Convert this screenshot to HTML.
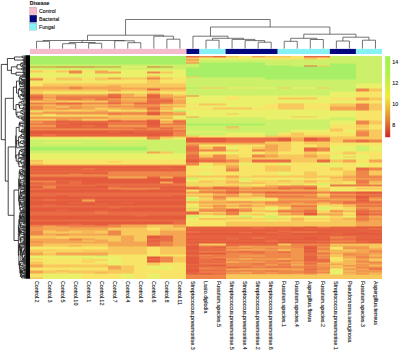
<!DOCTYPE html>
<html><head><meta charset="utf-8"><style>
html,body{margin:0;padding:0;background:#fff;width:400px;height:351px;overflow:hidden}
svg{display:block;font-family:"Liberation Sans",sans-serif}
</style></head><body>
<svg width="400" height="351" viewBox="0 0 400 351">
<defs><linearGradient id="c0" x1="0" y1="0" x2="0" y2="1"><stop offset="0.0000" stop-color="#a8ef68"/><stop offset="0.0392" stop-color="#a8ef68"/><stop offset="0.0415" stop-color="#cdf06a"/><stop offset="0.0482" stop-color="#cdf06a"/><stop offset="0.0504" stop-color="#c89a40"/><stop offset="0.0527" stop-color="#c89a40"/><stop offset="0.0549" stop-color="#cdf06a"/><stop offset="0.0617" stop-color="#cdf06a"/><stop offset="0.0639" stop-color="#eaf06a"/><stop offset="0.0661" stop-color="#eaf06a"/><stop offset="0.0684" stop-color="#f8c85c"/><stop offset="0.0751" stop-color="#f8c85c"/><stop offset="0.0774" stop-color="#eaf06a"/><stop offset="0.0975" stop-color="#eaf06a"/><stop offset="0.0998" stop-color="#f8c85c"/><stop offset="0.1020" stop-color="#f8c85c"/><stop offset="0.1043" stop-color="#ef874a"/><stop offset="0.1110" stop-color="#ef874a"/><stop offset="0.1132" stop-color="#eaf06a"/><stop offset="0.1155" stop-color="#eaf06a"/><stop offset="0.1177" stop-color="#f8e466"/><stop offset="0.1379" stop-color="#f8e466"/><stop offset="0.1401" stop-color="#f4a652"/><stop offset="0.1513" stop-color="#f4a652"/><stop offset="0.1536" stop-color="#f8c85c"/><stop offset="0.1648" stop-color="#f8c85c"/><stop offset="0.1670" stop-color="#f8e466"/><stop offset="0.1693" stop-color="#f8e466"/><stop offset="0.1715" stop-color="#f4a652"/><stop offset="0.1738" stop-color="#f4a652"/><stop offset="0.1760" stop-color="#ef874a"/><stop offset="0.1783" stop-color="#ef874a"/><stop offset="0.1805" stop-color="#e96c44"/><stop offset="0.1872" stop-color="#e96c44"/><stop offset="0.1895" stop-color="#e45a3c"/><stop offset="0.1917" stop-color="#e45a3c"/><stop offset="0.1939" stop-color="#ef874a"/><stop offset="0.1962" stop-color="#ef874a"/><stop offset="0.1984" stop-color="#e96c44"/><stop offset="0.2007" stop-color="#e96c44"/><stop offset="0.2029" stop-color="#f8c85c"/><stop offset="0.2096" stop-color="#f8c85c"/><stop offset="0.2119" stop-color="#ef874a"/><stop offset="0.2141" stop-color="#ef874a"/><stop offset="0.2164" stop-color="#e96c44"/><stop offset="0.2186" stop-color="#e96c44"/><stop offset="0.2209" stop-color="#f8c85c"/><stop offset="0.2231" stop-color="#f8c85c"/><stop offset="0.2253" stop-color="#ef874a"/><stop offset="0.2410" stop-color="#ef874a"/><stop offset="0.2433" stop-color="#f4a652"/><stop offset="0.2455" stop-color="#f4a652"/><stop offset="0.2478" stop-color="#eaf06a"/><stop offset="0.2500" stop-color="#eaf06a"/><stop offset="0.2522" stop-color="#f8c85c"/><stop offset="0.2545" stop-color="#f8c85c"/><stop offset="0.2567" stop-color="#f4a652"/><stop offset="0.2635" stop-color="#f4a652"/><stop offset="0.2657" stop-color="#f8c85c"/><stop offset="0.2679" stop-color="#f8c85c"/><stop offset="0.2702" stop-color="#f8e466"/><stop offset="0.2724" stop-color="#f8e466"/><stop offset="0.2747" stop-color="#f4a652"/><stop offset="0.2769" stop-color="#f4a652"/><stop offset="0.2791" stop-color="#ef874a"/><stop offset="0.2814" stop-color="#ef874a"/><stop offset="0.2836" stop-color="#f8c85c"/><stop offset="0.2904" stop-color="#f8c85c"/><stop offset="0.2926" stop-color="#ef874a"/><stop offset="0.2993" stop-color="#ef874a"/><stop offset="0.3016" stop-color="#f4a652"/><stop offset="0.3038" stop-color="#f4a652"/><stop offset="0.3061" stop-color="#e96c44"/><stop offset="0.3083" stop-color="#e96c44"/><stop offset="0.3105" stop-color="#ef874a"/><stop offset="0.3128" stop-color="#ef874a"/><stop offset="0.3150" stop-color="#f4a652"/><stop offset="0.3173" stop-color="#f4a652"/><stop offset="0.3195" stop-color="#ef874a"/><stop offset="0.3217" stop-color="#ef874a"/><stop offset="0.3240" stop-color="#e96c44"/><stop offset="0.3262" stop-color="#e96c44"/><stop offset="0.3285" stop-color="#ef874a"/><stop offset="0.3352" stop-color="#ef874a"/><stop offset="0.3374" stop-color="#e45a3c"/><stop offset="0.3531" stop-color="#e45a3c"/><stop offset="0.3554" stop-color="#e96c44"/><stop offset="0.3576" stop-color="#e96c44"/><stop offset="0.3599" stop-color="#e45a3c"/><stop offset="0.3621" stop-color="#e45a3c"/><stop offset="0.3643" stop-color="#f8c85c"/><stop offset="0.3666" stop-color="#f8c85c"/><stop offset="0.3688" stop-color="#eaf06a"/><stop offset="0.3756" stop-color="#eaf06a"/><stop offset="0.3778" stop-color="#cdf06a"/><stop offset="0.4070" stop-color="#cdf06a"/><stop offset="0.4092" stop-color="#a8ef68"/><stop offset="0.4249" stop-color="#a8ef68"/><stop offset="0.4271" stop-color="#cdf06a"/><stop offset="0.4383" stop-color="#cdf06a"/><stop offset="0.4406" stop-color="#eaf06a"/><stop offset="0.4652" stop-color="#eaf06a"/><stop offset="0.4675" stop-color="#f8e466"/><stop offset="0.4697" stop-color="#f8e466"/><stop offset="0.4720" stop-color="#f4a652"/><stop offset="0.4742" stop-color="#f4a652"/><stop offset="0.4765" stop-color="#f8e466"/><stop offset="0.4787" stop-color="#f8e466"/><stop offset="0.4809" stop-color="#f8c85c"/><stop offset="0.4877" stop-color="#f8c85c"/><stop offset="0.4899" stop-color="#f4a652"/><stop offset="0.4922" stop-color="#f4a652"/><stop offset="0.4944" stop-color="#e96c44"/><stop offset="0.4966" stop-color="#e96c44"/><stop offset="0.4989" stop-color="#e45a3c"/><stop offset="0.5056" stop-color="#e45a3c"/><stop offset="0.5078" stop-color="#e96c44"/><stop offset="0.5101" stop-color="#e96c44"/><stop offset="0.5123" stop-color="#e45a3c"/><stop offset="0.5146" stop-color="#e45a3c"/><stop offset="0.5168" stop-color="#e96c44"/><stop offset="0.5235" stop-color="#e96c44"/><stop offset="0.5258" stop-color="#e45a3c"/><stop offset="0.5280" stop-color="#e45a3c"/><stop offset="0.5303" stop-color="#e96c44"/><stop offset="0.5325" stop-color="#e96c44"/><stop offset="0.5348" stop-color="#ef874a"/><stop offset="0.5415" stop-color="#ef874a"/><stop offset="0.5437" stop-color="#e96c44"/><stop offset="0.5460" stop-color="#e96c44"/><stop offset="0.5482" stop-color="#e45a3c"/><stop offset="0.5594" stop-color="#e45a3c"/><stop offset="0.5617" stop-color="#ef874a"/><stop offset="0.5684" stop-color="#ef874a"/><stop offset="0.5706" stop-color="#e45a3c"/><stop offset="0.5729" stop-color="#e45a3c"/><stop offset="0.5751" stop-color="#e96c44"/><stop offset="0.5863" stop-color="#e96c44"/><stop offset="0.5886" stop-color="#e45a3c"/><stop offset="0.5953" stop-color="#e45a3c"/><stop offset="0.5975" stop-color="#ef874a"/><stop offset="0.5998" stop-color="#ef874a"/><stop offset="0.6020" stop-color="#e45a3c"/><stop offset="0.6132" stop-color="#e45a3c"/><stop offset="0.6155" stop-color="#e96c44"/><stop offset="0.6312" stop-color="#e96c44"/><stop offset="0.6334" stop-color="#e45a3c"/><stop offset="0.6446" stop-color="#e45a3c"/><stop offset="0.6469" stop-color="#e96c44"/><stop offset="0.6491" stop-color="#e96c44"/><stop offset="0.6513" stop-color="#e45a3c"/><stop offset="0.6715" stop-color="#e45a3c"/><stop offset="0.6738" stop-color="#e96c44"/><stop offset="0.6805" stop-color="#e96c44"/><stop offset="0.6827" stop-color="#e45a3c"/><stop offset="0.6984" stop-color="#e45a3c"/><stop offset="0.7007" stop-color="#e96c44"/><stop offset="0.7164" stop-color="#e96c44"/><stop offset="0.7186" stop-color="#e45a3c"/><stop offset="0.7343" stop-color="#e45a3c"/><stop offset="0.7365" stop-color="#e96c44"/><stop offset="0.7433" stop-color="#e96c44"/><stop offset="0.7455" stop-color="#e45a3c"/><stop offset="0.7567" stop-color="#e45a3c"/><stop offset="0.7590" stop-color="#e96c44"/><stop offset="0.7612" stop-color="#e96c44"/><stop offset="0.7635" stop-color="#ef874a"/><stop offset="0.7702" stop-color="#ef874a"/><stop offset="0.7724" stop-color="#f4a652"/><stop offset="0.7747" stop-color="#f4a652"/><stop offset="0.7769" stop-color="#ef874a"/><stop offset="0.7791" stop-color="#ef874a"/><stop offset="0.7814" stop-color="#f4a652"/><stop offset="0.7836" stop-color="#f4a652"/><stop offset="0.7859" stop-color="#ef874a"/><stop offset="0.8061" stop-color="#ef874a"/><stop offset="0.8083" stop-color="#f8c85c"/><stop offset="0.8195" stop-color="#f8c85c"/><stop offset="0.8217" stop-color="#f4a652"/><stop offset="0.8330" stop-color="#f4a652"/><stop offset="0.8352" stop-color="#ef874a"/><stop offset="0.8374" stop-color="#ef874a"/><stop offset="0.8397" stop-color="#f4a652"/><stop offset="0.8554" stop-color="#f4a652"/><stop offset="0.8576" stop-color="#f8e466"/><stop offset="0.8599" stop-color="#f8e466"/><stop offset="0.8621" stop-color="#eaf06a"/><stop offset="0.8643" stop-color="#eaf06a"/><stop offset="0.8666" stop-color="#f8e466"/><stop offset="0.8688" stop-color="#f8e466"/><stop offset="0.8711" stop-color="#f8c85c"/><stop offset="0.8823" stop-color="#f8c85c"/><stop offset="0.8845" stop-color="#f4a652"/><stop offset="0.8957" stop-color="#f4a652"/><stop offset="0.8980" stop-color="#eaf06a"/><stop offset="0.9092" stop-color="#eaf06a"/><stop offset="0.9114" stop-color="#f8c85c"/><stop offset="0.9137" stop-color="#f8c85c"/><stop offset="0.9159" stop-color="#f8e466"/><stop offset="0.9226" stop-color="#f8e466"/><stop offset="0.9249" stop-color="#f8c85c"/><stop offset="0.9361" stop-color="#f8c85c"/><stop offset="0.9383" stop-color="#f4a652"/><stop offset="0.9496" stop-color="#f4a652"/><stop offset="0.9518" stop-color="#f8e466"/><stop offset="0.9630" stop-color="#f8e466"/><stop offset="0.9652" stop-color="#f4a652"/><stop offset="0.9765" stop-color="#f4a652"/><stop offset="0.9787" stop-color="#f8e466"/><stop offset="0.9944" stop-color="#f8e466"/><stop offset="0.9966" stop-color="#f8c85c"/><stop offset="1.0000" stop-color="#f8c85c"/></linearGradient>
<linearGradient id="c1" x1="0" y1="0" x2="0" y2="1"><stop offset="0.0000" stop-color="#a8ef68"/><stop offset="0.0392" stop-color="#a8ef68"/><stop offset="0.0415" stop-color="#cdf06a"/><stop offset="0.0482" stop-color="#cdf06a"/><stop offset="0.0504" stop-color="#c89a40"/><stop offset="0.0527" stop-color="#c89a40"/><stop offset="0.0549" stop-color="#cdf06a"/><stop offset="0.0617" stop-color="#cdf06a"/><stop offset="0.0639" stop-color="#eaf06a"/><stop offset="0.0661" stop-color="#eaf06a"/><stop offset="0.0684" stop-color="#f8e466"/><stop offset="0.0751" stop-color="#f8e466"/><stop offset="0.0774" stop-color="#eaf06a"/><stop offset="0.0975" stop-color="#eaf06a"/><stop offset="0.0998" stop-color="#f8e466"/><stop offset="0.1110" stop-color="#f8e466"/><stop offset="0.1132" stop-color="#eaf06a"/><stop offset="0.1155" stop-color="#eaf06a"/><stop offset="0.1177" stop-color="#f8e466"/><stop offset="0.1244" stop-color="#f8e466"/><stop offset="0.1267" stop-color="#f8c85c"/><stop offset="0.1379" stop-color="#f8c85c"/><stop offset="0.1401" stop-color="#f4a652"/><stop offset="0.1513" stop-color="#f4a652"/><stop offset="0.1536" stop-color="#f8c85c"/><stop offset="0.1603" stop-color="#f8c85c"/><stop offset="0.1626" stop-color="#f8e466"/><stop offset="0.1648" stop-color="#f8e466"/><stop offset="0.1670" stop-color="#eaf06a"/><stop offset="0.1693" stop-color="#eaf06a"/><stop offset="0.1715" stop-color="#f8c85c"/><stop offset="0.1738" stop-color="#f8c85c"/><stop offset="0.1760" stop-color="#f4a652"/><stop offset="0.1872" stop-color="#f4a652"/><stop offset="0.1895" stop-color="#ef874a"/><stop offset="0.1917" stop-color="#ef874a"/><stop offset="0.1939" stop-color="#f8c85c"/><stop offset="0.1962" stop-color="#f8c85c"/><stop offset="0.1984" stop-color="#f4a652"/><stop offset="0.2052" stop-color="#f4a652"/><stop offset="0.2074" stop-color="#f8c85c"/><stop offset="0.2096" stop-color="#f8c85c"/><stop offset="0.2119" stop-color="#ef874a"/><stop offset="0.2186" stop-color="#ef874a"/><stop offset="0.2209" stop-color="#f8c85c"/><stop offset="0.2231" stop-color="#f8c85c"/><stop offset="0.2253" stop-color="#f4a652"/><stop offset="0.2410" stop-color="#f4a652"/><stop offset="0.2433" stop-color="#f8c85c"/><stop offset="0.2500" stop-color="#f8c85c"/><stop offset="0.2522" stop-color="#f4a652"/><stop offset="0.2545" stop-color="#f4a652"/><stop offset="0.2567" stop-color="#ef874a"/><stop offset="0.2590" stop-color="#ef874a"/><stop offset="0.2612" stop-color="#f8c85c"/><stop offset="0.2635" stop-color="#f8c85c"/><stop offset="0.2657" stop-color="#f8e466"/><stop offset="0.2679" stop-color="#f8e466"/><stop offset="0.2702" stop-color="#eaf06a"/><stop offset="0.2724" stop-color="#eaf06a"/><stop offset="0.2747" stop-color="#f4a652"/><stop offset="0.2769" stop-color="#f4a652"/><stop offset="0.2791" stop-color="#ef874a"/><stop offset="0.2814" stop-color="#ef874a"/><stop offset="0.2836" stop-color="#f8c85c"/><stop offset="0.2904" stop-color="#f8c85c"/><stop offset="0.2926" stop-color="#ef874a"/><stop offset="0.2948" stop-color="#ef874a"/><stop offset="0.2971" stop-color="#e96c44"/><stop offset="0.2993" stop-color="#e96c44"/><stop offset="0.3016" stop-color="#ef874a"/><stop offset="0.3038" stop-color="#ef874a"/><stop offset="0.3061" stop-color="#e96c44"/><stop offset="0.3083" stop-color="#e96c44"/><stop offset="0.3105" stop-color="#ef874a"/><stop offset="0.3128" stop-color="#ef874a"/><stop offset="0.3150" stop-color="#f4a652"/><stop offset="0.3173" stop-color="#f4a652"/><stop offset="0.3195" stop-color="#ef874a"/><stop offset="0.3217" stop-color="#ef874a"/><stop offset="0.3240" stop-color="#e96c44"/><stop offset="0.3262" stop-color="#e96c44"/><stop offset="0.3285" stop-color="#ef874a"/><stop offset="0.3352" stop-color="#ef874a"/><stop offset="0.3374" stop-color="#e45a3c"/><stop offset="0.3531" stop-color="#e45a3c"/><stop offset="0.3554" stop-color="#ef874a"/><stop offset="0.3576" stop-color="#ef874a"/><stop offset="0.3599" stop-color="#e45a3c"/><stop offset="0.3621" stop-color="#e45a3c"/><stop offset="0.3643" stop-color="#f8c85c"/><stop offset="0.3666" stop-color="#f8c85c"/><stop offset="0.3688" stop-color="#eaf06a"/><stop offset="0.3756" stop-color="#eaf06a"/><stop offset="0.3778" stop-color="#cdf06a"/><stop offset="0.3890" stop-color="#cdf06a"/><stop offset="0.3913" stop-color="#eaf06a"/><stop offset="0.3935" stop-color="#eaf06a"/><stop offset="0.3957" stop-color="#cdf06a"/><stop offset="0.4070" stop-color="#cdf06a"/><stop offset="0.4092" stop-color="#a8ef68"/><stop offset="0.4249" stop-color="#a8ef68"/><stop offset="0.4271" stop-color="#cdf06a"/><stop offset="0.4383" stop-color="#cdf06a"/><stop offset="0.4406" stop-color="#eaf06a"/><stop offset="0.4652" stop-color="#eaf06a"/><stop offset="0.4675" stop-color="#f8e466"/><stop offset="0.4877" stop-color="#f8e466"/><stop offset="0.4899" stop-color="#f4a652"/><stop offset="0.4922" stop-color="#f4a652"/><stop offset="0.4944" stop-color="#e96c44"/><stop offset="0.4966" stop-color="#e96c44"/><stop offset="0.4989" stop-color="#e45a3c"/><stop offset="0.5056" stop-color="#e45a3c"/><stop offset="0.5078" stop-color="#e96c44"/><stop offset="0.5101" stop-color="#e96c44"/><stop offset="0.5123" stop-color="#e45a3c"/><stop offset="0.5146" stop-color="#e45a3c"/><stop offset="0.5168" stop-color="#e96c44"/><stop offset="0.5235" stop-color="#e96c44"/><stop offset="0.5258" stop-color="#e45a3c"/><stop offset="0.5280" stop-color="#e45a3c"/><stop offset="0.5303" stop-color="#e96c44"/><stop offset="0.5325" stop-color="#e96c44"/><stop offset="0.5348" stop-color="#ef874a"/><stop offset="0.5415" stop-color="#ef874a"/><stop offset="0.5437" stop-color="#e96c44"/><stop offset="0.5460" stop-color="#e96c44"/><stop offset="0.5482" stop-color="#e45a3c"/><stop offset="0.5594" stop-color="#e45a3c"/><stop offset="0.5617" stop-color="#ef874a"/><stop offset="0.5684" stop-color="#ef874a"/><stop offset="0.5706" stop-color="#e96c44"/><stop offset="0.5818" stop-color="#e96c44"/><stop offset="0.5841" stop-color="#ef874a"/><stop offset="0.5953" stop-color="#ef874a"/><stop offset="0.5975" stop-color="#e96c44"/><stop offset="0.5998" stop-color="#e96c44"/><stop offset="0.6020" stop-color="#e45a3c"/><stop offset="0.6132" stop-color="#e45a3c"/><stop offset="0.6155" stop-color="#e96c44"/><stop offset="0.6312" stop-color="#e96c44"/><stop offset="0.6334" stop-color="#e45a3c"/><stop offset="0.6446" stop-color="#e45a3c"/><stop offset="0.6469" stop-color="#ef874a"/><stop offset="0.6491" stop-color="#ef874a"/><stop offset="0.6513" stop-color="#e45a3c"/><stop offset="0.6670" stop-color="#e45a3c"/><stop offset="0.6693" stop-color="#e96c44"/><stop offset="0.6805" stop-color="#e96c44"/><stop offset="0.6827" stop-color="#e45a3c"/><stop offset="0.6984" stop-color="#e45a3c"/><stop offset="0.7007" stop-color="#e96c44"/><stop offset="0.7164" stop-color="#e96c44"/><stop offset="0.7186" stop-color="#e45a3c"/><stop offset="0.7343" stop-color="#e45a3c"/><stop offset="0.7365" stop-color="#e96c44"/><stop offset="0.7433" stop-color="#e96c44"/><stop offset="0.7455" stop-color="#e45a3c"/><stop offset="0.7567" stop-color="#e45a3c"/><stop offset="0.7590" stop-color="#e96c44"/><stop offset="0.7612" stop-color="#e96c44"/><stop offset="0.7635" stop-color="#f4a652"/><stop offset="0.7836" stop-color="#f4a652"/><stop offset="0.7859" stop-color="#f8c85c"/><stop offset="0.7971" stop-color="#f8c85c"/><stop offset="0.7993" stop-color="#f4a652"/><stop offset="0.8061" stop-color="#f4a652"/><stop offset="0.8083" stop-color="#f8c85c"/><stop offset="0.8195" stop-color="#f8c85c"/><stop offset="0.8217" stop-color="#f4a652"/><stop offset="0.8419" stop-color="#f4a652"/><stop offset="0.8442" stop-color="#f8c85c"/><stop offset="0.8554" stop-color="#f8c85c"/><stop offset="0.8576" stop-color="#f8e466"/><stop offset="0.8688" stop-color="#f8e466"/><stop offset="0.8711" stop-color="#f8c85c"/><stop offset="0.8778" stop-color="#f8c85c"/><stop offset="0.8800" stop-color="#f8e466"/><stop offset="0.8823" stop-color="#f8e466"/><stop offset="0.8845" stop-color="#f8c85c"/><stop offset="0.8957" stop-color="#f8c85c"/><stop offset="0.8980" stop-color="#f8e466"/><stop offset="0.9002" stop-color="#f8e466"/><stop offset="0.9025" stop-color="#eaf06a"/><stop offset="0.9092" stop-color="#eaf06a"/><stop offset="0.9114" stop-color="#f8e466"/><stop offset="0.9226" stop-color="#f8e466"/><stop offset="0.9249" stop-color="#eaf06a"/><stop offset="0.9271" stop-color="#eaf06a"/><stop offset="0.9294" stop-color="#f8e466"/><stop offset="0.9361" stop-color="#f8e466"/><stop offset="0.9383" stop-color="#f8c85c"/><stop offset="0.9496" stop-color="#f8c85c"/><stop offset="0.9518" stop-color="#f8e466"/><stop offset="0.9630" stop-color="#f8e466"/><stop offset="0.9652" stop-color="#f8c85c"/><stop offset="0.9765" stop-color="#f8c85c"/><stop offset="0.9787" stop-color="#eaf06a"/><stop offset="1.0000" stop-color="#eaf06a"/></linearGradient>
<linearGradient id="c2" x1="0" y1="0" x2="0" y2="1"><stop offset="0.0000" stop-color="#a8ef68"/><stop offset="0.0392" stop-color="#a8ef68"/><stop offset="0.0415" stop-color="#cdf06a"/><stop offset="0.0482" stop-color="#cdf06a"/><stop offset="0.0504" stop-color="#d07838"/><stop offset="0.0527" stop-color="#d07838"/><stop offset="0.0549" stop-color="#cdf06a"/><stop offset="0.0617" stop-color="#cdf06a"/><stop offset="0.0639" stop-color="#eaf06a"/><stop offset="0.0661" stop-color="#eaf06a"/><stop offset="0.0684" stop-color="#f8c85c"/><stop offset="0.0751" stop-color="#f8c85c"/><stop offset="0.0774" stop-color="#eaf06a"/><stop offset="0.0975" stop-color="#eaf06a"/><stop offset="0.0998" stop-color="#f8c85c"/><stop offset="0.1110" stop-color="#f8c85c"/><stop offset="0.1132" stop-color="#eaf06a"/><stop offset="0.1155" stop-color="#eaf06a"/><stop offset="0.1177" stop-color="#f8e466"/><stop offset="0.1244" stop-color="#f8e466"/><stop offset="0.1267" stop-color="#f8c85c"/><stop offset="0.1379" stop-color="#f8c85c"/><stop offset="0.1401" stop-color="#f4a652"/><stop offset="0.1513" stop-color="#f4a652"/><stop offset="0.1536" stop-color="#f8c85c"/><stop offset="0.1603" stop-color="#f8c85c"/><stop offset="0.1626" stop-color="#f8e466"/><stop offset="0.1648" stop-color="#f8e466"/><stop offset="0.1670" stop-color="#eaf06a"/><stop offset="0.1693" stop-color="#eaf06a"/><stop offset="0.1715" stop-color="#f8c85c"/><stop offset="0.1738" stop-color="#f8c85c"/><stop offset="0.1760" stop-color="#f4a652"/><stop offset="0.1783" stop-color="#f4a652"/><stop offset="0.1805" stop-color="#ef874a"/><stop offset="0.1872" stop-color="#ef874a"/><stop offset="0.1895" stop-color="#e96c44"/><stop offset="0.1917" stop-color="#e96c44"/><stop offset="0.1939" stop-color="#ef874a"/><stop offset="0.2007" stop-color="#ef874a"/><stop offset="0.2029" stop-color="#f8c85c"/><stop offset="0.2096" stop-color="#f8c85c"/><stop offset="0.2119" stop-color="#e96c44"/><stop offset="0.2186" stop-color="#e96c44"/><stop offset="0.2209" stop-color="#f4a652"/><stop offset="0.2276" stop-color="#f4a652"/><stop offset="0.2298" stop-color="#f8c85c"/><stop offset="0.2321" stop-color="#f8c85c"/><stop offset="0.2343" stop-color="#f4a652"/><stop offset="0.2365" stop-color="#f4a652"/><stop offset="0.2388" stop-color="#ef874a"/><stop offset="0.2410" stop-color="#ef874a"/><stop offset="0.2433" stop-color="#f8c85c"/><stop offset="0.2500" stop-color="#f8c85c"/><stop offset="0.2522" stop-color="#f4a652"/><stop offset="0.2545" stop-color="#f4a652"/><stop offset="0.2567" stop-color="#ef874a"/><stop offset="0.2590" stop-color="#ef874a"/><stop offset="0.2612" stop-color="#f4a652"/><stop offset="0.2635" stop-color="#f4a652"/><stop offset="0.2657" stop-color="#f8c85c"/><stop offset="0.2679" stop-color="#f8c85c"/><stop offset="0.2702" stop-color="#f8e466"/><stop offset="0.2724" stop-color="#f8e466"/><stop offset="0.2747" stop-color="#f4a652"/><stop offset="0.2769" stop-color="#f4a652"/><stop offset="0.2791" stop-color="#ef874a"/><stop offset="0.2814" stop-color="#ef874a"/><stop offset="0.2836" stop-color="#f4a652"/><stop offset="0.2859" stop-color="#f4a652"/><stop offset="0.2881" stop-color="#ef874a"/><stop offset="0.2904" stop-color="#ef874a"/><stop offset="0.2926" stop-color="#e96c44"/><stop offset="0.2948" stop-color="#e96c44"/><stop offset="0.2971" stop-color="#e45a3c"/><stop offset="0.2993" stop-color="#e45a3c"/><stop offset="0.3016" stop-color="#e96c44"/><stop offset="0.3083" stop-color="#e96c44"/><stop offset="0.3105" stop-color="#e45a3c"/><stop offset="0.3128" stop-color="#e45a3c"/><stop offset="0.3150" stop-color="#e96c44"/><stop offset="0.3173" stop-color="#e96c44"/><stop offset="0.3195" stop-color="#e45a3c"/><stop offset="0.3217" stop-color="#e45a3c"/><stop offset="0.3240" stop-color="#e96c44"/><stop offset="0.3262" stop-color="#e96c44"/><stop offset="0.3285" stop-color="#ef874a"/><stop offset="0.3352" stop-color="#ef874a"/><stop offset="0.3374" stop-color="#e45a3c"/><stop offset="0.3531" stop-color="#e45a3c"/><stop offset="0.3554" stop-color="#e96c44"/><stop offset="0.3576" stop-color="#e96c44"/><stop offset="0.3599" stop-color="#e45a3c"/><stop offset="0.3621" stop-color="#e45a3c"/><stop offset="0.3643" stop-color="#f8c85c"/><stop offset="0.3666" stop-color="#f8c85c"/><stop offset="0.3688" stop-color="#eaf06a"/><stop offset="0.3756" stop-color="#eaf06a"/><stop offset="0.3778" stop-color="#cdf06a"/><stop offset="0.3890" stop-color="#cdf06a"/><stop offset="0.3913" stop-color="#eaf06a"/><stop offset="0.3935" stop-color="#eaf06a"/><stop offset="0.3957" stop-color="#cdf06a"/><stop offset="0.4070" stop-color="#cdf06a"/><stop offset="0.4092" stop-color="#a8ef68"/><stop offset="0.4249" stop-color="#a8ef68"/><stop offset="0.4271" stop-color="#cdf06a"/><stop offset="0.4383" stop-color="#cdf06a"/><stop offset="0.4406" stop-color="#eaf06a"/><stop offset="0.4652" stop-color="#eaf06a"/><stop offset="0.4675" stop-color="#f8e466"/><stop offset="0.4877" stop-color="#f8e466"/><stop offset="0.4899" stop-color="#f4a652"/><stop offset="0.4922" stop-color="#f4a652"/><stop offset="0.4944" stop-color="#e96c44"/><stop offset="0.4966" stop-color="#e96c44"/><stop offset="0.4989" stop-color="#e45a3c"/><stop offset="0.5056" stop-color="#e45a3c"/><stop offset="0.5078" stop-color="#e96c44"/><stop offset="0.5101" stop-color="#e96c44"/><stop offset="0.5123" stop-color="#e45a3c"/><stop offset="0.5146" stop-color="#e45a3c"/><stop offset="0.5168" stop-color="#e96c44"/><stop offset="0.5235" stop-color="#e96c44"/><stop offset="0.5258" stop-color="#e45a3c"/><stop offset="0.5280" stop-color="#e45a3c"/><stop offset="0.5303" stop-color="#e96c44"/><stop offset="0.5325" stop-color="#e96c44"/><stop offset="0.5348" stop-color="#ef874a"/><stop offset="0.5415" stop-color="#ef874a"/><stop offset="0.5437" stop-color="#e96c44"/><stop offset="0.5460" stop-color="#e96c44"/><stop offset="0.5482" stop-color="#e45a3c"/><stop offset="0.5594" stop-color="#e45a3c"/><stop offset="0.5617" stop-color="#e96c44"/><stop offset="0.5639" stop-color="#e96c44"/><stop offset="0.5661" stop-color="#e45a3c"/><stop offset="0.5729" stop-color="#e45a3c"/><stop offset="0.5751" stop-color="#e96c44"/><stop offset="0.5863" stop-color="#e96c44"/><stop offset="0.5886" stop-color="#e45a3c"/><stop offset="0.5953" stop-color="#e45a3c"/><stop offset="0.5975" stop-color="#e96c44"/><stop offset="0.5998" stop-color="#e96c44"/><stop offset="0.6020" stop-color="#e45a3c"/><stop offset="0.6132" stop-color="#e45a3c"/><stop offset="0.6155" stop-color="#e96c44"/><stop offset="0.6267" stop-color="#e96c44"/><stop offset="0.6289" stop-color="#e45a3c"/><stop offset="0.6446" stop-color="#e45a3c"/><stop offset="0.6469" stop-color="#e96c44"/><stop offset="0.6491" stop-color="#e96c44"/><stop offset="0.6513" stop-color="#e45a3c"/><stop offset="0.6715" stop-color="#e45a3c"/><stop offset="0.6738" stop-color="#e96c44"/><stop offset="0.6805" stop-color="#e96c44"/><stop offset="0.6827" stop-color="#e45a3c"/><stop offset="0.6895" stop-color="#e45a3c"/><stop offset="0.6917" stop-color="#e96c44"/><stop offset="0.6939" stop-color="#e96c44"/><stop offset="0.6962" stop-color="#e45a3c"/><stop offset="0.6984" stop-color="#e45a3c"/><stop offset="0.7007" stop-color="#e96c44"/><stop offset="0.7164" stop-color="#e96c44"/><stop offset="0.7186" stop-color="#e45a3c"/><stop offset="0.7343" stop-color="#e45a3c"/><stop offset="0.7365" stop-color="#e96c44"/><stop offset="0.7433" stop-color="#e96c44"/><stop offset="0.7455" stop-color="#e45a3c"/><stop offset="0.7567" stop-color="#e45a3c"/><stop offset="0.7590" stop-color="#e96c44"/><stop offset="0.7612" stop-color="#e96c44"/><stop offset="0.7635" stop-color="#ef874a"/><stop offset="0.7657" stop-color="#ef874a"/><stop offset="0.7679" stop-color="#f4a652"/><stop offset="0.7881" stop-color="#f4a652"/><stop offset="0.7904" stop-color="#f8c85c"/><stop offset="0.7971" stop-color="#f8c85c"/><stop offset="0.7993" stop-color="#f4a652"/><stop offset="0.8016" stop-color="#f4a652"/><stop offset="0.8038" stop-color="#ef874a"/><stop offset="0.8061" stop-color="#ef874a"/><stop offset="0.8083" stop-color="#f8c85c"/><stop offset="0.8150" stop-color="#f8c85c"/><stop offset="0.8173" stop-color="#f8e466"/><stop offset="0.8195" stop-color="#f8e466"/><stop offset="0.8217" stop-color="#f4a652"/><stop offset="0.8419" stop-color="#f4a652"/><stop offset="0.8442" stop-color="#f8c85c"/><stop offset="0.8554" stop-color="#f8c85c"/><stop offset="0.8576" stop-color="#f8e466"/><stop offset="0.8688" stop-color="#f8e466"/><stop offset="0.8711" stop-color="#f8c85c"/><stop offset="0.8733" stop-color="#f8c85c"/><stop offset="0.8756" stop-color="#f8e466"/><stop offset="0.8778" stop-color="#f8e466"/><stop offset="0.8800" stop-color="#f8c85c"/><stop offset="0.8823" stop-color="#f8c85c"/><stop offset="0.8845" stop-color="#f4a652"/><stop offset="0.8957" stop-color="#f4a652"/><stop offset="0.8980" stop-color="#eaf06a"/><stop offset="0.9092" stop-color="#eaf06a"/><stop offset="0.9114" stop-color="#f8e466"/><stop offset="0.9361" stop-color="#f8e466"/><stop offset="0.9383" stop-color="#f8c85c"/><stop offset="0.9496" stop-color="#f8c85c"/><stop offset="0.9518" stop-color="#f8e466"/><stop offset="0.9630" stop-color="#f8e466"/><stop offset="0.9652" stop-color="#f4a652"/><stop offset="0.9675" stop-color="#f4a652"/><stop offset="0.9697" stop-color="#f8e466"/><stop offset="0.9720" stop-color="#f8e466"/><stop offset="0.9742" stop-color="#f8c85c"/><stop offset="0.9765" stop-color="#f8c85c"/><stop offset="0.9787" stop-color="#eaf06a"/><stop offset="1.0000" stop-color="#eaf06a"/></linearGradient>
<linearGradient id="c3" x1="0" y1="0" x2="0" y2="1"><stop offset="0.0000" stop-color="#a8ef68"/><stop offset="0.0392" stop-color="#a8ef68"/><stop offset="0.0415" stop-color="#cdf06a"/><stop offset="0.0482" stop-color="#cdf06a"/><stop offset="0.0504" stop-color="#d07838"/><stop offset="0.0527" stop-color="#d07838"/><stop offset="0.0549" stop-color="#cdf06a"/><stop offset="0.0617" stop-color="#cdf06a"/><stop offset="0.0639" stop-color="#eaf06a"/><stop offset="0.0661" stop-color="#eaf06a"/><stop offset="0.0684" stop-color="#ef874a"/><stop offset="0.0796" stop-color="#ef874a"/><stop offset="0.0818" stop-color="#eaf06a"/><stop offset="0.0975" stop-color="#eaf06a"/><stop offset="0.0998" stop-color="#f8c85c"/><stop offset="0.1110" stop-color="#f8c85c"/><stop offset="0.1132" stop-color="#eaf06a"/><stop offset="0.1155" stop-color="#eaf06a"/><stop offset="0.1177" stop-color="#f8e466"/><stop offset="0.1244" stop-color="#f8e466"/><stop offset="0.1267" stop-color="#f8c85c"/><stop offset="0.1379" stop-color="#f8c85c"/><stop offset="0.1401" stop-color="#ef874a"/><stop offset="0.1513" stop-color="#ef874a"/><stop offset="0.1536" stop-color="#f8c85c"/><stop offset="0.1603" stop-color="#f8c85c"/><stop offset="0.1626" stop-color="#f8e466"/><stop offset="0.1648" stop-color="#f8e466"/><stop offset="0.1670" stop-color="#eaf06a"/><stop offset="0.1693" stop-color="#eaf06a"/><stop offset="0.1715" stop-color="#f8c85c"/><stop offset="0.1738" stop-color="#f8c85c"/><stop offset="0.1760" stop-color="#f4a652"/><stop offset="0.1783" stop-color="#f4a652"/><stop offset="0.1805" stop-color="#ef874a"/><stop offset="0.1872" stop-color="#ef874a"/><stop offset="0.1895" stop-color="#e96c44"/><stop offset="0.1917" stop-color="#e96c44"/><stop offset="0.1939" stop-color="#ef874a"/><stop offset="0.1962" stop-color="#ef874a"/><stop offset="0.1984" stop-color="#e96c44"/><stop offset="0.2007" stop-color="#e96c44"/><stop offset="0.2029" stop-color="#f8e466"/><stop offset="0.2052" stop-color="#f8e466"/><stop offset="0.2074" stop-color="#f8c85c"/><stop offset="0.2096" stop-color="#f8c85c"/><stop offset="0.2119" stop-color="#e96c44"/><stop offset="0.2186" stop-color="#e96c44"/><stop offset="0.2209" stop-color="#f4a652"/><stop offset="0.2276" stop-color="#f4a652"/><stop offset="0.2298" stop-color="#ef874a"/><stop offset="0.2321" stop-color="#ef874a"/><stop offset="0.2343" stop-color="#f4a652"/><stop offset="0.2365" stop-color="#f4a652"/><stop offset="0.2388" stop-color="#ef874a"/><stop offset="0.2410" stop-color="#ef874a"/><stop offset="0.2433" stop-color="#f8e466"/><stop offset="0.2455" stop-color="#f8e466"/><stop offset="0.2478" stop-color="#f8c85c"/><stop offset="0.2500" stop-color="#f8c85c"/><stop offset="0.2522" stop-color="#f4a652"/><stop offset="0.2545" stop-color="#f4a652"/><stop offset="0.2567" stop-color="#ef874a"/><stop offset="0.2590" stop-color="#ef874a"/><stop offset="0.2612" stop-color="#f4a652"/><stop offset="0.2635" stop-color="#f4a652"/><stop offset="0.2657" stop-color="#f8c85c"/><stop offset="0.2679" stop-color="#f8c85c"/><stop offset="0.2702" stop-color="#f8e466"/><stop offset="0.2724" stop-color="#f8e466"/><stop offset="0.2747" stop-color="#f4a652"/><stop offset="0.2769" stop-color="#f4a652"/><stop offset="0.2791" stop-color="#ef874a"/><stop offset="0.2814" stop-color="#ef874a"/><stop offset="0.2836" stop-color="#f4a652"/><stop offset="0.2904" stop-color="#f4a652"/><stop offset="0.2926" stop-color="#e96c44"/><stop offset="0.2948" stop-color="#e96c44"/><stop offset="0.2971" stop-color="#e45a3c"/><stop offset="0.2993" stop-color="#e45a3c"/><stop offset="0.3016" stop-color="#e96c44"/><stop offset="0.3038" stop-color="#e96c44"/><stop offset="0.3061" stop-color="#e45a3c"/><stop offset="0.3128" stop-color="#e45a3c"/><stop offset="0.3150" stop-color="#e96c44"/><stop offset="0.3173" stop-color="#e96c44"/><stop offset="0.3195" stop-color="#e45a3c"/><stop offset="0.3217" stop-color="#e45a3c"/><stop offset="0.3240" stop-color="#e96c44"/><stop offset="0.3262" stop-color="#e96c44"/><stop offset="0.3285" stop-color="#ef874a"/><stop offset="0.3352" stop-color="#ef874a"/><stop offset="0.3374" stop-color="#e45a3c"/><stop offset="0.3531" stop-color="#e45a3c"/><stop offset="0.3554" stop-color="#e96c44"/><stop offset="0.3576" stop-color="#e96c44"/><stop offset="0.3599" stop-color="#e45a3c"/><stop offset="0.3621" stop-color="#e45a3c"/><stop offset="0.3643" stop-color="#f8c85c"/><stop offset="0.3666" stop-color="#f8c85c"/><stop offset="0.3688" stop-color="#eaf06a"/><stop offset="0.3756" stop-color="#eaf06a"/><stop offset="0.3778" stop-color="#cdf06a"/><stop offset="0.3890" stop-color="#cdf06a"/><stop offset="0.3913" stop-color="#eaf06a"/><stop offset="0.3935" stop-color="#eaf06a"/><stop offset="0.3957" stop-color="#cdf06a"/><stop offset="0.4070" stop-color="#cdf06a"/><stop offset="0.4092" stop-color="#a8ef68"/><stop offset="0.4249" stop-color="#a8ef68"/><stop offset="0.4271" stop-color="#cdf06a"/><stop offset="0.4383" stop-color="#cdf06a"/><stop offset="0.4406" stop-color="#eaf06a"/><stop offset="0.4652" stop-color="#eaf06a"/><stop offset="0.4675" stop-color="#f8e466"/><stop offset="0.4877" stop-color="#f8e466"/><stop offset="0.4899" stop-color="#f4a652"/><stop offset="0.4922" stop-color="#f4a652"/><stop offset="0.4944" stop-color="#e96c44"/><stop offset="0.4966" stop-color="#e96c44"/><stop offset="0.4989" stop-color="#e45a3c"/><stop offset="0.5056" stop-color="#e45a3c"/><stop offset="0.5078" stop-color="#e96c44"/><stop offset="0.5101" stop-color="#e96c44"/><stop offset="0.5123" stop-color="#e45a3c"/><stop offset="0.5146" stop-color="#e45a3c"/><stop offset="0.5168" stop-color="#e96c44"/><stop offset="0.5235" stop-color="#e96c44"/><stop offset="0.5258" stop-color="#e45a3c"/><stop offset="0.5280" stop-color="#e45a3c"/><stop offset="0.5303" stop-color="#ef874a"/><stop offset="0.5415" stop-color="#ef874a"/><stop offset="0.5437" stop-color="#e96c44"/><stop offset="0.5460" stop-color="#e96c44"/><stop offset="0.5482" stop-color="#e45a3c"/><stop offset="0.5594" stop-color="#e45a3c"/><stop offset="0.5617" stop-color="#e96c44"/><stop offset="0.5863" stop-color="#e96c44"/><stop offset="0.5886" stop-color="#e45a3c"/><stop offset="0.5953" stop-color="#e45a3c"/><stop offset="0.5975" stop-color="#e96c44"/><stop offset="0.5998" stop-color="#e96c44"/><stop offset="0.6020" stop-color="#e45a3c"/><stop offset="0.6132" stop-color="#e45a3c"/><stop offset="0.6155" stop-color="#e96c44"/><stop offset="0.6312" stop-color="#e96c44"/><stop offset="0.6334" stop-color="#e45a3c"/><stop offset="0.6446" stop-color="#e45a3c"/><stop offset="0.6469" stop-color="#e96c44"/><stop offset="0.6491" stop-color="#e96c44"/><stop offset="0.6513" stop-color="#e45a3c"/><stop offset="0.6581" stop-color="#e45a3c"/><stop offset="0.6603" stop-color="#e96c44"/><stop offset="0.6626" stop-color="#e96c44"/><stop offset="0.6648" stop-color="#e45a3c"/><stop offset="0.6715" stop-color="#e45a3c"/><stop offset="0.6738" stop-color="#e96c44"/><stop offset="0.6805" stop-color="#e96c44"/><stop offset="0.6827" stop-color="#e45a3c"/><stop offset="0.6984" stop-color="#e45a3c"/><stop offset="0.7007" stop-color="#e96c44"/><stop offset="0.7164" stop-color="#e96c44"/><stop offset="0.7186" stop-color="#e45a3c"/><stop offset="0.7343" stop-color="#e45a3c"/><stop offset="0.7365" stop-color="#e96c44"/><stop offset="0.7433" stop-color="#e96c44"/><stop offset="0.7455" stop-color="#e45a3c"/><stop offset="0.7522" stop-color="#e45a3c"/><stop offset="0.7545" stop-color="#e96c44"/><stop offset="0.7612" stop-color="#e96c44"/><stop offset="0.7635" stop-color="#ef874a"/><stop offset="0.7702" stop-color="#ef874a"/><stop offset="0.7724" stop-color="#f4a652"/><stop offset="0.7836" stop-color="#f4a652"/><stop offset="0.7859" stop-color="#f8c85c"/><stop offset="0.7971" stop-color="#f8c85c"/><stop offset="0.7993" stop-color="#f4a652"/><stop offset="0.8061" stop-color="#f4a652"/><stop offset="0.8083" stop-color="#f8c85c"/><stop offset="0.8195" stop-color="#f8c85c"/><stop offset="0.8217" stop-color="#ef874a"/><stop offset="0.8285" stop-color="#ef874a"/><stop offset="0.8307" stop-color="#f4a652"/><stop offset="0.8419" stop-color="#f4a652"/><stop offset="0.8442" stop-color="#f8c85c"/><stop offset="0.8509" stop-color="#f8c85c"/><stop offset="0.8531" stop-color="#f4a652"/><stop offset="0.8554" stop-color="#f4a652"/><stop offset="0.8576" stop-color="#f8e466"/><stop offset="0.8688" stop-color="#f8e466"/><stop offset="0.8711" stop-color="#f8c85c"/><stop offset="0.8733" stop-color="#f8c85c"/><stop offset="0.8756" stop-color="#f8e466"/><stop offset="0.8778" stop-color="#f8e466"/><stop offset="0.8800" stop-color="#f8c85c"/><stop offset="0.8823" stop-color="#f8c85c"/><stop offset="0.8845" stop-color="#f4a652"/><stop offset="0.8957" stop-color="#f4a652"/><stop offset="0.8980" stop-color="#eaf06a"/><stop offset="0.9092" stop-color="#eaf06a"/><stop offset="0.9114" stop-color="#f8e466"/><stop offset="0.9361" stop-color="#f8e466"/><stop offset="0.9383" stop-color="#f8c85c"/><stop offset="0.9496" stop-color="#f8c85c"/><stop offset="0.9518" stop-color="#eaf06a"/><stop offset="0.9540" stop-color="#eaf06a"/><stop offset="0.9563" stop-color="#f8e466"/><stop offset="0.9630" stop-color="#f8e466"/><stop offset="0.9652" stop-color="#f8c85c"/><stop offset="0.9765" stop-color="#f8c85c"/><stop offset="0.9787" stop-color="#eaf06a"/><stop offset="1.0000" stop-color="#eaf06a"/></linearGradient>
<linearGradient id="c4" x1="0" y1="0" x2="0" y2="1"><stop offset="0.0000" stop-color="#a8ef68"/><stop offset="0.0392" stop-color="#a8ef68"/><stop offset="0.0415" stop-color="#cdf06a"/><stop offset="0.0482" stop-color="#cdf06a"/><stop offset="0.0504" stop-color="#d07838"/><stop offset="0.0527" stop-color="#d07838"/><stop offset="0.0549" stop-color="#cdf06a"/><stop offset="0.0617" stop-color="#cdf06a"/><stop offset="0.0639" stop-color="#eaf06a"/><stop offset="0.0661" stop-color="#eaf06a"/><stop offset="0.0684" stop-color="#f8e466"/><stop offset="0.0751" stop-color="#f8e466"/><stop offset="0.0774" stop-color="#eaf06a"/><stop offset="0.0975" stop-color="#eaf06a"/><stop offset="0.0998" stop-color="#f8e466"/><stop offset="0.1110" stop-color="#f8e466"/><stop offset="0.1132" stop-color="#eaf06a"/><stop offset="0.1155" stop-color="#eaf06a"/><stop offset="0.1177" stop-color="#f8e466"/><stop offset="0.1244" stop-color="#f8e466"/><stop offset="0.1267" stop-color="#f8c85c"/><stop offset="0.1379" stop-color="#f8c85c"/><stop offset="0.1401" stop-color="#f4a652"/><stop offset="0.1513" stop-color="#f4a652"/><stop offset="0.1536" stop-color="#f8c85c"/><stop offset="0.1603" stop-color="#f8c85c"/><stop offset="0.1626" stop-color="#f8e466"/><stop offset="0.1648" stop-color="#f8e466"/><stop offset="0.1670" stop-color="#eaf06a"/><stop offset="0.1693" stop-color="#eaf06a"/><stop offset="0.1715" stop-color="#f8c85c"/><stop offset="0.1738" stop-color="#f8c85c"/><stop offset="0.1760" stop-color="#f4a652"/><stop offset="0.1783" stop-color="#f4a652"/><stop offset="0.1805" stop-color="#ef874a"/><stop offset="0.1872" stop-color="#ef874a"/><stop offset="0.1895" stop-color="#e96c44"/><stop offset="0.1917" stop-color="#e96c44"/><stop offset="0.1939" stop-color="#f4a652"/><stop offset="0.1962" stop-color="#f4a652"/><stop offset="0.1984" stop-color="#ef874a"/><stop offset="0.2007" stop-color="#ef874a"/><stop offset="0.2029" stop-color="#f8c85c"/><stop offset="0.2096" stop-color="#f8c85c"/><stop offset="0.2119" stop-color="#ef874a"/><stop offset="0.2186" stop-color="#ef874a"/><stop offset="0.2209" stop-color="#f8c85c"/><stop offset="0.2231" stop-color="#f8c85c"/><stop offset="0.2253" stop-color="#f4a652"/><stop offset="0.2410" stop-color="#f4a652"/><stop offset="0.2433" stop-color="#f8c85c"/><stop offset="0.2500" stop-color="#f8c85c"/><stop offset="0.2522" stop-color="#f4a652"/><stop offset="0.2545" stop-color="#f4a652"/><stop offset="0.2567" stop-color="#ef874a"/><stop offset="0.2590" stop-color="#ef874a"/><stop offset="0.2612" stop-color="#f4a652"/><stop offset="0.2635" stop-color="#f4a652"/><stop offset="0.2657" stop-color="#f8c85c"/><stop offset="0.2679" stop-color="#f8c85c"/><stop offset="0.2702" stop-color="#f8e466"/><stop offset="0.2724" stop-color="#f8e466"/><stop offset="0.2747" stop-color="#f4a652"/><stop offset="0.2769" stop-color="#f4a652"/><stop offset="0.2791" stop-color="#ef874a"/><stop offset="0.2814" stop-color="#ef874a"/><stop offset="0.2836" stop-color="#f8c85c"/><stop offset="0.2904" stop-color="#f8c85c"/><stop offset="0.2926" stop-color="#ef874a"/><stop offset="0.2948" stop-color="#ef874a"/><stop offset="0.2971" stop-color="#e45a3c"/><stop offset="0.2993" stop-color="#e45a3c"/><stop offset="0.3016" stop-color="#e96c44"/><stop offset="0.3038" stop-color="#e96c44"/><stop offset="0.3061" stop-color="#e45a3c"/><stop offset="0.3128" stop-color="#e45a3c"/><stop offset="0.3150" stop-color="#ef874a"/><stop offset="0.3173" stop-color="#ef874a"/><stop offset="0.3195" stop-color="#e45a3c"/><stop offset="0.3217" stop-color="#e45a3c"/><stop offset="0.3240" stop-color="#e96c44"/><stop offset="0.3262" stop-color="#e96c44"/><stop offset="0.3285" stop-color="#ef874a"/><stop offset="0.3352" stop-color="#ef874a"/><stop offset="0.3374" stop-color="#e45a3c"/><stop offset="0.3531" stop-color="#e45a3c"/><stop offset="0.3554" stop-color="#e96c44"/><stop offset="0.3576" stop-color="#e96c44"/><stop offset="0.3599" stop-color="#e45a3c"/><stop offset="0.3621" stop-color="#e45a3c"/><stop offset="0.3643" stop-color="#f8c85c"/><stop offset="0.3666" stop-color="#f8c85c"/><stop offset="0.3688" stop-color="#eaf06a"/><stop offset="0.3756" stop-color="#eaf06a"/><stop offset="0.3778" stop-color="#cdf06a"/><stop offset="0.4070" stop-color="#cdf06a"/><stop offset="0.4092" stop-color="#a8ef68"/><stop offset="0.4249" stop-color="#a8ef68"/><stop offset="0.4271" stop-color="#cdf06a"/><stop offset="0.4383" stop-color="#cdf06a"/><stop offset="0.4406" stop-color="#eaf06a"/><stop offset="0.4652" stop-color="#eaf06a"/><stop offset="0.4675" stop-color="#f8e466"/><stop offset="0.4877" stop-color="#f8e466"/><stop offset="0.4899" stop-color="#f4a652"/><stop offset="0.4922" stop-color="#f4a652"/><stop offset="0.4944" stop-color="#e96c44"/><stop offset="0.4966" stop-color="#e96c44"/><stop offset="0.4989" stop-color="#e45a3c"/><stop offset="0.5056" stop-color="#e45a3c"/><stop offset="0.5078" stop-color="#ef874a"/><stop offset="0.5101" stop-color="#ef874a"/><stop offset="0.5123" stop-color="#e45a3c"/><stop offset="0.5146" stop-color="#e45a3c"/><stop offset="0.5168" stop-color="#e96c44"/><stop offset="0.5235" stop-color="#e96c44"/><stop offset="0.5258" stop-color="#e45a3c"/><stop offset="0.5280" stop-color="#e45a3c"/><stop offset="0.5303" stop-color="#e96c44"/><stop offset="0.5325" stop-color="#e96c44"/><stop offset="0.5348" stop-color="#ef874a"/><stop offset="0.5415" stop-color="#ef874a"/><stop offset="0.5437" stop-color="#e96c44"/><stop offset="0.5460" stop-color="#e96c44"/><stop offset="0.5482" stop-color="#e45a3c"/><stop offset="0.5774" stop-color="#e45a3c"/><stop offset="0.5796" stop-color="#e96c44"/><stop offset="0.5863" stop-color="#e96c44"/><stop offset="0.5886" stop-color="#e45a3c"/><stop offset="0.5953" stop-color="#e45a3c"/><stop offset="0.5975" stop-color="#e96c44"/><stop offset="0.5998" stop-color="#e96c44"/><stop offset="0.6020" stop-color="#e45a3c"/><stop offset="0.6132" stop-color="#e45a3c"/><stop offset="0.6155" stop-color="#e96c44"/><stop offset="0.6312" stop-color="#e96c44"/><stop offset="0.6334" stop-color="#e45a3c"/><stop offset="0.6401" stop-color="#e45a3c"/><stop offset="0.6424" stop-color="#e96c44"/><stop offset="0.6446" stop-color="#e96c44"/><stop offset="0.6469" stop-color="#f4a652"/><stop offset="0.6536" stop-color="#f4a652"/><stop offset="0.6558" stop-color="#e96c44"/><stop offset="0.6581" stop-color="#e96c44"/><stop offset="0.6603" stop-color="#e45a3c"/><stop offset="0.6715" stop-color="#e45a3c"/><stop offset="0.6738" stop-color="#e96c44"/><stop offset="0.6805" stop-color="#e96c44"/><stop offset="0.6827" stop-color="#e45a3c"/><stop offset="0.6984" stop-color="#e45a3c"/><stop offset="0.7007" stop-color="#e96c44"/><stop offset="0.7164" stop-color="#e96c44"/><stop offset="0.7186" stop-color="#e45a3c"/><stop offset="0.7343" stop-color="#e45a3c"/><stop offset="0.7365" stop-color="#e96c44"/><stop offset="0.7433" stop-color="#e96c44"/><stop offset="0.7455" stop-color="#e45a3c"/><stop offset="0.7567" stop-color="#e45a3c"/><stop offset="0.7590" stop-color="#e96c44"/><stop offset="0.7612" stop-color="#e96c44"/><stop offset="0.7635" stop-color="#ef874a"/><stop offset="0.7702" stop-color="#ef874a"/><stop offset="0.7724" stop-color="#f4a652"/><stop offset="0.7836" stop-color="#f4a652"/><stop offset="0.7859" stop-color="#f8c85c"/><stop offset="0.7881" stop-color="#f8c85c"/><stop offset="0.7904" stop-color="#f4a652"/><stop offset="0.7926" stop-color="#f4a652"/><stop offset="0.7948" stop-color="#f8c85c"/><stop offset="0.7971" stop-color="#f8c85c"/><stop offset="0.7993" stop-color="#f4a652"/><stop offset="0.8061" stop-color="#f4a652"/><stop offset="0.8083" stop-color="#f8c85c"/><stop offset="0.8195" stop-color="#f8c85c"/><stop offset="0.8217" stop-color="#f4a652"/><stop offset="0.8285" stop-color="#f4a652"/><stop offset="0.8307" stop-color="#f8c85c"/><stop offset="0.8330" stop-color="#f8c85c"/><stop offset="0.8352" stop-color="#f4a652"/><stop offset="0.8419" stop-color="#f4a652"/><stop offset="0.8442" stop-color="#f8c85c"/><stop offset="0.8554" stop-color="#f8c85c"/><stop offset="0.8576" stop-color="#f8e466"/><stop offset="0.8688" stop-color="#f8e466"/><stop offset="0.8711" stop-color="#f8c85c"/><stop offset="0.8823" stop-color="#f8c85c"/><stop offset="0.8845" stop-color="#f4a652"/><stop offset="0.8957" stop-color="#f4a652"/><stop offset="0.8980" stop-color="#eaf06a"/><stop offset="0.9047" stop-color="#eaf06a"/><stop offset="0.9070" stop-color="#cdf06a"/><stop offset="0.9092" stop-color="#cdf06a"/><stop offset="0.9114" stop-color="#f8e466"/><stop offset="0.9137" stop-color="#f8e466"/><stop offset="0.9159" stop-color="#f8c85c"/><stop offset="0.9182" stop-color="#f8c85c"/><stop offset="0.9204" stop-color="#f8e466"/><stop offset="0.9226" stop-color="#f8e466"/><stop offset="0.9249" stop-color="#f8c85c"/><stop offset="0.9271" stop-color="#f8c85c"/><stop offset="0.9294" stop-color="#f8e466"/><stop offset="0.9361" stop-color="#f8e466"/><stop offset="0.9383" stop-color="#f8c85c"/><stop offset="0.9496" stop-color="#f8c85c"/><stop offset="0.9518" stop-color="#f8e466"/><stop offset="0.9630" stop-color="#f8e466"/><stop offset="0.9652" stop-color="#f8c85c"/><stop offset="0.9765" stop-color="#f8c85c"/><stop offset="0.9787" stop-color="#f8e466"/><stop offset="1.0000" stop-color="#f8e466"/></linearGradient>
<linearGradient id="c5" x1="0" y1="0" x2="0" y2="1"><stop offset="0.0000" stop-color="#a8ef68"/><stop offset="0.0392" stop-color="#a8ef68"/><stop offset="0.0415" stop-color="#cdf06a"/><stop offset="0.0482" stop-color="#cdf06a"/><stop offset="0.0504" stop-color="#c89a40"/><stop offset="0.0527" stop-color="#c89a40"/><stop offset="0.0549" stop-color="#cdf06a"/><stop offset="0.0617" stop-color="#cdf06a"/><stop offset="0.0639" stop-color="#eaf06a"/><stop offset="0.0661" stop-color="#eaf06a"/><stop offset="0.0684" stop-color="#f4a652"/><stop offset="0.0796" stop-color="#f4a652"/><stop offset="0.0818" stop-color="#eaf06a"/><stop offset="0.0975" stop-color="#eaf06a"/><stop offset="0.0998" stop-color="#f8c85c"/><stop offset="0.1110" stop-color="#f8c85c"/><stop offset="0.1132" stop-color="#eaf06a"/><stop offset="0.1155" stop-color="#eaf06a"/><stop offset="0.1177" stop-color="#f8e466"/><stop offset="0.1244" stop-color="#f8e466"/><stop offset="0.1267" stop-color="#f8c85c"/><stop offset="0.1379" stop-color="#f8c85c"/><stop offset="0.1401" stop-color="#f4a652"/><stop offset="0.1513" stop-color="#f4a652"/><stop offset="0.1536" stop-color="#f8c85c"/><stop offset="0.1603" stop-color="#f8c85c"/><stop offset="0.1626" stop-color="#f8e466"/><stop offset="0.1648" stop-color="#f8e466"/><stop offset="0.1670" stop-color="#eaf06a"/><stop offset="0.1693" stop-color="#eaf06a"/><stop offset="0.1715" stop-color="#f8c85c"/><stop offset="0.1738" stop-color="#f8c85c"/><stop offset="0.1760" stop-color="#f4a652"/><stop offset="0.1783" stop-color="#f4a652"/><stop offset="0.1805" stop-color="#ef874a"/><stop offset="0.1872" stop-color="#ef874a"/><stop offset="0.1895" stop-color="#e96c44"/><stop offset="0.1917" stop-color="#e96c44"/><stop offset="0.1939" stop-color="#ef874a"/><stop offset="0.1962" stop-color="#ef874a"/><stop offset="0.1984" stop-color="#e96c44"/><stop offset="0.2007" stop-color="#e96c44"/><stop offset="0.2029" stop-color="#f8c85c"/><stop offset="0.2096" stop-color="#f8c85c"/><stop offset="0.2119" stop-color="#ef874a"/><stop offset="0.2186" stop-color="#ef874a"/><stop offset="0.2209" stop-color="#f8c85c"/><stop offset="0.2231" stop-color="#f8c85c"/><stop offset="0.2253" stop-color="#f4a652"/><stop offset="0.2321" stop-color="#f4a652"/><stop offset="0.2343" stop-color="#f8c85c"/><stop offset="0.2455" stop-color="#f8c85c"/><stop offset="0.2478" stop-color="#f4a652"/><stop offset="0.2545" stop-color="#f4a652"/><stop offset="0.2567" stop-color="#ef874a"/><stop offset="0.2590" stop-color="#ef874a"/><stop offset="0.2612" stop-color="#f4a652"/><stop offset="0.2635" stop-color="#f4a652"/><stop offset="0.2657" stop-color="#f8c85c"/><stop offset="0.2679" stop-color="#f8c85c"/><stop offset="0.2702" stop-color="#f8e466"/><stop offset="0.2724" stop-color="#f8e466"/><stop offset="0.2747" stop-color="#f4a652"/><stop offset="0.2769" stop-color="#f4a652"/><stop offset="0.2791" stop-color="#ef874a"/><stop offset="0.2814" stop-color="#ef874a"/><stop offset="0.2836" stop-color="#f8c85c"/><stop offset="0.2904" stop-color="#f8c85c"/><stop offset="0.2926" stop-color="#ef874a"/><stop offset="0.2948" stop-color="#ef874a"/><stop offset="0.2971" stop-color="#e45a3c"/><stop offset="0.2993" stop-color="#e45a3c"/><stop offset="0.3016" stop-color="#e96c44"/><stop offset="0.3038" stop-color="#e96c44"/><stop offset="0.3061" stop-color="#e45a3c"/><stop offset="0.3128" stop-color="#e45a3c"/><stop offset="0.3150" stop-color="#e96c44"/><stop offset="0.3173" stop-color="#e96c44"/><stop offset="0.3195" stop-color="#e45a3c"/><stop offset="0.3217" stop-color="#e45a3c"/><stop offset="0.3240" stop-color="#e96c44"/><stop offset="0.3262" stop-color="#e96c44"/><stop offset="0.3285" stop-color="#ef874a"/><stop offset="0.3352" stop-color="#ef874a"/><stop offset="0.3374" stop-color="#e45a3c"/><stop offset="0.3531" stop-color="#e45a3c"/><stop offset="0.3554" stop-color="#e96c44"/><stop offset="0.3576" stop-color="#e96c44"/><stop offset="0.3599" stop-color="#e45a3c"/><stop offset="0.3621" stop-color="#e45a3c"/><stop offset="0.3643" stop-color="#f8c85c"/><stop offset="0.3666" stop-color="#f8c85c"/><stop offset="0.3688" stop-color="#eaf06a"/><stop offset="0.3756" stop-color="#eaf06a"/><stop offset="0.3778" stop-color="#cdf06a"/><stop offset="0.4070" stop-color="#cdf06a"/><stop offset="0.4092" stop-color="#a8ef68"/><stop offset="0.4249" stop-color="#a8ef68"/><stop offset="0.4271" stop-color="#cdf06a"/><stop offset="0.4383" stop-color="#cdf06a"/><stop offset="0.4406" stop-color="#eaf06a"/><stop offset="0.4652" stop-color="#eaf06a"/><stop offset="0.4675" stop-color="#f8e466"/><stop offset="0.4877" stop-color="#f8e466"/><stop offset="0.4899" stop-color="#f4a652"/><stop offset="0.4922" stop-color="#f4a652"/><stop offset="0.4944" stop-color="#e96c44"/><stop offset="0.4966" stop-color="#e96c44"/><stop offset="0.4989" stop-color="#e45a3c"/><stop offset="0.5056" stop-color="#e45a3c"/><stop offset="0.5078" stop-color="#e96c44"/><stop offset="0.5101" stop-color="#e96c44"/><stop offset="0.5123" stop-color="#e45a3c"/><stop offset="0.5146" stop-color="#e45a3c"/><stop offset="0.5168" stop-color="#e96c44"/><stop offset="0.5235" stop-color="#e96c44"/><stop offset="0.5258" stop-color="#e45a3c"/><stop offset="0.5280" stop-color="#e45a3c"/><stop offset="0.5303" stop-color="#e96c44"/><stop offset="0.5325" stop-color="#e96c44"/><stop offset="0.5348" stop-color="#ef874a"/><stop offset="0.5415" stop-color="#ef874a"/><stop offset="0.5437" stop-color="#e96c44"/><stop offset="0.5460" stop-color="#e96c44"/><stop offset="0.5482" stop-color="#e45a3c"/><stop offset="0.5729" stop-color="#e45a3c"/><stop offset="0.5751" stop-color="#e96c44"/><stop offset="0.5818" stop-color="#e96c44"/><stop offset="0.5841" stop-color="#e45a3c"/><stop offset="0.5953" stop-color="#e45a3c"/><stop offset="0.5975" stop-color="#e96c44"/><stop offset="0.5998" stop-color="#e96c44"/><stop offset="0.6020" stop-color="#e45a3c"/><stop offset="0.6132" stop-color="#e45a3c"/><stop offset="0.6155" stop-color="#e96c44"/><stop offset="0.6312" stop-color="#e96c44"/><stop offset="0.6334" stop-color="#e45a3c"/><stop offset="0.6446" stop-color="#e45a3c"/><stop offset="0.6469" stop-color="#e96c44"/><stop offset="0.6491" stop-color="#e96c44"/><stop offset="0.6513" stop-color="#e45a3c"/><stop offset="0.6626" stop-color="#e45a3c"/><stop offset="0.6648" stop-color="#e96c44"/><stop offset="0.6670" stop-color="#e96c44"/><stop offset="0.6693" stop-color="#e45a3c"/><stop offset="0.6715" stop-color="#e45a3c"/><stop offset="0.6738" stop-color="#e96c44"/><stop offset="0.6805" stop-color="#e96c44"/><stop offset="0.6827" stop-color="#e45a3c"/><stop offset="0.6939" stop-color="#e45a3c"/><stop offset="0.6962" stop-color="#e96c44"/><stop offset="0.7029" stop-color="#e96c44"/><stop offset="0.7052" stop-color="#ef874a"/><stop offset="0.7074" stop-color="#ef874a"/><stop offset="0.7096" stop-color="#e96c44"/><stop offset="0.7164" stop-color="#e96c44"/><stop offset="0.7186" stop-color="#e45a3c"/><stop offset="0.7343" stop-color="#e45a3c"/><stop offset="0.7365" stop-color="#e96c44"/><stop offset="0.7433" stop-color="#e96c44"/><stop offset="0.7455" stop-color="#e45a3c"/><stop offset="0.7612" stop-color="#e45a3c"/><stop offset="0.7635" stop-color="#ef874a"/><stop offset="0.7702" stop-color="#ef874a"/><stop offset="0.7724" stop-color="#f4a652"/><stop offset="0.7836" stop-color="#f4a652"/><stop offset="0.7859" stop-color="#f8c85c"/><stop offset="0.7971" stop-color="#f8c85c"/><stop offset="0.7993" stop-color="#f4a652"/><stop offset="0.8061" stop-color="#f4a652"/><stop offset="0.8083" stop-color="#f8c85c"/><stop offset="0.8240" stop-color="#f8c85c"/><stop offset="0.8262" stop-color="#f4a652"/><stop offset="0.8419" stop-color="#f4a652"/><stop offset="0.8442" stop-color="#f8c85c"/><stop offset="0.8554" stop-color="#f8c85c"/><stop offset="0.8576" stop-color="#f8e466"/><stop offset="0.8688" stop-color="#f8e466"/><stop offset="0.8711" stop-color="#f8c85c"/><stop offset="0.8823" stop-color="#f8c85c"/><stop offset="0.8845" stop-color="#f4a652"/><stop offset="0.8957" stop-color="#f4a652"/><stop offset="0.8980" stop-color="#cdf06a"/><stop offset="0.9002" stop-color="#cdf06a"/><stop offset="0.9025" stop-color="#eaf06a"/><stop offset="0.9092" stop-color="#eaf06a"/><stop offset="0.9114" stop-color="#f8e466"/><stop offset="0.9137" stop-color="#f8e466"/><stop offset="0.9159" stop-color="#f8c85c"/><stop offset="0.9182" stop-color="#f8c85c"/><stop offset="0.9204" stop-color="#f8e466"/><stop offset="0.9226" stop-color="#f8e466"/><stop offset="0.9249" stop-color="#eaf06a"/><stop offset="0.9271" stop-color="#eaf06a"/><stop offset="0.9294" stop-color="#f8e466"/><stop offset="0.9361" stop-color="#f8e466"/><stop offset="0.9383" stop-color="#f8c85c"/><stop offset="0.9496" stop-color="#f8c85c"/><stop offset="0.9518" stop-color="#f8e466"/><stop offset="0.9630" stop-color="#f8e466"/><stop offset="0.9652" stop-color="#f8c85c"/><stop offset="0.9720" stop-color="#f8c85c"/><stop offset="0.9742" stop-color="#f4a652"/><stop offset="0.9765" stop-color="#f4a652"/><stop offset="0.9787" stop-color="#f8e466"/><stop offset="1.0000" stop-color="#f8e466"/></linearGradient>
<linearGradient id="c6" x1="0" y1="0" x2="0" y2="1"><stop offset="0.0000" stop-color="#a8ef68"/><stop offset="0.0392" stop-color="#a8ef68"/><stop offset="0.0415" stop-color="#cdf06a"/><stop offset="0.0482" stop-color="#cdf06a"/><stop offset="0.0504" stop-color="#c89a40"/><stop offset="0.0527" stop-color="#c89a40"/><stop offset="0.0549" stop-color="#cdf06a"/><stop offset="0.0617" stop-color="#cdf06a"/><stop offset="0.0639" stop-color="#eaf06a"/><stop offset="0.0706" stop-color="#eaf06a"/><stop offset="0.0729" stop-color="#f4a652"/><stop offset="0.0796" stop-color="#f4a652"/><stop offset="0.0818" stop-color="#eaf06a"/><stop offset="0.0975" stop-color="#eaf06a"/><stop offset="0.0998" stop-color="#f4a652"/><stop offset="0.1065" stop-color="#f4a652"/><stop offset="0.1087" stop-color="#f8e466"/><stop offset="0.1244" stop-color="#f8e466"/><stop offset="0.1267" stop-color="#f8c85c"/><stop offset="0.1334" stop-color="#f8c85c"/><stop offset="0.1357" stop-color="#f4a652"/><stop offset="0.1603" stop-color="#f4a652"/><stop offset="0.1626" stop-color="#f8e466"/><stop offset="0.1693" stop-color="#f8e466"/><stop offset="0.1715" stop-color="#ef874a"/><stop offset="0.1738" stop-color="#ef874a"/><stop offset="0.1760" stop-color="#e96c44"/><stop offset="0.1872" stop-color="#e96c44"/><stop offset="0.1895" stop-color="#e45a3c"/><stop offset="0.1917" stop-color="#e45a3c"/><stop offset="0.1939" stop-color="#f4a652"/><stop offset="0.1962" stop-color="#f4a652"/><stop offset="0.1984" stop-color="#ef874a"/><stop offset="0.2096" stop-color="#ef874a"/><stop offset="0.2119" stop-color="#e96c44"/><stop offset="0.2186" stop-color="#e96c44"/><stop offset="0.2209" stop-color="#f8c85c"/><stop offset="0.2231" stop-color="#f8c85c"/><stop offset="0.2253" stop-color="#ef874a"/><stop offset="0.2321" stop-color="#ef874a"/><stop offset="0.2343" stop-color="#f8c85c"/><stop offset="0.2365" stop-color="#f8c85c"/><stop offset="0.2388" stop-color="#f4a652"/><stop offset="0.2410" stop-color="#f4a652"/><stop offset="0.2433" stop-color="#f8e466"/><stop offset="0.2500" stop-color="#f8e466"/><stop offset="0.2522" stop-color="#f4a652"/><stop offset="0.2545" stop-color="#f4a652"/><stop offset="0.2567" stop-color="#ef874a"/><stop offset="0.2590" stop-color="#ef874a"/><stop offset="0.2612" stop-color="#e96c44"/><stop offset="0.2635" stop-color="#e96c44"/><stop offset="0.2657" stop-color="#f4a652"/><stop offset="0.2679" stop-color="#f4a652"/><stop offset="0.2702" stop-color="#f8c85c"/><stop offset="0.2769" stop-color="#f8c85c"/><stop offset="0.2791" stop-color="#f4a652"/><stop offset="0.2814" stop-color="#f4a652"/><stop offset="0.2836" stop-color="#f8c85c"/><stop offset="0.2859" stop-color="#f8c85c"/><stop offset="0.2881" stop-color="#ef874a"/><stop offset="0.2904" stop-color="#ef874a"/><stop offset="0.2926" stop-color="#e45a3c"/><stop offset="0.2948" stop-color="#e45a3c"/><stop offset="0.2971" stop-color="#e96c44"/><stop offset="0.2993" stop-color="#e96c44"/><stop offset="0.3016" stop-color="#ef874a"/><stop offset="0.3038" stop-color="#ef874a"/><stop offset="0.3061" stop-color="#e96c44"/><stop offset="0.3083" stop-color="#e96c44"/><stop offset="0.3105" stop-color="#ef874a"/><stop offset="0.3128" stop-color="#ef874a"/><stop offset="0.3150" stop-color="#f4a652"/><stop offset="0.3173" stop-color="#f4a652"/><stop offset="0.3195" stop-color="#ef874a"/><stop offset="0.3217" stop-color="#ef874a"/><stop offset="0.3240" stop-color="#e96c44"/><stop offset="0.3262" stop-color="#e96c44"/><stop offset="0.3285" stop-color="#ef874a"/><stop offset="0.3352" stop-color="#ef874a"/><stop offset="0.3374" stop-color="#e45a3c"/><stop offset="0.3397" stop-color="#e45a3c"/><stop offset="0.3419" stop-color="#e96c44"/><stop offset="0.3442" stop-color="#e96c44"/><stop offset="0.3464" stop-color="#e45a3c"/><stop offset="0.3531" stop-color="#e45a3c"/><stop offset="0.3554" stop-color="#e96c44"/><stop offset="0.3576" stop-color="#e96c44"/><stop offset="0.3599" stop-color="#e45a3c"/><stop offset="0.3621" stop-color="#e45a3c"/><stop offset="0.3643" stop-color="#f8c85c"/><stop offset="0.3666" stop-color="#f8c85c"/><stop offset="0.3688" stop-color="#eaf06a"/><stop offset="0.3756" stop-color="#eaf06a"/><stop offset="0.3778" stop-color="#cdf06a"/><stop offset="0.3845" stop-color="#cdf06a"/><stop offset="0.3868" stop-color="#f8e466"/><stop offset="0.3890" stop-color="#f8e466"/><stop offset="0.3913" stop-color="#cdf06a"/><stop offset="0.4070" stop-color="#cdf06a"/><stop offset="0.4092" stop-color="#a8ef68"/><stop offset="0.4249" stop-color="#a8ef68"/><stop offset="0.4271" stop-color="#cdf06a"/><stop offset="0.4383" stop-color="#cdf06a"/><stop offset="0.4406" stop-color="#eaf06a"/><stop offset="0.4652" stop-color="#eaf06a"/><stop offset="0.4675" stop-color="#f8e466"/><stop offset="0.4742" stop-color="#f8e466"/><stop offset="0.4765" stop-color="#f8c85c"/><stop offset="0.4787" stop-color="#f8c85c"/><stop offset="0.4809" stop-color="#f8e466"/><stop offset="0.4877" stop-color="#f8e466"/><stop offset="0.4899" stop-color="#f4a652"/><stop offset="0.4922" stop-color="#f4a652"/><stop offset="0.4944" stop-color="#e96c44"/><stop offset="0.4966" stop-color="#e96c44"/><stop offset="0.4989" stop-color="#e45a3c"/><stop offset="0.5056" stop-color="#e45a3c"/><stop offset="0.5078" stop-color="#e96c44"/><stop offset="0.5101" stop-color="#e96c44"/><stop offset="0.5123" stop-color="#e45a3c"/><stop offset="0.5146" stop-color="#e45a3c"/><stop offset="0.5168" stop-color="#e96c44"/><stop offset="0.5191" stop-color="#e96c44"/><stop offset="0.5213" stop-color="#ef874a"/><stop offset="0.5415" stop-color="#ef874a"/><stop offset="0.5437" stop-color="#f4a652"/><stop offset="0.5504" stop-color="#f4a652"/><stop offset="0.5527" stop-color="#e45a3c"/><stop offset="0.5729" stop-color="#e45a3c"/><stop offset="0.5751" stop-color="#e96c44"/><stop offset="0.5908" stop-color="#e96c44"/><stop offset="0.5930" stop-color="#ef874a"/><stop offset="0.5998" stop-color="#ef874a"/><stop offset="0.6020" stop-color="#e45a3c"/><stop offset="0.6132" stop-color="#e45a3c"/><stop offset="0.6155" stop-color="#e96c44"/><stop offset="0.6312" stop-color="#e96c44"/><stop offset="0.6334" stop-color="#e45a3c"/><stop offset="0.6446" stop-color="#e45a3c"/><stop offset="0.6469" stop-color="#e96c44"/><stop offset="0.6491" stop-color="#e96c44"/><stop offset="0.6513" stop-color="#e45a3c"/><stop offset="0.6715" stop-color="#e45a3c"/><stop offset="0.6738" stop-color="#e96c44"/><stop offset="0.6850" stop-color="#e96c44"/><stop offset="0.6872" stop-color="#e45a3c"/><stop offset="0.6984" stop-color="#e45a3c"/><stop offset="0.7007" stop-color="#e96c44"/><stop offset="0.7164" stop-color="#e96c44"/><stop offset="0.7186" stop-color="#e45a3c"/><stop offset="0.7343" stop-color="#e45a3c"/><stop offset="0.7365" stop-color="#e96c44"/><stop offset="0.7433" stop-color="#e96c44"/><stop offset="0.7455" stop-color="#e45a3c"/><stop offset="0.7567" stop-color="#e45a3c"/><stop offset="0.7590" stop-color="#ef874a"/><stop offset="0.7702" stop-color="#ef874a"/><stop offset="0.7724" stop-color="#f8c85c"/><stop offset="0.7836" stop-color="#f8c85c"/><stop offset="0.7859" stop-color="#ef874a"/><stop offset="0.8061" stop-color="#ef874a"/><stop offset="0.8083" stop-color="#f8c85c"/><stop offset="0.8330" stop-color="#f8c85c"/><stop offset="0.8352" stop-color="#f4a652"/><stop offset="0.8554" stop-color="#f4a652"/><stop offset="0.8576" stop-color="#f8c85c"/><stop offset="0.8913" stop-color="#f8c85c"/><stop offset="0.8935" stop-color="#f8e466"/><stop offset="0.9002" stop-color="#f8e466"/><stop offset="0.9025" stop-color="#eaf06a"/><stop offset="0.9406" stop-color="#eaf06a"/><stop offset="0.9428" stop-color="#f4a652"/><stop offset="0.9585" stop-color="#f4a652"/><stop offset="0.9608" stop-color="#f8c85c"/><stop offset="0.9765" stop-color="#f8c85c"/><stop offset="0.9787" stop-color="#f8e466"/><stop offset="1.0000" stop-color="#f8e466"/></linearGradient>
<linearGradient id="c7" x1="0" y1="0" x2="0" y2="1"><stop offset="0.0000" stop-color="#a8ef68"/><stop offset="0.0392" stop-color="#a8ef68"/><stop offset="0.0415" stop-color="#cdf06a"/><stop offset="0.0482" stop-color="#cdf06a"/><stop offset="0.0504" stop-color="#eaf06a"/><stop offset="0.0527" stop-color="#eaf06a"/><stop offset="0.0549" stop-color="#cdf06a"/><stop offset="0.0617" stop-color="#cdf06a"/><stop offset="0.0639" stop-color="#eaf06a"/><stop offset="0.0975" stop-color="#eaf06a"/><stop offset="0.0998" stop-color="#f8c85c"/><stop offset="0.1065" stop-color="#f8c85c"/><stop offset="0.1087" stop-color="#f8e466"/><stop offset="0.1244" stop-color="#f8e466"/><stop offset="0.1267" stop-color="#f8c85c"/><stop offset="0.1424" stop-color="#f8c85c"/><stop offset="0.1446" stop-color="#f4a652"/><stop offset="0.1513" stop-color="#f4a652"/><stop offset="0.1536" stop-color="#f8c85c"/><stop offset="0.1603" stop-color="#f8c85c"/><stop offset="0.1626" stop-color="#f8e466"/><stop offset="0.1648" stop-color="#f8e466"/><stop offset="0.1670" stop-color="#eaf06a"/><stop offset="0.1693" stop-color="#eaf06a"/><stop offset="0.1715" stop-color="#f4a652"/><stop offset="0.1872" stop-color="#f4a652"/><stop offset="0.1895" stop-color="#ef874a"/><stop offset="0.1917" stop-color="#ef874a"/><stop offset="0.1939" stop-color="#f8c85c"/><stop offset="0.1962" stop-color="#f8c85c"/><stop offset="0.1984" stop-color="#f4a652"/><stop offset="0.2096" stop-color="#f4a652"/><stop offset="0.2119" stop-color="#ef874a"/><stop offset="0.2141" stop-color="#ef874a"/><stop offset="0.2164" stop-color="#f4a652"/><stop offset="0.2186" stop-color="#f4a652"/><stop offset="0.2209" stop-color="#f8c85c"/><stop offset="0.2231" stop-color="#f8c85c"/><stop offset="0.2253" stop-color="#ef874a"/><stop offset="0.2276" stop-color="#ef874a"/><stop offset="0.2298" stop-color="#f4a652"/><stop offset="0.2410" stop-color="#f4a652"/><stop offset="0.2433" stop-color="#f8c85c"/><stop offset="0.2455" stop-color="#f8c85c"/><stop offset="0.2478" stop-color="#f8e466"/><stop offset="0.2500" stop-color="#f8e466"/><stop offset="0.2522" stop-color="#f4a652"/><stop offset="0.2545" stop-color="#f4a652"/><stop offset="0.2567" stop-color="#ef874a"/><stop offset="0.2635" stop-color="#ef874a"/><stop offset="0.2657" stop-color="#f4a652"/><stop offset="0.2679" stop-color="#f4a652"/><stop offset="0.2702" stop-color="#f8c85c"/><stop offset="0.2769" stop-color="#f8c85c"/><stop offset="0.2791" stop-color="#f4a652"/><stop offset="0.2814" stop-color="#f4a652"/><stop offset="0.2836" stop-color="#f8c85c"/><stop offset="0.2859" stop-color="#f8c85c"/><stop offset="0.2881" stop-color="#f4a652"/><stop offset="0.2904" stop-color="#f4a652"/><stop offset="0.2926" stop-color="#e96c44"/><stop offset="0.2993" stop-color="#e96c44"/><stop offset="0.3016" stop-color="#ef874a"/><stop offset="0.3038" stop-color="#ef874a"/><stop offset="0.3061" stop-color="#e96c44"/><stop offset="0.3083" stop-color="#e96c44"/><stop offset="0.3105" stop-color="#ef874a"/><stop offset="0.3128" stop-color="#ef874a"/><stop offset="0.3150" stop-color="#f4a652"/><stop offset="0.3173" stop-color="#f4a652"/><stop offset="0.3195" stop-color="#ef874a"/><stop offset="0.3217" stop-color="#ef874a"/><stop offset="0.3240" stop-color="#e96c44"/><stop offset="0.3262" stop-color="#e96c44"/><stop offset="0.3285" stop-color="#ef874a"/><stop offset="0.3352" stop-color="#ef874a"/><stop offset="0.3374" stop-color="#e45a3c"/><stop offset="0.3531" stop-color="#e45a3c"/><stop offset="0.3554" stop-color="#e96c44"/><stop offset="0.3576" stop-color="#e96c44"/><stop offset="0.3599" stop-color="#e45a3c"/><stop offset="0.3621" stop-color="#e45a3c"/><stop offset="0.3643" stop-color="#f8c85c"/><stop offset="0.3666" stop-color="#f8c85c"/><stop offset="0.3688" stop-color="#eaf06a"/><stop offset="0.3756" stop-color="#eaf06a"/><stop offset="0.3778" stop-color="#cdf06a"/><stop offset="0.3845" stop-color="#cdf06a"/><stop offset="0.3868" stop-color="#f8e466"/><stop offset="0.3890" stop-color="#f8e466"/><stop offset="0.3913" stop-color="#cdf06a"/><stop offset="0.4070" stop-color="#cdf06a"/><stop offset="0.4092" stop-color="#a8ef68"/><stop offset="0.4249" stop-color="#a8ef68"/><stop offset="0.4271" stop-color="#cdf06a"/><stop offset="0.4383" stop-color="#cdf06a"/><stop offset="0.4406" stop-color="#eaf06a"/><stop offset="0.4652" stop-color="#eaf06a"/><stop offset="0.4675" stop-color="#f8e466"/><stop offset="0.4877" stop-color="#f8e466"/><stop offset="0.4899" stop-color="#f4a652"/><stop offset="0.4922" stop-color="#f4a652"/><stop offset="0.4944" stop-color="#e96c44"/><stop offset="0.4966" stop-color="#e96c44"/><stop offset="0.4989" stop-color="#e45a3c"/><stop offset="0.5056" stop-color="#e45a3c"/><stop offset="0.5078" stop-color="#e96c44"/><stop offset="0.5101" stop-color="#e96c44"/><stop offset="0.5123" stop-color="#e45a3c"/><stop offset="0.5146" stop-color="#e45a3c"/><stop offset="0.5168" stop-color="#e96c44"/><stop offset="0.5191" stop-color="#e96c44"/><stop offset="0.5213" stop-color="#ef874a"/><stop offset="0.5415" stop-color="#ef874a"/><stop offset="0.5437" stop-color="#f4a652"/><stop offset="0.5504" stop-color="#f4a652"/><stop offset="0.5527" stop-color="#e45a3c"/><stop offset="0.5729" stop-color="#e45a3c"/><stop offset="0.5751" stop-color="#e96c44"/><stop offset="0.5863" stop-color="#e96c44"/><stop offset="0.5886" stop-color="#e45a3c"/><stop offset="0.5908" stop-color="#e45a3c"/><stop offset="0.5930" stop-color="#ef874a"/><stop offset="0.5998" stop-color="#ef874a"/><stop offset="0.6020" stop-color="#e96c44"/><stop offset="0.6043" stop-color="#e96c44"/><stop offset="0.6065" stop-color="#e45a3c"/><stop offset="0.6132" stop-color="#e45a3c"/><stop offset="0.6155" stop-color="#e96c44"/><stop offset="0.6312" stop-color="#e96c44"/><stop offset="0.6334" stop-color="#e45a3c"/><stop offset="0.6446" stop-color="#e45a3c"/><stop offset="0.6469" stop-color="#e96c44"/><stop offset="0.6491" stop-color="#e96c44"/><stop offset="0.6513" stop-color="#e45a3c"/><stop offset="0.6581" stop-color="#e45a3c"/><stop offset="0.6603" stop-color="#e96c44"/><stop offset="0.6626" stop-color="#e96c44"/><stop offset="0.6648" stop-color="#e45a3c"/><stop offset="0.6715" stop-color="#e45a3c"/><stop offset="0.6738" stop-color="#e96c44"/><stop offset="0.6805" stop-color="#e96c44"/><stop offset="0.6827" stop-color="#e45a3c"/><stop offset="0.6984" stop-color="#e45a3c"/><stop offset="0.7007" stop-color="#e96c44"/><stop offset="0.7164" stop-color="#e96c44"/><stop offset="0.7186" stop-color="#e45a3c"/><stop offset="0.7343" stop-color="#e45a3c"/><stop offset="0.7365" stop-color="#e96c44"/><stop offset="0.7433" stop-color="#e96c44"/><stop offset="0.7455" stop-color="#e45a3c"/><stop offset="0.7567" stop-color="#e45a3c"/><stop offset="0.7590" stop-color="#f4a652"/><stop offset="0.7702" stop-color="#f4a652"/><stop offset="0.7724" stop-color="#f8c85c"/><stop offset="0.8061" stop-color="#f8c85c"/><stop offset="0.8083" stop-color="#f4a652"/><stop offset="0.8554" stop-color="#f4a652"/><stop offset="0.8576" stop-color="#f8c85c"/><stop offset="0.8913" stop-color="#f8c85c"/><stop offset="0.8935" stop-color="#f8e466"/><stop offset="0.9406" stop-color="#f8e466"/><stop offset="0.9428" stop-color="#f8c85c"/><stop offset="0.9765" stop-color="#f8c85c"/><stop offset="0.9787" stop-color="#eaf06a"/><stop offset="1.0000" stop-color="#eaf06a"/></linearGradient>
<linearGradient id="c8" x1="0" y1="0" x2="0" y2="1"><stop offset="0.0000" stop-color="#a8ef68"/><stop offset="0.0392" stop-color="#a8ef68"/><stop offset="0.0415" stop-color="#cdf06a"/><stop offset="0.0482" stop-color="#cdf06a"/><stop offset="0.0504" stop-color="#eaf06a"/><stop offset="0.0527" stop-color="#eaf06a"/><stop offset="0.0549" stop-color="#cdf06a"/><stop offset="0.0617" stop-color="#cdf06a"/><stop offset="0.0639" stop-color="#eaf06a"/><stop offset="0.0975" stop-color="#eaf06a"/><stop offset="0.0998" stop-color="#f8c85c"/><stop offset="0.1065" stop-color="#f8c85c"/><stop offset="0.1087" stop-color="#f8e466"/><stop offset="0.1244" stop-color="#f8e466"/><stop offset="0.1267" stop-color="#f8c85c"/><stop offset="0.1424" stop-color="#f8c85c"/><stop offset="0.1446" stop-color="#f4a652"/><stop offset="0.1513" stop-color="#f4a652"/><stop offset="0.1536" stop-color="#f8c85c"/><stop offset="0.1603" stop-color="#f8c85c"/><stop offset="0.1626" stop-color="#f8e466"/><stop offset="0.1648" stop-color="#f8e466"/><stop offset="0.1670" stop-color="#eaf06a"/><stop offset="0.1693" stop-color="#eaf06a"/><stop offset="0.1715" stop-color="#f8c85c"/><stop offset="0.1827" stop-color="#f8c85c"/><stop offset="0.1850" stop-color="#f4a652"/><stop offset="0.1872" stop-color="#f4a652"/><stop offset="0.1895" stop-color="#ef874a"/><stop offset="0.1917" stop-color="#ef874a"/><stop offset="0.1939" stop-color="#f8c85c"/><stop offset="0.1962" stop-color="#f8c85c"/><stop offset="0.1984" stop-color="#f4a652"/><stop offset="0.2096" stop-color="#f4a652"/><stop offset="0.2119" stop-color="#e96c44"/><stop offset="0.2186" stop-color="#e96c44"/><stop offset="0.2209" stop-color="#f4a652"/><stop offset="0.2231" stop-color="#f4a652"/><stop offset="0.2253" stop-color="#ef874a"/><stop offset="0.2321" stop-color="#ef874a"/><stop offset="0.2343" stop-color="#f4a652"/><stop offset="0.2410" stop-color="#f4a652"/><stop offset="0.2433" stop-color="#f8c85c"/><stop offset="0.2455" stop-color="#f8c85c"/><stop offset="0.2478" stop-color="#eaf06a"/><stop offset="0.2500" stop-color="#eaf06a"/><stop offset="0.2522" stop-color="#f4a652"/><stop offset="0.2545" stop-color="#f4a652"/><stop offset="0.2567" stop-color="#ef874a"/><stop offset="0.2635" stop-color="#ef874a"/><stop offset="0.2657" stop-color="#f4a652"/><stop offset="0.2679" stop-color="#f4a652"/><stop offset="0.2702" stop-color="#f8c85c"/><stop offset="0.2769" stop-color="#f8c85c"/><stop offset="0.2791" stop-color="#f4a652"/><stop offset="0.2814" stop-color="#f4a652"/><stop offset="0.2836" stop-color="#f8c85c"/><stop offset="0.2859" stop-color="#f8c85c"/><stop offset="0.2881" stop-color="#f4a652"/><stop offset="0.2904" stop-color="#f4a652"/><stop offset="0.2926" stop-color="#e96c44"/><stop offset="0.2993" stop-color="#e96c44"/><stop offset="0.3016" stop-color="#ef874a"/><stop offset="0.3038" stop-color="#ef874a"/><stop offset="0.3061" stop-color="#e96c44"/><stop offset="0.3083" stop-color="#e96c44"/><stop offset="0.3105" stop-color="#ef874a"/><stop offset="0.3128" stop-color="#ef874a"/><stop offset="0.3150" stop-color="#f4a652"/><stop offset="0.3173" stop-color="#f4a652"/><stop offset="0.3195" stop-color="#ef874a"/><stop offset="0.3217" stop-color="#ef874a"/><stop offset="0.3240" stop-color="#e96c44"/><stop offset="0.3307" stop-color="#e96c44"/><stop offset="0.3330" stop-color="#ef874a"/><stop offset="0.3352" stop-color="#ef874a"/><stop offset="0.3374" stop-color="#e45a3c"/><stop offset="0.3397" stop-color="#e45a3c"/><stop offset="0.3419" stop-color="#e96c44"/><stop offset="0.3442" stop-color="#e96c44"/><stop offset="0.3464" stop-color="#e45a3c"/><stop offset="0.3531" stop-color="#e45a3c"/><stop offset="0.3554" stop-color="#e96c44"/><stop offset="0.3576" stop-color="#e96c44"/><stop offset="0.3599" stop-color="#e45a3c"/><stop offset="0.3621" stop-color="#e45a3c"/><stop offset="0.3643" stop-color="#f8c85c"/><stop offset="0.3666" stop-color="#f8c85c"/><stop offset="0.3688" stop-color="#eaf06a"/><stop offset="0.3756" stop-color="#eaf06a"/><stop offset="0.3778" stop-color="#cdf06a"/><stop offset="0.4070" stop-color="#cdf06a"/><stop offset="0.4092" stop-color="#a8ef68"/><stop offset="0.4249" stop-color="#a8ef68"/><stop offset="0.4271" stop-color="#cdf06a"/><stop offset="0.4383" stop-color="#cdf06a"/><stop offset="0.4406" stop-color="#eaf06a"/><stop offset="0.4652" stop-color="#eaf06a"/><stop offset="0.4675" stop-color="#f8e466"/><stop offset="0.4877" stop-color="#f8e466"/><stop offset="0.4899" stop-color="#f4a652"/><stop offset="0.4922" stop-color="#f4a652"/><stop offset="0.4944" stop-color="#e96c44"/><stop offset="0.4966" stop-color="#e96c44"/><stop offset="0.4989" stop-color="#e45a3c"/><stop offset="0.5056" stop-color="#e45a3c"/><stop offset="0.5078" stop-color="#e96c44"/><stop offset="0.5101" stop-color="#e96c44"/><stop offset="0.5123" stop-color="#e45a3c"/><stop offset="0.5146" stop-color="#e45a3c"/><stop offset="0.5168" stop-color="#e96c44"/><stop offset="0.5191" stop-color="#e96c44"/><stop offset="0.5213" stop-color="#ef874a"/><stop offset="0.5415" stop-color="#ef874a"/><stop offset="0.5437" stop-color="#f4a652"/><stop offset="0.5504" stop-color="#f4a652"/><stop offset="0.5527" stop-color="#e45a3c"/><stop offset="0.5729" stop-color="#e45a3c"/><stop offset="0.5751" stop-color="#e96c44"/><stop offset="0.5863" stop-color="#e96c44"/><stop offset="0.5886" stop-color="#e45a3c"/><stop offset="0.5908" stop-color="#e45a3c"/><stop offset="0.5930" stop-color="#ef874a"/><stop offset="0.5998" stop-color="#ef874a"/><stop offset="0.6020" stop-color="#e96c44"/><stop offset="0.6043" stop-color="#e96c44"/><stop offset="0.6065" stop-color="#e45a3c"/><stop offset="0.6132" stop-color="#e45a3c"/><stop offset="0.6155" stop-color="#e96c44"/><stop offset="0.6312" stop-color="#e96c44"/><stop offset="0.6334" stop-color="#e45a3c"/><stop offset="0.6446" stop-color="#e45a3c"/><stop offset="0.6469" stop-color="#e96c44"/><stop offset="0.6491" stop-color="#e96c44"/><stop offset="0.6513" stop-color="#e45a3c"/><stop offset="0.6715" stop-color="#e45a3c"/><stop offset="0.6738" stop-color="#e96c44"/><stop offset="0.6805" stop-color="#e96c44"/><stop offset="0.6827" stop-color="#e45a3c"/><stop offset="0.6984" stop-color="#e45a3c"/><stop offset="0.7007" stop-color="#e96c44"/><stop offset="0.7209" stop-color="#e96c44"/><stop offset="0.7231" stop-color="#e45a3c"/><stop offset="0.7343" stop-color="#e45a3c"/><stop offset="0.7365" stop-color="#e96c44"/><stop offset="0.7433" stop-color="#e96c44"/><stop offset="0.7455" stop-color="#e45a3c"/><stop offset="0.7567" stop-color="#e45a3c"/><stop offset="0.7590" stop-color="#f4a652"/><stop offset="0.7702" stop-color="#f4a652"/><stop offset="0.7724" stop-color="#f8c85c"/><stop offset="0.8330" stop-color="#f8c85c"/><stop offset="0.8352" stop-color="#f4a652"/><stop offset="0.8554" stop-color="#f4a652"/><stop offset="0.8576" stop-color="#f8c85c"/><stop offset="0.8913" stop-color="#f8c85c"/><stop offset="0.8935" stop-color="#f8e466"/><stop offset="1.0000" stop-color="#f8e466"/></linearGradient>
<linearGradient id="c9" x1="0" y1="0" x2="0" y2="1"><stop offset="0.0000" stop-color="#a8ef68"/><stop offset="0.0392" stop-color="#a8ef68"/><stop offset="0.0415" stop-color="#cdf06a"/><stop offset="0.0482" stop-color="#cdf06a"/><stop offset="0.0504" stop-color="#d07838"/><stop offset="0.0527" stop-color="#d07838"/><stop offset="0.0549" stop-color="#cdf06a"/><stop offset="0.0617" stop-color="#cdf06a"/><stop offset="0.0639" stop-color="#eaf06a"/><stop offset="0.0706" stop-color="#eaf06a"/><stop offset="0.0729" stop-color="#ef874a"/><stop offset="0.0796" stop-color="#ef874a"/><stop offset="0.0818" stop-color="#eaf06a"/><stop offset="0.0886" stop-color="#eaf06a"/><stop offset="0.0908" stop-color="#f8c85c"/><stop offset="0.0975" stop-color="#f8c85c"/><stop offset="0.0998" stop-color="#ef874a"/><stop offset="0.1065" stop-color="#ef874a"/><stop offset="0.1087" stop-color="#f8c85c"/><stop offset="0.1424" stop-color="#f8c85c"/><stop offset="0.1446" stop-color="#f4a652"/><stop offset="0.1469" stop-color="#f4a652"/><stop offset="0.1491" stop-color="#e96c44"/><stop offset="0.1558" stop-color="#e96c44"/><stop offset="0.1581" stop-color="#f8c85c"/><stop offset="0.1693" stop-color="#f8c85c"/><stop offset="0.1715" stop-color="#ef874a"/><stop offset="0.1738" stop-color="#ef874a"/><stop offset="0.1760" stop-color="#e96c44"/><stop offset="0.1783" stop-color="#e96c44"/><stop offset="0.1805" stop-color="#e45a3c"/><stop offset="0.1827" stop-color="#e45a3c"/><stop offset="0.1850" stop-color="#e96c44"/><stop offset="0.1872" stop-color="#e96c44"/><stop offset="0.1895" stop-color="#e45a3c"/><stop offset="0.1917" stop-color="#e45a3c"/><stop offset="0.1939" stop-color="#ef874a"/><stop offset="0.1962" stop-color="#ef874a"/><stop offset="0.1984" stop-color="#e96c44"/><stop offset="0.2186" stop-color="#e96c44"/><stop offset="0.2209" stop-color="#f4a652"/><stop offset="0.2231" stop-color="#f4a652"/><stop offset="0.2253" stop-color="#ef874a"/><stop offset="0.2321" stop-color="#ef874a"/><stop offset="0.2343" stop-color="#e96c44"/><stop offset="0.2410" stop-color="#e96c44"/><stop offset="0.2433" stop-color="#ef874a"/><stop offset="0.2455" stop-color="#ef874a"/><stop offset="0.2478" stop-color="#f4a652"/><stop offset="0.2500" stop-color="#f4a652"/><stop offset="0.2522" stop-color="#e96c44"/><stop offset="0.2545" stop-color="#e96c44"/><stop offset="0.2567" stop-color="#e45a3c"/><stop offset="0.2635" stop-color="#e45a3c"/><stop offset="0.2657" stop-color="#e96c44"/><stop offset="0.2679" stop-color="#e96c44"/><stop offset="0.2702" stop-color="#f8c85c"/><stop offset="0.2769" stop-color="#f8c85c"/><stop offset="0.2791" stop-color="#f4a652"/><stop offset="0.2814" stop-color="#f4a652"/><stop offset="0.2836" stop-color="#f8c85c"/><stop offset="0.2859" stop-color="#f8c85c"/><stop offset="0.2881" stop-color="#e96c44"/><stop offset="0.2904" stop-color="#e96c44"/><stop offset="0.2926" stop-color="#e45a3c"/><stop offset="0.3128" stop-color="#e45a3c"/><stop offset="0.3150" stop-color="#e96c44"/><stop offset="0.3173" stop-color="#e96c44"/><stop offset="0.3195" stop-color="#e45a3c"/><stop offset="0.3217" stop-color="#e45a3c"/><stop offset="0.3240" stop-color="#ef874a"/><stop offset="0.3352" stop-color="#ef874a"/><stop offset="0.3374" stop-color="#e45a3c"/><stop offset="0.3397" stop-color="#e45a3c"/><stop offset="0.3419" stop-color="#e96c44"/><stop offset="0.3442" stop-color="#e96c44"/><stop offset="0.3464" stop-color="#e45a3c"/><stop offset="0.3621" stop-color="#e45a3c"/><stop offset="0.3643" stop-color="#ef874a"/><stop offset="0.3756" stop-color="#ef874a"/><stop offset="0.3778" stop-color="#cdf06a"/><stop offset="0.4294" stop-color="#cdf06a"/><stop offset="0.4316" stop-color="#f4a652"/><stop offset="0.4383" stop-color="#f4a652"/><stop offset="0.4406" stop-color="#eaf06a"/><stop offset="0.4652" stop-color="#eaf06a"/><stop offset="0.4675" stop-color="#f8e466"/><stop offset="0.4877" stop-color="#f8e466"/><stop offset="0.4899" stop-color="#f4a652"/><stop offset="0.4922" stop-color="#f4a652"/><stop offset="0.4944" stop-color="#e96c44"/><stop offset="0.4966" stop-color="#e96c44"/><stop offset="0.4989" stop-color="#e45a3c"/><stop offset="0.5056" stop-color="#e45a3c"/><stop offset="0.5078" stop-color="#e96c44"/><stop offset="0.5101" stop-color="#e96c44"/><stop offset="0.5123" stop-color="#e45a3c"/><stop offset="0.5146" stop-color="#e45a3c"/><stop offset="0.5168" stop-color="#e96c44"/><stop offset="0.5191" stop-color="#e96c44"/><stop offset="0.5213" stop-color="#ef874a"/><stop offset="0.5415" stop-color="#ef874a"/><stop offset="0.5437" stop-color="#e96c44"/><stop offset="0.5460" stop-color="#e96c44"/><stop offset="0.5482" stop-color="#e45a3c"/><stop offset="0.5729" stop-color="#e45a3c"/><stop offset="0.5751" stop-color="#e96c44"/><stop offset="0.5863" stop-color="#e96c44"/><stop offset="0.5886" stop-color="#e45a3c"/><stop offset="0.5908" stop-color="#e45a3c"/><stop offset="0.5930" stop-color="#ef874a"/><stop offset="0.5998" stop-color="#ef874a"/><stop offset="0.6020" stop-color="#e45a3c"/><stop offset="0.6132" stop-color="#e45a3c"/><stop offset="0.6155" stop-color="#e96c44"/><stop offset="0.6312" stop-color="#e96c44"/><stop offset="0.6334" stop-color="#e45a3c"/><stop offset="0.6446" stop-color="#e45a3c"/><stop offset="0.6469" stop-color="#e96c44"/><stop offset="0.6491" stop-color="#e96c44"/><stop offset="0.6513" stop-color="#e45a3c"/><stop offset="0.6715" stop-color="#e45a3c"/><stop offset="0.6738" stop-color="#e96c44"/><stop offset="0.6805" stop-color="#e96c44"/><stop offset="0.6827" stop-color="#e45a3c"/><stop offset="0.6984" stop-color="#e45a3c"/><stop offset="0.7007" stop-color="#e96c44"/><stop offset="0.7164" stop-color="#e96c44"/><stop offset="0.7186" stop-color="#e45a3c"/><stop offset="0.7343" stop-color="#e45a3c"/><stop offset="0.7365" stop-color="#e96c44"/><stop offset="0.7433" stop-color="#e96c44"/><stop offset="0.7455" stop-color="#e45a3c"/><stop offset="0.7567" stop-color="#e45a3c"/><stop offset="0.7590" stop-color="#f8c85c"/><stop offset="0.7702" stop-color="#f8c85c"/><stop offset="0.7724" stop-color="#f8e466"/><stop offset="0.7836" stop-color="#f8e466"/><stop offset="0.7859" stop-color="#f8c85c"/><stop offset="0.8061" stop-color="#f8c85c"/><stop offset="0.8083" stop-color="#e45a3c"/><stop offset="0.8195" stop-color="#e45a3c"/><stop offset="0.8217" stop-color="#e96c44"/><stop offset="0.8285" stop-color="#e96c44"/><stop offset="0.8307" stop-color="#e45a3c"/><stop offset="0.8330" stop-color="#e45a3c"/><stop offset="0.8352" stop-color="#e96c44"/><stop offset="0.8554" stop-color="#e96c44"/><stop offset="0.8576" stop-color="#f8e466"/><stop offset="0.9002" stop-color="#f8e466"/><stop offset="0.9025" stop-color="#e45a3c"/><stop offset="0.9092" stop-color="#e45a3c"/><stop offset="0.9114" stop-color="#e96c44"/><stop offset="0.9182" stop-color="#e96c44"/><stop offset="0.9204" stop-color="#e45a3c"/><stop offset="0.9271" stop-color="#e45a3c"/><stop offset="0.9294" stop-color="#f8c85c"/><stop offset="0.9406" stop-color="#f8c85c"/><stop offset="0.9428" stop-color="#eaf06a"/><stop offset="0.9585" stop-color="#eaf06a"/><stop offset="0.9608" stop-color="#f8e466"/><stop offset="0.9765" stop-color="#f8e466"/><stop offset="0.9787" stop-color="#eaf06a"/><stop offset="1.0000" stop-color="#eaf06a"/></linearGradient>
<linearGradient id="c10" x1="0" y1="0" x2="0" y2="1"><stop offset="0.0000" stop-color="#a8ef68"/><stop offset="0.0392" stop-color="#a8ef68"/><stop offset="0.0415" stop-color="#cdf06a"/><stop offset="0.0482" stop-color="#cdf06a"/><stop offset="0.0504" stop-color="#c89a40"/><stop offset="0.0527" stop-color="#c89a40"/><stop offset="0.0549" stop-color="#cdf06a"/><stop offset="0.0617" stop-color="#cdf06a"/><stop offset="0.0639" stop-color="#eaf06a"/><stop offset="0.0706" stop-color="#eaf06a"/><stop offset="0.0729" stop-color="#f8c85c"/><stop offset="0.0796" stop-color="#f8c85c"/><stop offset="0.0818" stop-color="#eaf06a"/><stop offset="0.0975" stop-color="#eaf06a"/><stop offset="0.0998" stop-color="#f8c85c"/><stop offset="0.1065" stop-color="#f8c85c"/><stop offset="0.1087" stop-color="#f8e466"/><stop offset="0.1244" stop-color="#f8e466"/><stop offset="0.1267" stop-color="#f8c85c"/><stop offset="0.1424" stop-color="#f8c85c"/><stop offset="0.1446" stop-color="#f4a652"/><stop offset="0.1513" stop-color="#f4a652"/><stop offset="0.1536" stop-color="#f8c85c"/><stop offset="0.1603" stop-color="#f8c85c"/><stop offset="0.1626" stop-color="#f8e466"/><stop offset="0.1648" stop-color="#f8e466"/><stop offset="0.1670" stop-color="#eaf06a"/><stop offset="0.1693" stop-color="#eaf06a"/><stop offset="0.1715" stop-color="#f8c85c"/><stop offset="0.1738" stop-color="#f8c85c"/><stop offset="0.1760" stop-color="#f4a652"/><stop offset="0.1872" stop-color="#f4a652"/><stop offset="0.1895" stop-color="#ef874a"/><stop offset="0.1962" stop-color="#ef874a"/><stop offset="0.1984" stop-color="#e96c44"/><stop offset="0.2096" stop-color="#e96c44"/><stop offset="0.2119" stop-color="#ef874a"/><stop offset="0.2186" stop-color="#ef874a"/><stop offset="0.2209" stop-color="#f8e466"/><stop offset="0.2231" stop-color="#f8e466"/><stop offset="0.2253" stop-color="#f4a652"/><stop offset="0.2321" stop-color="#f4a652"/><stop offset="0.2343" stop-color="#f8c85c"/><stop offset="0.2365" stop-color="#f8c85c"/><stop offset="0.2388" stop-color="#f4a652"/><stop offset="0.2410" stop-color="#f4a652"/><stop offset="0.2433" stop-color="#f8c85c"/><stop offset="0.2455" stop-color="#f8c85c"/><stop offset="0.2478" stop-color="#f8e466"/><stop offset="0.2500" stop-color="#f8e466"/><stop offset="0.2522" stop-color="#f4a652"/><stop offset="0.2545" stop-color="#f4a652"/><stop offset="0.2567" stop-color="#ef874a"/><stop offset="0.2590" stop-color="#ef874a"/><stop offset="0.2612" stop-color="#f4a652"/><stop offset="0.2679" stop-color="#f4a652"/><stop offset="0.2702" stop-color="#f8c85c"/><stop offset="0.2769" stop-color="#f8c85c"/><stop offset="0.2791" stop-color="#f4a652"/><stop offset="0.2814" stop-color="#f4a652"/><stop offset="0.2836" stop-color="#f8c85c"/><stop offset="0.2859" stop-color="#f8c85c"/><stop offset="0.2881" stop-color="#f8e466"/><stop offset="0.2904" stop-color="#f8e466"/><stop offset="0.2926" stop-color="#f4a652"/><stop offset="0.2993" stop-color="#f4a652"/><stop offset="0.3016" stop-color="#f8c85c"/><stop offset="0.3038" stop-color="#f8c85c"/><stop offset="0.3061" stop-color="#e96c44"/><stop offset="0.3083" stop-color="#e96c44"/><stop offset="0.3105" stop-color="#ef874a"/><stop offset="0.3128" stop-color="#ef874a"/><stop offset="0.3150" stop-color="#f4a652"/><stop offset="0.3173" stop-color="#f4a652"/><stop offset="0.3195" stop-color="#ef874a"/><stop offset="0.3217" stop-color="#ef874a"/><stop offset="0.3240" stop-color="#e96c44"/><stop offset="0.3307" stop-color="#e96c44"/><stop offset="0.3330" stop-color="#ef874a"/><stop offset="0.3352" stop-color="#ef874a"/><stop offset="0.3374" stop-color="#e45a3c"/><stop offset="0.3397" stop-color="#e45a3c"/><stop offset="0.3419" stop-color="#e96c44"/><stop offset="0.3442" stop-color="#e96c44"/><stop offset="0.3464" stop-color="#e45a3c"/><stop offset="0.3531" stop-color="#e45a3c"/><stop offset="0.3554" stop-color="#e96c44"/><stop offset="0.3576" stop-color="#e96c44"/><stop offset="0.3599" stop-color="#e45a3c"/><stop offset="0.3621" stop-color="#e45a3c"/><stop offset="0.3643" stop-color="#f8c85c"/><stop offset="0.3711" stop-color="#f8c85c"/><stop offset="0.3733" stop-color="#f8e466"/><stop offset="0.3756" stop-color="#f8e466"/><stop offset="0.3778" stop-color="#cdf06a"/><stop offset="0.4294" stop-color="#cdf06a"/><stop offset="0.4316" stop-color="#f8c85c"/><stop offset="0.4383" stop-color="#f8c85c"/><stop offset="0.4406" stop-color="#eaf06a"/><stop offset="0.4652" stop-color="#eaf06a"/><stop offset="0.4675" stop-color="#f8e466"/><stop offset="0.4877" stop-color="#f8e466"/><stop offset="0.4899" stop-color="#f4a652"/><stop offset="0.4922" stop-color="#f4a652"/><stop offset="0.4944" stop-color="#e96c44"/><stop offset="0.4966" stop-color="#e96c44"/><stop offset="0.4989" stop-color="#e45a3c"/><stop offset="0.5011" stop-color="#e45a3c"/><stop offset="0.5034" stop-color="#e96c44"/><stop offset="0.5101" stop-color="#e96c44"/><stop offset="0.5123" stop-color="#e45a3c"/><stop offset="0.5146" stop-color="#e45a3c"/><stop offset="0.5168" stop-color="#e96c44"/><stop offset="0.5191" stop-color="#e96c44"/><stop offset="0.5213" stop-color="#ef874a"/><stop offset="0.5415" stop-color="#ef874a"/><stop offset="0.5437" stop-color="#f4a652"/><stop offset="0.5504" stop-color="#f4a652"/><stop offset="0.5527" stop-color="#e45a3c"/><stop offset="0.5639" stop-color="#e45a3c"/><stop offset="0.5661" stop-color="#f4a652"/><stop offset="0.5729" stop-color="#f4a652"/><stop offset="0.5751" stop-color="#e96c44"/><stop offset="0.5863" stop-color="#e96c44"/><stop offset="0.5886" stop-color="#e45a3c"/><stop offset="0.5953" stop-color="#e45a3c"/><stop offset="0.5975" stop-color="#e96c44"/><stop offset="0.5998" stop-color="#e96c44"/><stop offset="0.6020" stop-color="#e45a3c"/><stop offset="0.6132" stop-color="#e45a3c"/><stop offset="0.6155" stop-color="#e96c44"/><stop offset="0.6312" stop-color="#e96c44"/><stop offset="0.6334" stop-color="#e45a3c"/><stop offset="0.6446" stop-color="#e45a3c"/><stop offset="0.6469" stop-color="#e96c44"/><stop offset="0.6491" stop-color="#e96c44"/><stop offset="0.6513" stop-color="#e45a3c"/><stop offset="0.6715" stop-color="#e45a3c"/><stop offset="0.6738" stop-color="#e96c44"/><stop offset="0.6805" stop-color="#e96c44"/><stop offset="0.6827" stop-color="#e45a3c"/><stop offset="0.6984" stop-color="#e45a3c"/><stop offset="0.7007" stop-color="#e96c44"/><stop offset="0.7164" stop-color="#e96c44"/><stop offset="0.7186" stop-color="#e45a3c"/><stop offset="0.7343" stop-color="#e45a3c"/><stop offset="0.7365" stop-color="#e96c44"/><stop offset="0.7433" stop-color="#e96c44"/><stop offset="0.7455" stop-color="#e45a3c"/><stop offset="0.7567" stop-color="#e45a3c"/><stop offset="0.7590" stop-color="#f8c85c"/><stop offset="0.7836" stop-color="#f8c85c"/><stop offset="0.7859" stop-color="#f4a652"/><stop offset="0.8061" stop-color="#f4a652"/><stop offset="0.8083" stop-color="#e96c44"/><stop offset="0.8330" stop-color="#e96c44"/><stop offset="0.8352" stop-color="#ef874a"/><stop offset="0.8554" stop-color="#ef874a"/><stop offset="0.8576" stop-color="#f8c85c"/><stop offset="0.8913" stop-color="#f8c85c"/><stop offset="0.8935" stop-color="#f8e466"/><stop offset="0.9002" stop-color="#f8e466"/><stop offset="0.9025" stop-color="#ef874a"/><stop offset="0.9271" stop-color="#ef874a"/><stop offset="0.9294" stop-color="#f8e466"/><stop offset="0.9406" stop-color="#f8e466"/><stop offset="0.9428" stop-color="#eaf06a"/><stop offset="0.9585" stop-color="#eaf06a"/><stop offset="0.9608" stop-color="#f8e466"/><stop offset="1.0000" stop-color="#f8e466"/></linearGradient>
<linearGradient id="c11" x1="0" y1="0" x2="0" y2="1"><stop offset="0.0000" stop-color="#a8ef68"/><stop offset="0.0392" stop-color="#a8ef68"/><stop offset="0.0415" stop-color="#cdf06a"/><stop offset="0.0617" stop-color="#cdf06a"/><stop offset="0.0639" stop-color="#eaf06a"/><stop offset="0.0975" stop-color="#eaf06a"/><stop offset="0.0998" stop-color="#f8e466"/><stop offset="0.1244" stop-color="#f8e466"/><stop offset="0.1267" stop-color="#f8c85c"/><stop offset="0.1424" stop-color="#f8c85c"/><stop offset="0.1446" stop-color="#f4a652"/><stop offset="0.1513" stop-color="#f4a652"/><stop offset="0.1536" stop-color="#f8c85c"/><stop offset="0.1603" stop-color="#f8c85c"/><stop offset="0.1626" stop-color="#f8e466"/><stop offset="0.1648" stop-color="#f8e466"/><stop offset="0.1670" stop-color="#eaf06a"/><stop offset="0.1693" stop-color="#eaf06a"/><stop offset="0.1715" stop-color="#f8e466"/><stop offset="0.1738" stop-color="#f8e466"/><stop offset="0.1760" stop-color="#f8c85c"/><stop offset="0.1827" stop-color="#f8c85c"/><stop offset="0.1850" stop-color="#f4a652"/><stop offset="0.1917" stop-color="#f4a652"/><stop offset="0.1939" stop-color="#f8c85c"/><stop offset="0.1962" stop-color="#f8c85c"/><stop offset="0.1984" stop-color="#f4a652"/><stop offset="0.2186" stop-color="#f4a652"/><stop offset="0.2209" stop-color="#f8e466"/><stop offset="0.2231" stop-color="#f8e466"/><stop offset="0.2253" stop-color="#f4a652"/><stop offset="0.2276" stop-color="#f4a652"/><stop offset="0.2298" stop-color="#f8c85c"/><stop offset="0.2321" stop-color="#f8c85c"/><stop offset="0.2343" stop-color="#f8e466"/><stop offset="0.2410" stop-color="#f8e466"/><stop offset="0.2433" stop-color="#eaf06a"/><stop offset="0.2455" stop-color="#eaf06a"/><stop offset="0.2478" stop-color="#a8ef68"/><stop offset="0.2500" stop-color="#a8ef68"/><stop offset="0.2522" stop-color="#f8c85c"/><stop offset="0.2545" stop-color="#f8c85c"/><stop offset="0.2567" stop-color="#f4a652"/><stop offset="0.2679" stop-color="#f4a652"/><stop offset="0.2702" stop-color="#eaf06a"/><stop offset="0.2769" stop-color="#eaf06a"/><stop offset="0.2791" stop-color="#f8e466"/><stop offset="0.2814" stop-color="#f8e466"/><stop offset="0.2836" stop-color="#eaf06a"/><stop offset="0.2859" stop-color="#eaf06a"/><stop offset="0.2881" stop-color="#f4a652"/><stop offset="0.2904" stop-color="#f4a652"/><stop offset="0.2926" stop-color="#e96c44"/><stop offset="0.2993" stop-color="#e96c44"/><stop offset="0.3016" stop-color="#ef874a"/><stop offset="0.3038" stop-color="#ef874a"/><stop offset="0.3061" stop-color="#e96c44"/><stop offset="0.3083" stop-color="#e96c44"/><stop offset="0.3105" stop-color="#ef874a"/><stop offset="0.3128" stop-color="#ef874a"/><stop offset="0.3150" stop-color="#f4a652"/><stop offset="0.3173" stop-color="#f4a652"/><stop offset="0.3195" stop-color="#ef874a"/><stop offset="0.3262" stop-color="#ef874a"/><stop offset="0.3285" stop-color="#f4a652"/><stop offset="0.3307" stop-color="#f4a652"/><stop offset="0.3330" stop-color="#ef874a"/><stop offset="0.3352" stop-color="#ef874a"/><stop offset="0.3374" stop-color="#e96c44"/><stop offset="0.3397" stop-color="#e96c44"/><stop offset="0.3419" stop-color="#ef874a"/><stop offset="0.3621" stop-color="#ef874a"/><stop offset="0.3643" stop-color="#f8c85c"/><stop offset="0.3666" stop-color="#f8c85c"/><stop offset="0.3688" stop-color="#eaf06a"/><stop offset="0.3756" stop-color="#eaf06a"/><stop offset="0.3778" stop-color="#cdf06a"/><stop offset="0.4383" stop-color="#cdf06a"/><stop offset="0.4406" stop-color="#eaf06a"/><stop offset="0.4652" stop-color="#eaf06a"/><stop offset="0.4675" stop-color="#f8e466"/><stop offset="0.4877" stop-color="#f8e466"/><stop offset="0.4899" stop-color="#f4a652"/><stop offset="0.4922" stop-color="#f4a652"/><stop offset="0.4944" stop-color="#e96c44"/><stop offset="0.4966" stop-color="#e96c44"/><stop offset="0.4989" stop-color="#e45a3c"/><stop offset="0.5056" stop-color="#e45a3c"/><stop offset="0.5078" stop-color="#e96c44"/><stop offset="0.5101" stop-color="#e96c44"/><stop offset="0.5123" stop-color="#e45a3c"/><stop offset="0.5146" stop-color="#e45a3c"/><stop offset="0.5168" stop-color="#e96c44"/><stop offset="0.5191" stop-color="#e96c44"/><stop offset="0.5213" stop-color="#ef874a"/><stop offset="0.5415" stop-color="#ef874a"/><stop offset="0.5437" stop-color="#e96c44"/><stop offset="0.5460" stop-color="#e96c44"/><stop offset="0.5482" stop-color="#e45a3c"/><stop offset="0.5729" stop-color="#e45a3c"/><stop offset="0.5751" stop-color="#ef874a"/><stop offset="0.5774" stop-color="#ef874a"/><stop offset="0.5796" stop-color="#e96c44"/><stop offset="0.5863" stop-color="#e96c44"/><stop offset="0.5886" stop-color="#e45a3c"/><stop offset="0.5953" stop-color="#e45a3c"/><stop offset="0.5975" stop-color="#e96c44"/><stop offset="0.5998" stop-color="#e96c44"/><stop offset="0.6020" stop-color="#e45a3c"/><stop offset="0.6132" stop-color="#e45a3c"/><stop offset="0.6155" stop-color="#e96c44"/><stop offset="0.6267" stop-color="#e96c44"/><stop offset="0.6289" stop-color="#e45a3c"/><stop offset="0.6446" stop-color="#e45a3c"/><stop offset="0.6469" stop-color="#e96c44"/><stop offset="0.6491" stop-color="#e96c44"/><stop offset="0.6513" stop-color="#e45a3c"/><stop offset="0.6715" stop-color="#e45a3c"/><stop offset="0.6738" stop-color="#e96c44"/><stop offset="0.6805" stop-color="#e96c44"/><stop offset="0.6827" stop-color="#e45a3c"/><stop offset="0.6984" stop-color="#e45a3c"/><stop offset="0.7007" stop-color="#e96c44"/><stop offset="0.7164" stop-color="#e96c44"/><stop offset="0.7186" stop-color="#e45a3c"/><stop offset="0.7343" stop-color="#e45a3c"/><stop offset="0.7365" stop-color="#e96c44"/><stop offset="0.7567" stop-color="#e96c44"/><stop offset="0.7590" stop-color="#f4a652"/><stop offset="0.7702" stop-color="#f4a652"/><stop offset="0.7724" stop-color="#f8c85c"/><stop offset="0.7836" stop-color="#f8c85c"/><stop offset="0.7859" stop-color="#f4a652"/><stop offset="0.8554" stop-color="#f4a652"/><stop offset="0.8576" stop-color="#f8c85c"/><stop offset="0.8913" stop-color="#f8c85c"/><stop offset="0.8935" stop-color="#f8e466"/><stop offset="0.9002" stop-color="#f8e466"/><stop offset="0.9025" stop-color="#f8c85c"/><stop offset="0.9271" stop-color="#f8c85c"/><stop offset="0.9294" stop-color="#f8e466"/><stop offset="1.0000" stop-color="#f8e466"/></linearGradient>
<linearGradient id="c12" x1="0" y1="0" x2="0" y2="1"><stop offset="0.0000" stop-color="#e96c44"/><stop offset="0.0078" stop-color="#e96c44"/><stop offset="0.0101" stop-color="#f8c85c"/><stop offset="0.0168" stop-color="#f8c85c"/><stop offset="0.0191" stop-color="#ef874a"/><stop offset="0.0213" stop-color="#ef874a"/><stop offset="0.0235" stop-color="#f8c85c"/><stop offset="0.0303" stop-color="#f8c85c"/><stop offset="0.0325" stop-color="#ef874a"/><stop offset="0.0348" stop-color="#ef874a"/><stop offset="0.0370" stop-color="#cdf06a"/><stop offset="0.0527" stop-color="#cdf06a"/><stop offset="0.0549" stop-color="#a8ef68"/><stop offset="0.0930" stop-color="#a8ef68"/><stop offset="0.0953" stop-color="#f8c85c"/><stop offset="0.0975" stop-color="#f8c85c"/><stop offset="0.0998" stop-color="#cdf06a"/><stop offset="0.1424" stop-color="#cdf06a"/><stop offset="0.1446" stop-color="#a8ef68"/><stop offset="0.1469" stop-color="#a8ef68"/><stop offset="0.1491" stop-color="#cdf06a"/><stop offset="0.1783" stop-color="#cdf06a"/><stop offset="0.1805" stop-color="#ef874a"/><stop offset="0.1827" stop-color="#ef874a"/><stop offset="0.1850" stop-color="#eaf06a"/><stop offset="0.2141" stop-color="#eaf06a"/><stop offset="0.2164" stop-color="#f8e466"/><stop offset="0.2231" stop-color="#f8e466"/><stop offset="0.2253" stop-color="#eaf06a"/><stop offset="0.2321" stop-color="#eaf06a"/><stop offset="0.2343" stop-color="#f8e466"/><stop offset="0.2410" stop-color="#f8e466"/><stop offset="0.2433" stop-color="#eaf06a"/><stop offset="0.2724" stop-color="#eaf06a"/><stop offset="0.2747" stop-color="#f4a652"/><stop offset="0.2769" stop-color="#f4a652"/><stop offset="0.2791" stop-color="#cdf06a"/><stop offset="0.3038" stop-color="#cdf06a"/><stop offset="0.3061" stop-color="#a8ef68"/><stop offset="0.3128" stop-color="#a8ef68"/><stop offset="0.3150" stop-color="#cdf06a"/><stop offset="0.3397" stop-color="#cdf06a"/><stop offset="0.3419" stop-color="#eaf06a"/><stop offset="0.3442" stop-color="#eaf06a"/><stop offset="0.3464" stop-color="#cdf06a"/><stop offset="0.3576" stop-color="#cdf06a"/><stop offset="0.3599" stop-color="#f8c85c"/><stop offset="0.3666" stop-color="#f8c85c"/><stop offset="0.3688" stop-color="#e45a3c"/><stop offset="0.3890" stop-color="#e45a3c"/><stop offset="0.3913" stop-color="#f4a652"/><stop offset="0.3980" stop-color="#f4a652"/><stop offset="0.4002" stop-color="#ef874a"/><stop offset="0.4070" stop-color="#ef874a"/><stop offset="0.4092" stop-color="#e96c44"/><stop offset="0.4294" stop-color="#e96c44"/><stop offset="0.4316" stop-color="#ef874a"/><stop offset="0.4428" stop-color="#ef874a"/><stop offset="0.4451" stop-color="#e96c44"/><stop offset="0.4652" stop-color="#e96c44"/><stop offset="0.4675" stop-color="#e45a3c"/><stop offset="0.4787" stop-color="#e45a3c"/><stop offset="0.4809" stop-color="#ef874a"/><stop offset="0.4922" stop-color="#ef874a"/><stop offset="0.4944" stop-color="#f8e466"/><stop offset="0.5370" stop-color="#f8e466"/><stop offset="0.5392" stop-color="#f8c85c"/><stop offset="0.5460" stop-color="#f8c85c"/><stop offset="0.5482" stop-color="#cdf06a"/><stop offset="0.5549" stop-color="#cdf06a"/><stop offset="0.5572" stop-color="#eaf06a"/><stop offset="0.5594" stop-color="#eaf06a"/><stop offset="0.5617" stop-color="#f8e466"/><stop offset="0.5639" stop-color="#f8e466"/><stop offset="0.5661" stop-color="#eaf06a"/><stop offset="0.5684" stop-color="#eaf06a"/><stop offset="0.5706" stop-color="#f8c85c"/><stop offset="0.5729" stop-color="#f8c85c"/><stop offset="0.5751" stop-color="#eaf06a"/><stop offset="0.5774" stop-color="#eaf06a"/><stop offset="0.5796" stop-color="#f8c85c"/><stop offset="0.5818" stop-color="#f8c85c"/><stop offset="0.5841" stop-color="#f8e466"/><stop offset="0.5863" stop-color="#f8e466"/><stop offset="0.5886" stop-color="#ef874a"/><stop offset="0.5908" stop-color="#ef874a"/><stop offset="0.5930" stop-color="#e96c44"/><stop offset="0.5998" stop-color="#e96c44"/><stop offset="0.6020" stop-color="#f8e466"/><stop offset="0.6087" stop-color="#f8e466"/><stop offset="0.6110" stop-color="#f4a652"/><stop offset="0.6177" stop-color="#f4a652"/><stop offset="0.6200" stop-color="#f8c85c"/><stop offset="0.6222" stop-color="#f8c85c"/><stop offset="0.6244" stop-color="#f8e466"/><stop offset="0.6267" stop-color="#f8e466"/><stop offset="0.6289" stop-color="#f4a652"/><stop offset="0.6312" stop-color="#f4a652"/><stop offset="0.6334" stop-color="#eaf06a"/><stop offset="0.6401" stop-color="#eaf06a"/><stop offset="0.6424" stop-color="#cdf06a"/><stop offset="0.6491" stop-color="#cdf06a"/><stop offset="0.6513" stop-color="#f8e466"/><stop offset="0.6536" stop-color="#f8e466"/><stop offset="0.6558" stop-color="#f4a652"/><stop offset="0.6581" stop-color="#f4a652"/><stop offset="0.6603" stop-color="#f8c85c"/><stop offset="0.6626" stop-color="#f8c85c"/><stop offset="0.6648" stop-color="#f8e466"/><stop offset="0.6670" stop-color="#f8e466"/><stop offset="0.6693" stop-color="#eaf06a"/><stop offset="0.6715" stop-color="#eaf06a"/><stop offset="0.6738" stop-color="#f8e466"/><stop offset="0.6805" stop-color="#f8e466"/><stop offset="0.6827" stop-color="#cdf06a"/><stop offset="0.6850" stop-color="#cdf06a"/><stop offset="0.6872" stop-color="#f8c85c"/><stop offset="0.6895" stop-color="#f8c85c"/><stop offset="0.6917" stop-color="#eaf06a"/><stop offset="0.6939" stop-color="#eaf06a"/><stop offset="0.6962" stop-color="#f8c85c"/><stop offset="0.6984" stop-color="#f8c85c"/><stop offset="0.7007" stop-color="#e96c44"/><stop offset="0.7074" stop-color="#e96c44"/><stop offset="0.7096" stop-color="#e45a3c"/><stop offset="0.7119" stop-color="#e45a3c"/><stop offset="0.7141" stop-color="#f8e466"/><stop offset="0.7164" stop-color="#f8e466"/><stop offset="0.7186" stop-color="#cdf06a"/><stop offset="0.7253" stop-color="#cdf06a"/><stop offset="0.7276" stop-color="#eaf06a"/><stop offset="0.7298" stop-color="#eaf06a"/><stop offset="0.7321" stop-color="#f8e466"/><stop offset="0.7343" stop-color="#f8e466"/><stop offset="0.7365" stop-color="#eaf06a"/><stop offset="0.7433" stop-color="#eaf06a"/><stop offset="0.7455" stop-color="#f8e466"/><stop offset="0.7657" stop-color="#f8e466"/><stop offset="0.7679" stop-color="#e96c44"/><stop offset="0.7702" stop-color="#e96c44"/><stop offset="0.7724" stop-color="#e45a3c"/><stop offset="0.7747" stop-color="#e45a3c"/><stop offset="0.7769" stop-color="#e96c44"/><stop offset="0.7791" stop-color="#e96c44"/><stop offset="0.7814" stop-color="#e45a3c"/><stop offset="0.7881" stop-color="#e45a3c"/><stop offset="0.7904" stop-color="#ef874a"/><stop offset="0.7926" stop-color="#ef874a"/><stop offset="0.7948" stop-color="#e45a3c"/><stop offset="0.8061" stop-color="#e45a3c"/><stop offset="0.8083" stop-color="#e96c44"/><stop offset="0.8105" stop-color="#e96c44"/><stop offset="0.8128" stop-color="#e45a3c"/><stop offset="0.8150" stop-color="#e45a3c"/><stop offset="0.8173" stop-color="#e96c44"/><stop offset="0.8195" stop-color="#e96c44"/><stop offset="0.8217" stop-color="#e45a3c"/><stop offset="0.8285" stop-color="#e45a3c"/><stop offset="0.8307" stop-color="#e96c44"/><stop offset="0.8330" stop-color="#e96c44"/><stop offset="0.8352" stop-color="#e45a3c"/><stop offset="0.8419" stop-color="#e45a3c"/><stop offset="0.8442" stop-color="#e96c44"/><stop offset="0.8509" stop-color="#e96c44"/><stop offset="0.8531" stop-color="#e45a3c"/><stop offset="0.8733" stop-color="#e45a3c"/><stop offset="0.8756" stop-color="#e96c44"/><stop offset="0.8778" stop-color="#e96c44"/><stop offset="0.8800" stop-color="#e45a3c"/><stop offset="0.8913" stop-color="#e45a3c"/><stop offset="0.8935" stop-color="#e96c44"/><stop offset="0.9002" stop-color="#e96c44"/><stop offset="0.9025" stop-color="#e45a3c"/><stop offset="0.9361" stop-color="#e45a3c"/><stop offset="0.9383" stop-color="#e96c44"/><stop offset="0.9406" stop-color="#e96c44"/><stop offset="0.9428" stop-color="#e45a3c"/><stop offset="0.9496" stop-color="#e45a3c"/><stop offset="0.9518" stop-color="#e96c44"/><stop offset="0.9540" stop-color="#e96c44"/><stop offset="0.9563" stop-color="#e45a3c"/><stop offset="0.9720" stop-color="#e45a3c"/><stop offset="0.9742" stop-color="#e96c44"/><stop offset="0.9765" stop-color="#e96c44"/><stop offset="0.9787" stop-color="#e45a3c"/><stop offset="0.9809" stop-color="#e45a3c"/><stop offset="0.9832" stop-color="#ef874a"/><stop offset="1.0000" stop-color="#ef874a"/></linearGradient>
<linearGradient id="c13" x1="0" y1="0" x2="0" y2="1"><stop offset="0.0000" stop-color="#ef874a"/><stop offset="0.0078" stop-color="#ef874a"/><stop offset="0.0101" stop-color="#eaf06a"/><stop offset="0.0168" stop-color="#eaf06a"/><stop offset="0.0191" stop-color="#cdf06a"/><stop offset="0.0303" stop-color="#cdf06a"/><stop offset="0.0325" stop-color="#a8ef68"/><stop offset="0.0975" stop-color="#a8ef68"/><stop offset="0.0998" stop-color="#cdf06a"/><stop offset="0.1424" stop-color="#cdf06a"/><stop offset="0.1446" stop-color="#f8c85c"/><stop offset="0.1469" stop-color="#f8c85c"/><stop offset="0.1491" stop-color="#cdf06a"/><stop offset="0.1783" stop-color="#cdf06a"/><stop offset="0.1805" stop-color="#eaf06a"/><stop offset="0.2141" stop-color="#eaf06a"/><stop offset="0.2164" stop-color="#f8c85c"/><stop offset="0.2231" stop-color="#f8c85c"/><stop offset="0.2253" stop-color="#eaf06a"/><stop offset="0.2321" stop-color="#eaf06a"/><stop offset="0.2343" stop-color="#f8e466"/><stop offset="0.2410" stop-color="#f8e466"/><stop offset="0.2433" stop-color="#eaf06a"/><stop offset="0.2769" stop-color="#eaf06a"/><stop offset="0.2791" stop-color="#cdf06a"/><stop offset="0.3038" stop-color="#cdf06a"/><stop offset="0.3061" stop-color="#a8ef68"/><stop offset="0.3128" stop-color="#a8ef68"/><stop offset="0.3150" stop-color="#cdf06a"/><stop offset="0.3397" stop-color="#cdf06a"/><stop offset="0.3419" stop-color="#eaf06a"/><stop offset="0.3442" stop-color="#eaf06a"/><stop offset="0.3464" stop-color="#cdf06a"/><stop offset="0.3576" stop-color="#cdf06a"/><stop offset="0.3599" stop-color="#f8e466"/><stop offset="0.3666" stop-color="#f8e466"/><stop offset="0.3688" stop-color="#e45a3c"/><stop offset="0.3890" stop-color="#e45a3c"/><stop offset="0.3913" stop-color="#f4a652"/><stop offset="0.3980" stop-color="#f4a652"/><stop offset="0.4002" stop-color="#f8e466"/><stop offset="0.4070" stop-color="#f8e466"/><stop offset="0.4092" stop-color="#f8c85c"/><stop offset="0.4204" stop-color="#f8c85c"/><stop offset="0.4226" stop-color="#ef874a"/><stop offset="0.4294" stop-color="#ef874a"/><stop offset="0.4316" stop-color="#f8e466"/><stop offset="0.4428" stop-color="#f8e466"/><stop offset="0.4451" stop-color="#f8c85c"/><stop offset="0.4563" stop-color="#f8c85c"/><stop offset="0.4585" stop-color="#ef874a"/><stop offset="0.4652" stop-color="#ef874a"/><stop offset="0.4675" stop-color="#e96c44"/><stop offset="0.4787" stop-color="#e96c44"/><stop offset="0.4809" stop-color="#f8e466"/><stop offset="0.4922" stop-color="#f8e466"/><stop offset="0.4944" stop-color="#eaf06a"/><stop offset="0.5056" stop-color="#eaf06a"/><stop offset="0.5078" stop-color="#f8e466"/><stop offset="0.5191" stop-color="#f8e466"/><stop offset="0.5213" stop-color="#eaf06a"/><stop offset="0.5370" stop-color="#eaf06a"/><stop offset="0.5392" stop-color="#f8c85c"/><stop offset="0.5460" stop-color="#f8c85c"/><stop offset="0.5482" stop-color="#f8e466"/><stop offset="0.5504" stop-color="#f8e466"/><stop offset="0.5527" stop-color="#eaf06a"/><stop offset="0.5549" stop-color="#eaf06a"/><stop offset="0.5572" stop-color="#f8e466"/><stop offset="0.5594" stop-color="#f8e466"/><stop offset="0.5617" stop-color="#f8c85c"/><stop offset="0.5729" stop-color="#f8c85c"/><stop offset="0.5751" stop-color="#eaf06a"/><stop offset="0.5774" stop-color="#eaf06a"/><stop offset="0.5796" stop-color="#f8c85c"/><stop offset="0.5818" stop-color="#f8c85c"/><stop offset="0.5841" stop-color="#f8e466"/><stop offset="0.5863" stop-color="#f8e466"/><stop offset="0.5886" stop-color="#f4a652"/><stop offset="0.5908" stop-color="#f4a652"/><stop offset="0.5930" stop-color="#ef874a"/><stop offset="0.5998" stop-color="#ef874a"/><stop offset="0.6020" stop-color="#f4a652"/><stop offset="0.6087" stop-color="#f4a652"/><stop offset="0.6110" stop-color="#e96c44"/><stop offset="0.6132" stop-color="#e96c44"/><stop offset="0.6155" stop-color="#f4a652"/><stop offset="0.6177" stop-color="#f4a652"/><stop offset="0.6200" stop-color="#f8c85c"/><stop offset="0.6222" stop-color="#f8c85c"/><stop offset="0.6244" stop-color="#f8e466"/><stop offset="0.6267" stop-color="#f8e466"/><stop offset="0.6289" stop-color="#f4a652"/><stop offset="0.6312" stop-color="#f4a652"/><stop offset="0.6334" stop-color="#f8c85c"/><stop offset="0.6401" stop-color="#f8c85c"/><stop offset="0.6424" stop-color="#f8e466"/><stop offset="0.6446" stop-color="#f8e466"/><stop offset="0.6469" stop-color="#f8c85c"/><stop offset="0.6536" stop-color="#f8c85c"/><stop offset="0.6558" stop-color="#f4a652"/><stop offset="0.6626" stop-color="#f4a652"/><stop offset="0.6648" stop-color="#f8c85c"/><stop offset="0.6715" stop-color="#f8c85c"/><stop offset="0.6738" stop-color="#f4a652"/><stop offset="0.6760" stop-color="#f4a652"/><stop offset="0.6783" stop-color="#f8c85c"/><stop offset="0.6805" stop-color="#f8c85c"/><stop offset="0.6827" stop-color="#f8e466"/><stop offset="0.6850" stop-color="#f8e466"/><stop offset="0.6872" stop-color="#ef874a"/><stop offset="0.6895" stop-color="#ef874a"/><stop offset="0.6917" stop-color="#f4a652"/><stop offset="0.6939" stop-color="#f4a652"/><stop offset="0.6962" stop-color="#e96c44"/><stop offset="0.6984" stop-color="#e96c44"/><stop offset="0.7007" stop-color="#f8c85c"/><stop offset="0.7029" stop-color="#f8c85c"/><stop offset="0.7052" stop-color="#f8e466"/><stop offset="0.7074" stop-color="#f8e466"/><stop offset="0.7096" stop-color="#f4a652"/><stop offset="0.7119" stop-color="#f4a652"/><stop offset="0.7141" stop-color="#f8e466"/><stop offset="0.7164" stop-color="#f8e466"/><stop offset="0.7186" stop-color="#eaf06a"/><stop offset="0.7253" stop-color="#eaf06a"/><stop offset="0.7276" stop-color="#f8e466"/><stop offset="0.7298" stop-color="#f8e466"/><stop offset="0.7321" stop-color="#f4a652"/><stop offset="0.7343" stop-color="#f4a652"/><stop offset="0.7365" stop-color="#f8e466"/><stop offset="0.7657" stop-color="#f8e466"/><stop offset="0.7679" stop-color="#e96c44"/><stop offset="0.7702" stop-color="#e96c44"/><stop offset="0.7724" stop-color="#e45a3c"/><stop offset="0.7747" stop-color="#e45a3c"/><stop offset="0.7769" stop-color="#e96c44"/><stop offset="0.7791" stop-color="#e96c44"/><stop offset="0.7814" stop-color="#e45a3c"/><stop offset="0.7881" stop-color="#e45a3c"/><stop offset="0.7904" stop-color="#e96c44"/><stop offset="0.7926" stop-color="#e96c44"/><stop offset="0.7948" stop-color="#e45a3c"/><stop offset="0.8061" stop-color="#e45a3c"/><stop offset="0.8083" stop-color="#e96c44"/><stop offset="0.8105" stop-color="#e96c44"/><stop offset="0.8128" stop-color="#e45a3c"/><stop offset="0.8150" stop-color="#e45a3c"/><stop offset="0.8173" stop-color="#e96c44"/><stop offset="0.8195" stop-color="#e96c44"/><stop offset="0.8217" stop-color="#e45a3c"/><stop offset="0.8285" stop-color="#e45a3c"/><stop offset="0.8307" stop-color="#e96c44"/><stop offset="0.8330" stop-color="#e96c44"/><stop offset="0.8352" stop-color="#e45a3c"/><stop offset="0.8419" stop-color="#e45a3c"/><stop offset="0.8442" stop-color="#f8c85c"/><stop offset="0.8509" stop-color="#f8c85c"/><stop offset="0.8531" stop-color="#ef874a"/><stop offset="0.8554" stop-color="#ef874a"/><stop offset="0.8576" stop-color="#e96c44"/><stop offset="0.8778" stop-color="#e96c44"/><stop offset="0.8800" stop-color="#ef874a"/><stop offset="0.8823" stop-color="#ef874a"/><stop offset="0.8845" stop-color="#e45a3c"/><stop offset="0.8913" stop-color="#e45a3c"/><stop offset="0.8935" stop-color="#ef874a"/><stop offset="0.9002" stop-color="#ef874a"/><stop offset="0.9025" stop-color="#e96c44"/><stop offset="0.9047" stop-color="#e96c44"/><stop offset="0.9070" stop-color="#ef874a"/><stop offset="0.9092" stop-color="#ef874a"/><stop offset="0.9114" stop-color="#e96c44"/><stop offset="0.9316" stop-color="#e96c44"/><stop offset="0.9339" stop-color="#ef874a"/><stop offset="0.9361" stop-color="#ef874a"/><stop offset="0.9383" stop-color="#e45a3c"/><stop offset="0.9406" stop-color="#e45a3c"/><stop offset="0.9428" stop-color="#e96c44"/><stop offset="0.9496" stop-color="#e96c44"/><stop offset="0.9518" stop-color="#ef874a"/><stop offset="0.9585" stop-color="#ef874a"/><stop offset="0.9608" stop-color="#e96c44"/><stop offset="0.9675" stop-color="#e96c44"/><stop offset="0.9697" stop-color="#ef874a"/><stop offset="0.9720" stop-color="#ef874a"/><stop offset="0.9742" stop-color="#e96c44"/><stop offset="0.9765" stop-color="#e96c44"/><stop offset="0.9787" stop-color="#e45a3c"/><stop offset="0.9809" stop-color="#e45a3c"/><stop offset="0.9832" stop-color="#ef874a"/><stop offset="1.0000" stop-color="#ef874a"/></linearGradient>
<linearGradient id="c14" x1="0" y1="0" x2="0" y2="1"><stop offset="0.0000" stop-color="#e96c44"/><stop offset="0.0078" stop-color="#e96c44"/><stop offset="0.0101" stop-color="#eaf06a"/><stop offset="0.0168" stop-color="#eaf06a"/><stop offset="0.0191" stop-color="#cdf06a"/><stop offset="0.0303" stop-color="#cdf06a"/><stop offset="0.0325" stop-color="#a8ef68"/><stop offset="0.0975" stop-color="#a8ef68"/><stop offset="0.0998" stop-color="#cdf06a"/><stop offset="0.1424" stop-color="#cdf06a"/><stop offset="0.1446" stop-color="#f8c85c"/><stop offset="0.1469" stop-color="#f8c85c"/><stop offset="0.1491" stop-color="#cdf06a"/><stop offset="0.1783" stop-color="#cdf06a"/><stop offset="0.1805" stop-color="#eaf06a"/><stop offset="0.2141" stop-color="#eaf06a"/><stop offset="0.2164" stop-color="#f8c85c"/><stop offset="0.2231" stop-color="#f8c85c"/><stop offset="0.2253" stop-color="#eaf06a"/><stop offset="0.2321" stop-color="#eaf06a"/><stop offset="0.2343" stop-color="#f8c85c"/><stop offset="0.2410" stop-color="#f8c85c"/><stop offset="0.2433" stop-color="#eaf06a"/><stop offset="0.2769" stop-color="#eaf06a"/><stop offset="0.2791" stop-color="#cdf06a"/><stop offset="0.3038" stop-color="#cdf06a"/><stop offset="0.3061" stop-color="#a8ef68"/><stop offset="0.3128" stop-color="#a8ef68"/><stop offset="0.3150" stop-color="#cdf06a"/><stop offset="0.3397" stop-color="#cdf06a"/><stop offset="0.3419" stop-color="#eaf06a"/><stop offset="0.3442" stop-color="#eaf06a"/><stop offset="0.3464" stop-color="#cdf06a"/><stop offset="0.3576" stop-color="#cdf06a"/><stop offset="0.3599" stop-color="#f8e466"/><stop offset="0.3666" stop-color="#f8e466"/><stop offset="0.3688" stop-color="#e45a3c"/><stop offset="0.3890" stop-color="#e45a3c"/><stop offset="0.3913" stop-color="#f4a652"/><stop offset="0.3980" stop-color="#f4a652"/><stop offset="0.4002" stop-color="#f8e466"/><stop offset="0.4070" stop-color="#f8e466"/><stop offset="0.4092" stop-color="#ef874a"/><stop offset="0.4294" stop-color="#ef874a"/><stop offset="0.4316" stop-color="#f8e466"/><stop offset="0.4428" stop-color="#f8e466"/><stop offset="0.4451" stop-color="#ef874a"/><stop offset="0.4652" stop-color="#ef874a"/><stop offset="0.4675" stop-color="#e96c44"/><stop offset="0.4787" stop-color="#e96c44"/><stop offset="0.4809" stop-color="#f8c85c"/><stop offset="0.4922" stop-color="#f8c85c"/><stop offset="0.4944" stop-color="#f8e466"/><stop offset="0.5370" stop-color="#f8e466"/><stop offset="0.5392" stop-color="#f8c85c"/><stop offset="0.5460" stop-color="#f8c85c"/><stop offset="0.5482" stop-color="#f8e466"/><stop offset="0.5504" stop-color="#f8e466"/><stop offset="0.5527" stop-color="#eaf06a"/><stop offset="0.5549" stop-color="#eaf06a"/><stop offset="0.5572" stop-color="#f8e466"/><stop offset="0.5594" stop-color="#f8e466"/><stop offset="0.5617" stop-color="#f8c85c"/><stop offset="0.5639" stop-color="#f8c85c"/><stop offset="0.5661" stop-color="#f8e466"/><stop offset="0.5684" stop-color="#f8e466"/><stop offset="0.5706" stop-color="#f8c85c"/><stop offset="0.5729" stop-color="#f8c85c"/><stop offset="0.5751" stop-color="#eaf06a"/><stop offset="0.5774" stop-color="#eaf06a"/><stop offset="0.5796" stop-color="#f8c85c"/><stop offset="0.5818" stop-color="#f8c85c"/><stop offset="0.5841" stop-color="#f8e466"/><stop offset="0.5863" stop-color="#f8e466"/><stop offset="0.5886" stop-color="#e96c44"/><stop offset="0.5998" stop-color="#e96c44"/><stop offset="0.6020" stop-color="#f4a652"/><stop offset="0.6087" stop-color="#f4a652"/><stop offset="0.6110" stop-color="#e96c44"/><stop offset="0.6132" stop-color="#e96c44"/><stop offset="0.6155" stop-color="#ef874a"/><stop offset="0.6177" stop-color="#ef874a"/><stop offset="0.6200" stop-color="#f4a652"/><stop offset="0.6222" stop-color="#f4a652"/><stop offset="0.6244" stop-color="#f8c85c"/><stop offset="0.6267" stop-color="#f8c85c"/><stop offset="0.6289" stop-color="#ef874a"/><stop offset="0.6401" stop-color="#ef874a"/><stop offset="0.6424" stop-color="#f4a652"/><stop offset="0.6491" stop-color="#f4a652"/><stop offset="0.6513" stop-color="#f8c85c"/><stop offset="0.6536" stop-color="#f8c85c"/><stop offset="0.6558" stop-color="#f4a652"/><stop offset="0.6626" stop-color="#f4a652"/><stop offset="0.6648" stop-color="#f8c85c"/><stop offset="0.6670" stop-color="#f8c85c"/><stop offset="0.6693" stop-color="#f4a652"/><stop offset="0.6715" stop-color="#f4a652"/><stop offset="0.6738" stop-color="#ef874a"/><stop offset="0.6760" stop-color="#ef874a"/><stop offset="0.6783" stop-color="#f4a652"/><stop offset="0.6850" stop-color="#f4a652"/><stop offset="0.6872" stop-color="#ef874a"/><stop offset="0.6895" stop-color="#ef874a"/><stop offset="0.6917" stop-color="#f4a652"/><stop offset="0.6939" stop-color="#f4a652"/><stop offset="0.6962" stop-color="#e96c44"/><stop offset="0.6984" stop-color="#e96c44"/><stop offset="0.7007" stop-color="#f8c85c"/><stop offset="0.7074" stop-color="#f8c85c"/><stop offset="0.7096" stop-color="#f4a652"/><stop offset="0.7119" stop-color="#f4a652"/><stop offset="0.7141" stop-color="#f8c85c"/><stop offset="0.7164" stop-color="#f8c85c"/><stop offset="0.7186" stop-color="#eaf06a"/><stop offset="0.7253" stop-color="#eaf06a"/><stop offset="0.7276" stop-color="#f8e466"/><stop offset="0.7298" stop-color="#f8e466"/><stop offset="0.7321" stop-color="#f4a652"/><stop offset="0.7343" stop-color="#f4a652"/><stop offset="0.7365" stop-color="#f8e466"/><stop offset="0.7657" stop-color="#f8e466"/><stop offset="0.7679" stop-color="#e96c44"/><stop offset="0.7702" stop-color="#e96c44"/><stop offset="0.7724" stop-color="#e45a3c"/><stop offset="0.7747" stop-color="#e45a3c"/><stop offset="0.7769" stop-color="#e96c44"/><stop offset="0.7791" stop-color="#e96c44"/><stop offset="0.7814" stop-color="#e45a3c"/><stop offset="0.7881" stop-color="#e45a3c"/><stop offset="0.7904" stop-color="#e96c44"/><stop offset="0.7926" stop-color="#e96c44"/><stop offset="0.7948" stop-color="#e45a3c"/><stop offset="0.8061" stop-color="#e45a3c"/><stop offset="0.8083" stop-color="#e96c44"/><stop offset="0.8105" stop-color="#e96c44"/><stop offset="0.8128" stop-color="#e45a3c"/><stop offset="0.8150" stop-color="#e45a3c"/><stop offset="0.8173" stop-color="#e96c44"/><stop offset="0.8195" stop-color="#e96c44"/><stop offset="0.8217" stop-color="#e45a3c"/><stop offset="0.8285" stop-color="#e45a3c"/><stop offset="0.8307" stop-color="#e96c44"/><stop offset="0.8330" stop-color="#e96c44"/><stop offset="0.8352" stop-color="#e45a3c"/><stop offset="0.8419" stop-color="#e45a3c"/><stop offset="0.8442" stop-color="#f8c85c"/><stop offset="0.8509" stop-color="#f8c85c"/><stop offset="0.8531" stop-color="#ef874a"/><stop offset="0.8554" stop-color="#ef874a"/><stop offset="0.8576" stop-color="#e45a3c"/><stop offset="0.8599" stop-color="#e45a3c"/><stop offset="0.8621" stop-color="#e96c44"/><stop offset="0.8778" stop-color="#e96c44"/><stop offset="0.8800" stop-color="#ef874a"/><stop offset="0.8823" stop-color="#ef874a"/><stop offset="0.8845" stop-color="#e45a3c"/><stop offset="0.8913" stop-color="#e45a3c"/><stop offset="0.8935" stop-color="#ef874a"/><stop offset="0.8957" stop-color="#ef874a"/><stop offset="0.8980" stop-color="#e96c44"/><stop offset="0.9002" stop-color="#e96c44"/><stop offset="0.9025" stop-color="#ef874a"/><stop offset="0.9092" stop-color="#ef874a"/><stop offset="0.9114" stop-color="#e45a3c"/><stop offset="0.9137" stop-color="#e45a3c"/><stop offset="0.9159" stop-color="#e96c44"/><stop offset="0.9316" stop-color="#e96c44"/><stop offset="0.9339" stop-color="#ef874a"/><stop offset="0.9361" stop-color="#ef874a"/><stop offset="0.9383" stop-color="#e45a3c"/><stop offset="0.9451" stop-color="#e45a3c"/><stop offset="0.9473" stop-color="#ef874a"/><stop offset="0.9496" stop-color="#ef874a"/><stop offset="0.9518" stop-color="#e96c44"/><stop offset="0.9540" stop-color="#e96c44"/><stop offset="0.9563" stop-color="#ef874a"/><stop offset="0.9585" stop-color="#ef874a"/><stop offset="0.9608" stop-color="#e96c44"/><stop offset="0.9675" stop-color="#e96c44"/><stop offset="0.9697" stop-color="#ef874a"/><stop offset="0.9720" stop-color="#ef874a"/><stop offset="0.9742" stop-color="#e96c44"/><stop offset="0.9809" stop-color="#e96c44"/><stop offset="0.9832" stop-color="#ef874a"/><stop offset="1.0000" stop-color="#ef874a"/></linearGradient>
<linearGradient id="c15" x1="0" y1="0" x2="0" y2="1"><stop offset="0.0000" stop-color="#f8c85c"/><stop offset="0.0078" stop-color="#f8c85c"/><stop offset="0.0101" stop-color="#eaf06a"/><stop offset="0.0168" stop-color="#eaf06a"/><stop offset="0.0191" stop-color="#cdf06a"/><stop offset="0.0303" stop-color="#cdf06a"/><stop offset="0.0325" stop-color="#a8ef68"/><stop offset="0.0975" stop-color="#a8ef68"/><stop offset="0.0998" stop-color="#cdf06a"/><stop offset="0.1424" stop-color="#cdf06a"/><stop offset="0.1446" stop-color="#f8e466"/><stop offset="0.1469" stop-color="#f8e466"/><stop offset="0.1491" stop-color="#cdf06a"/><stop offset="0.1783" stop-color="#cdf06a"/><stop offset="0.1805" stop-color="#eaf06a"/><stop offset="0.1827" stop-color="#eaf06a"/><stop offset="0.1850" stop-color="#f8e466"/><stop offset="0.1962" stop-color="#f8e466"/><stop offset="0.1984" stop-color="#eaf06a"/><stop offset="0.2321" stop-color="#eaf06a"/><stop offset="0.2343" stop-color="#f8c85c"/><stop offset="0.2410" stop-color="#f8c85c"/><stop offset="0.2433" stop-color="#eaf06a"/><stop offset="0.2590" stop-color="#eaf06a"/><stop offset="0.2612" stop-color="#f8c85c"/><stop offset="0.2635" stop-color="#f8c85c"/><stop offset="0.2657" stop-color="#eaf06a"/><stop offset="0.2769" stop-color="#eaf06a"/><stop offset="0.2791" stop-color="#cdf06a"/><stop offset="0.3038" stop-color="#cdf06a"/><stop offset="0.3061" stop-color="#a8ef68"/><stop offset="0.3128" stop-color="#a8ef68"/><stop offset="0.3150" stop-color="#cdf06a"/><stop offset="0.3173" stop-color="#cdf06a"/><stop offset="0.3195" stop-color="#f4a652"/><stop offset="0.3217" stop-color="#f4a652"/><stop offset="0.3240" stop-color="#cdf06a"/><stop offset="0.3262" stop-color="#cdf06a"/><stop offset="0.3285" stop-color="#f8c85c"/><stop offset="0.3307" stop-color="#f8c85c"/><stop offset="0.3330" stop-color="#cdf06a"/><stop offset="0.3442" stop-color="#cdf06a"/><stop offset="0.3464" stop-color="#eaf06a"/><stop offset="0.3576" stop-color="#eaf06a"/><stop offset="0.3599" stop-color="#f8e466"/><stop offset="0.3666" stop-color="#f8e466"/><stop offset="0.3688" stop-color="#e96c44"/><stop offset="0.3890" stop-color="#e96c44"/><stop offset="0.3913" stop-color="#f4a652"/><stop offset="0.3980" stop-color="#f4a652"/><stop offset="0.4002" stop-color="#f8e466"/><stop offset="0.4070" stop-color="#f8e466"/><stop offset="0.4092" stop-color="#eaf06a"/><stop offset="0.4204" stop-color="#eaf06a"/><stop offset="0.4226" stop-color="#f8c85c"/><stop offset="0.4294" stop-color="#f8c85c"/><stop offset="0.4316" stop-color="#eaf06a"/><stop offset="0.4428" stop-color="#eaf06a"/><stop offset="0.4451" stop-color="#f8c85c"/><stop offset="0.4652" stop-color="#f8c85c"/><stop offset="0.4675" stop-color="#ef874a"/><stop offset="0.4787" stop-color="#ef874a"/><stop offset="0.4809" stop-color="#f8c85c"/><stop offset="0.4922" stop-color="#f8c85c"/><stop offset="0.4944" stop-color="#f4a652"/><stop offset="0.5056" stop-color="#f4a652"/><stop offset="0.5078" stop-color="#ef874a"/><stop offset="0.5191" stop-color="#ef874a"/><stop offset="0.5213" stop-color="#f8e466"/><stop offset="0.5370" stop-color="#f8e466"/><stop offset="0.5392" stop-color="#f4a652"/><stop offset="0.5460" stop-color="#f4a652"/><stop offset="0.5482" stop-color="#f8c85c"/><stop offset="0.5549" stop-color="#f8c85c"/><stop offset="0.5572" stop-color="#f8e466"/><stop offset="0.5594" stop-color="#f8e466"/><stop offset="0.5617" stop-color="#f4a652"/><stop offset="0.5639" stop-color="#f4a652"/><stop offset="0.5661" stop-color="#f8c85c"/><stop offset="0.5684" stop-color="#f8c85c"/><stop offset="0.5706" stop-color="#f4a652"/><stop offset="0.5729" stop-color="#f4a652"/><stop offset="0.5751" stop-color="#f8e466"/><stop offset="0.5774" stop-color="#f8e466"/><stop offset="0.5796" stop-color="#f8c85c"/><stop offset="0.5863" stop-color="#f8c85c"/><stop offset="0.5886" stop-color="#ef874a"/><stop offset="0.5908" stop-color="#ef874a"/><stop offset="0.5930" stop-color="#e96c44"/><stop offset="0.5998" stop-color="#e96c44"/><stop offset="0.6020" stop-color="#ef874a"/><stop offset="0.6087" stop-color="#ef874a"/><stop offset="0.6110" stop-color="#e45a3c"/><stop offset="0.6132" stop-color="#e45a3c"/><stop offset="0.6155" stop-color="#e96c44"/><stop offset="0.6177" stop-color="#e96c44"/><stop offset="0.6200" stop-color="#ef874a"/><stop offset="0.6222" stop-color="#ef874a"/><stop offset="0.6244" stop-color="#f8c85c"/><stop offset="0.6267" stop-color="#f8c85c"/><stop offset="0.6289" stop-color="#e96c44"/><stop offset="0.6312" stop-color="#e96c44"/><stop offset="0.6334" stop-color="#f8c85c"/><stop offset="0.6401" stop-color="#f8c85c"/><stop offset="0.6424" stop-color="#f8e466"/><stop offset="0.6491" stop-color="#f8e466"/><stop offset="0.6513" stop-color="#f8c85c"/><stop offset="0.6536" stop-color="#f8c85c"/><stop offset="0.6558" stop-color="#ef874a"/><stop offset="0.6581" stop-color="#ef874a"/><stop offset="0.6603" stop-color="#f4a652"/><stop offset="0.6626" stop-color="#f4a652"/><stop offset="0.6648" stop-color="#f8c85c"/><stop offset="0.6715" stop-color="#f8c85c"/><stop offset="0.6738" stop-color="#f4a652"/><stop offset="0.6760" stop-color="#f4a652"/><stop offset="0.6783" stop-color="#f8c85c"/><stop offset="0.6805" stop-color="#f8c85c"/><stop offset="0.6827" stop-color="#f8e466"/><stop offset="0.6850" stop-color="#f8e466"/><stop offset="0.6872" stop-color="#e96c44"/><stop offset="0.6939" stop-color="#e96c44"/><stop offset="0.6962" stop-color="#e45a3c"/><stop offset="0.6984" stop-color="#e45a3c"/><stop offset="0.7007" stop-color="#ef874a"/><stop offset="0.7074" stop-color="#ef874a"/><stop offset="0.7096" stop-color="#e96c44"/><stop offset="0.7119" stop-color="#e96c44"/><stop offset="0.7141" stop-color="#f4a652"/><stop offset="0.7164" stop-color="#f4a652"/><stop offset="0.7186" stop-color="#f8e466"/><stop offset="0.7253" stop-color="#f8e466"/><stop offset="0.7276" stop-color="#f8c85c"/><stop offset="0.7343" stop-color="#f8c85c"/><stop offset="0.7365" stop-color="#f8e466"/><stop offset="0.7433" stop-color="#f8e466"/><stop offset="0.7455" stop-color="#f8c85c"/><stop offset="0.7657" stop-color="#f8c85c"/><stop offset="0.7679" stop-color="#e96c44"/><stop offset="0.7702" stop-color="#e96c44"/><stop offset="0.7724" stop-color="#e45a3c"/><stop offset="0.7747" stop-color="#e45a3c"/><stop offset="0.7769" stop-color="#e96c44"/><stop offset="0.7791" stop-color="#e96c44"/><stop offset="0.7814" stop-color="#e45a3c"/><stop offset="0.7881" stop-color="#e45a3c"/><stop offset="0.7904" stop-color="#e96c44"/><stop offset="0.7926" stop-color="#e96c44"/><stop offset="0.7948" stop-color="#e45a3c"/><stop offset="0.8061" stop-color="#e45a3c"/><stop offset="0.8083" stop-color="#e96c44"/><stop offset="0.8105" stop-color="#e96c44"/><stop offset="0.8128" stop-color="#e45a3c"/><stop offset="0.8150" stop-color="#e45a3c"/><stop offset="0.8173" stop-color="#e96c44"/><stop offset="0.8240" stop-color="#e96c44"/><stop offset="0.8262" stop-color="#e45a3c"/><stop offset="0.8285" stop-color="#e45a3c"/><stop offset="0.8307" stop-color="#e96c44"/><stop offset="0.8330" stop-color="#e96c44"/><stop offset="0.8352" stop-color="#e45a3c"/><stop offset="0.8419" stop-color="#e45a3c"/><stop offset="0.8442" stop-color="#e96c44"/><stop offset="0.8554" stop-color="#e96c44"/><stop offset="0.8576" stop-color="#f4a652"/><stop offset="0.8599" stop-color="#f4a652"/><stop offset="0.8621" stop-color="#ef874a"/><stop offset="0.8688" stop-color="#ef874a"/><stop offset="0.8711" stop-color="#f4a652"/><stop offset="0.8733" stop-color="#f4a652"/><stop offset="0.8756" stop-color="#ef874a"/><stop offset="0.8778" stop-color="#ef874a"/><stop offset="0.8800" stop-color="#e96c44"/><stop offset="0.8823" stop-color="#e96c44"/><stop offset="0.8845" stop-color="#ef874a"/><stop offset="0.9092" stop-color="#ef874a"/><stop offset="0.9114" stop-color="#f4a652"/><stop offset="0.9137" stop-color="#f4a652"/><stop offset="0.9159" stop-color="#ef874a"/><stop offset="0.9226" stop-color="#ef874a"/><stop offset="0.9249" stop-color="#f8c85c"/><stop offset="0.9271" stop-color="#f8c85c"/><stop offset="0.9294" stop-color="#ef874a"/><stop offset="0.9451" stop-color="#ef874a"/><stop offset="0.9473" stop-color="#e96c44"/><stop offset="0.9540" stop-color="#e96c44"/><stop offset="0.9563" stop-color="#f4a652"/><stop offset="0.9630" stop-color="#f4a652"/><stop offset="0.9652" stop-color="#e96c44"/><stop offset="0.9675" stop-color="#e96c44"/><stop offset="0.9697" stop-color="#f4a652"/><stop offset="0.9720" stop-color="#f4a652"/><stop offset="0.9742" stop-color="#ef874a"/><stop offset="0.9765" stop-color="#ef874a"/><stop offset="0.9787" stop-color="#f4a652"/><stop offset="0.9809" stop-color="#f4a652"/><stop offset="0.9832" stop-color="#f8c85c"/><stop offset="1.0000" stop-color="#f8c85c"/></linearGradient>
<linearGradient id="c16" x1="0" y1="0" x2="0" y2="1"><stop offset="0.0000" stop-color="#f8e466"/><stop offset="0.0078" stop-color="#f8e466"/><stop offset="0.0101" stop-color="#eaf06a"/><stop offset="0.0168" stop-color="#eaf06a"/><stop offset="0.0191" stop-color="#cdf06a"/><stop offset="0.0303" stop-color="#cdf06a"/><stop offset="0.0325" stop-color="#a8ef68"/><stop offset="0.0975" stop-color="#a8ef68"/><stop offset="0.0998" stop-color="#cdf06a"/><stop offset="0.1424" stop-color="#cdf06a"/><stop offset="0.1446" stop-color="#f8e466"/><stop offset="0.1469" stop-color="#f8e466"/><stop offset="0.1491" stop-color="#cdf06a"/><stop offset="0.1783" stop-color="#cdf06a"/><stop offset="0.1805" stop-color="#eaf06a"/><stop offset="0.2321" stop-color="#eaf06a"/><stop offset="0.2343" stop-color="#f8c85c"/><stop offset="0.2410" stop-color="#f8c85c"/><stop offset="0.2433" stop-color="#eaf06a"/><stop offset="0.2769" stop-color="#eaf06a"/><stop offset="0.2791" stop-color="#cdf06a"/><stop offset="0.3038" stop-color="#cdf06a"/><stop offset="0.3061" stop-color="#a8ef68"/><stop offset="0.3128" stop-color="#a8ef68"/><stop offset="0.3150" stop-color="#cdf06a"/><stop offset="0.3442" stop-color="#cdf06a"/><stop offset="0.3464" stop-color="#eaf06a"/><stop offset="0.3576" stop-color="#eaf06a"/><stop offset="0.3599" stop-color="#f8e466"/><stop offset="0.3666" stop-color="#f8e466"/><stop offset="0.3688" stop-color="#e96c44"/><stop offset="0.3890" stop-color="#e96c44"/><stop offset="0.3913" stop-color="#f4a652"/><stop offset="0.3980" stop-color="#f4a652"/><stop offset="0.4002" stop-color="#f8e466"/><stop offset="0.4563" stop-color="#f8e466"/><stop offset="0.4585" stop-color="#f8c85c"/><stop offset="0.4787" stop-color="#f8c85c"/><stop offset="0.4809" stop-color="#eaf06a"/><stop offset="0.4922" stop-color="#eaf06a"/><stop offset="0.4944" stop-color="#f8e466"/><stop offset="0.5415" stop-color="#f8e466"/><stop offset="0.5437" stop-color="#f8c85c"/><stop offset="0.5460" stop-color="#f8c85c"/><stop offset="0.5482" stop-color="#eaf06a"/><stop offset="0.5504" stop-color="#eaf06a"/><stop offset="0.5527" stop-color="#cdf06a"/><stop offset="0.5549" stop-color="#cdf06a"/><stop offset="0.5572" stop-color="#eaf06a"/><stop offset="0.5594" stop-color="#eaf06a"/><stop offset="0.5617" stop-color="#f8e466"/><stop offset="0.5639" stop-color="#f8e466"/><stop offset="0.5661" stop-color="#eaf06a"/><stop offset="0.5684" stop-color="#eaf06a"/><stop offset="0.5706" stop-color="#f4a652"/><stop offset="0.5729" stop-color="#f4a652"/><stop offset="0.5751" stop-color="#eaf06a"/><stop offset="0.5774" stop-color="#eaf06a"/><stop offset="0.5796" stop-color="#f8c85c"/><stop offset="0.5818" stop-color="#f8c85c"/><stop offset="0.5841" stop-color="#eaf06a"/><stop offset="0.5863" stop-color="#eaf06a"/><stop offset="0.5886" stop-color="#f4a652"/><stop offset="0.5953" stop-color="#f4a652"/><stop offset="0.5975" stop-color="#ef874a"/><stop offset="0.5998" stop-color="#ef874a"/><stop offset="0.6020" stop-color="#f4a652"/><stop offset="0.6087" stop-color="#f4a652"/><stop offset="0.6110" stop-color="#e96c44"/><stop offset="0.6132" stop-color="#e96c44"/><stop offset="0.6155" stop-color="#f4a652"/><stop offset="0.6177" stop-color="#f4a652"/><stop offset="0.6200" stop-color="#f8c85c"/><stop offset="0.6222" stop-color="#f8c85c"/><stop offset="0.6244" stop-color="#f8e466"/><stop offset="0.6267" stop-color="#f8e466"/><stop offset="0.6289" stop-color="#f4a652"/><stop offset="0.6312" stop-color="#f4a652"/><stop offset="0.6334" stop-color="#f8c85c"/><stop offset="0.6401" stop-color="#f8c85c"/><stop offset="0.6424" stop-color="#f8e466"/><stop offset="0.6491" stop-color="#f8e466"/><stop offset="0.6513" stop-color="#f8c85c"/><stop offset="0.6536" stop-color="#f8c85c"/><stop offset="0.6558" stop-color="#ef874a"/><stop offset="0.6581" stop-color="#ef874a"/><stop offset="0.6603" stop-color="#f4a652"/><stop offset="0.6626" stop-color="#f4a652"/><stop offset="0.6648" stop-color="#f8c85c"/><stop offset="0.6670" stop-color="#f8c85c"/><stop offset="0.6693" stop-color="#f4a652"/><stop offset="0.6715" stop-color="#f4a652"/><stop offset="0.6738" stop-color="#ef874a"/><stop offset="0.6760" stop-color="#ef874a"/><stop offset="0.6783" stop-color="#f8c85c"/><stop offset="0.6850" stop-color="#f8c85c"/><stop offset="0.6872" stop-color="#ef874a"/><stop offset="0.6895" stop-color="#ef874a"/><stop offset="0.6917" stop-color="#f4a652"/><stop offset="0.6939" stop-color="#f4a652"/><stop offset="0.6962" stop-color="#e96c44"/><stop offset="0.6984" stop-color="#e96c44"/><stop offset="0.7007" stop-color="#f8c85c"/><stop offset="0.7029" stop-color="#f8c85c"/><stop offset="0.7052" stop-color="#f8e466"/><stop offset="0.7074" stop-color="#f8e466"/><stop offset="0.7096" stop-color="#f8c85c"/><stop offset="0.7119" stop-color="#f8c85c"/><stop offset="0.7141" stop-color="#f8e466"/><stop offset="0.7164" stop-color="#f8e466"/><stop offset="0.7186" stop-color="#cdf06a"/><stop offset="0.7253" stop-color="#cdf06a"/><stop offset="0.7276" stop-color="#f8c85c"/><stop offset="0.7343" stop-color="#f8c85c"/><stop offset="0.7365" stop-color="#f8e466"/><stop offset="0.7433" stop-color="#f8e466"/><stop offset="0.7455" stop-color="#f8c85c"/><stop offset="0.7657" stop-color="#f8c85c"/><stop offset="0.7679" stop-color="#e96c44"/><stop offset="0.7702" stop-color="#e96c44"/><stop offset="0.7724" stop-color="#e45a3c"/><stop offset="0.7747" stop-color="#e45a3c"/><stop offset="0.7769" stop-color="#e96c44"/><stop offset="0.7791" stop-color="#e96c44"/><stop offset="0.7814" stop-color="#e45a3c"/><stop offset="0.7881" stop-color="#e45a3c"/><stop offset="0.7904" stop-color="#e96c44"/><stop offset="0.7971" stop-color="#e96c44"/><stop offset="0.7993" stop-color="#e45a3c"/><stop offset="0.8061" stop-color="#e45a3c"/><stop offset="0.8083" stop-color="#e96c44"/><stop offset="0.8105" stop-color="#e96c44"/><stop offset="0.8128" stop-color="#e45a3c"/><stop offset="0.8150" stop-color="#e45a3c"/><stop offset="0.8173" stop-color="#e96c44"/><stop offset="0.8195" stop-color="#e96c44"/><stop offset="0.8217" stop-color="#e45a3c"/><stop offset="0.8285" stop-color="#e45a3c"/><stop offset="0.8307" stop-color="#e96c44"/><stop offset="0.8330" stop-color="#e96c44"/><stop offset="0.8352" stop-color="#e45a3c"/><stop offset="0.8419" stop-color="#e45a3c"/><stop offset="0.8442" stop-color="#e96c44"/><stop offset="0.8509" stop-color="#e96c44"/><stop offset="0.8531" stop-color="#ef874a"/><stop offset="0.8554" stop-color="#ef874a"/><stop offset="0.8576" stop-color="#f8c85c"/><stop offset="0.8599" stop-color="#f8c85c"/><stop offset="0.8621" stop-color="#e96c44"/><stop offset="0.8643" stop-color="#e96c44"/><stop offset="0.8666" stop-color="#f4a652"/><stop offset="0.8733" stop-color="#f4a652"/><stop offset="0.8756" stop-color="#ef874a"/><stop offset="0.8778" stop-color="#ef874a"/><stop offset="0.8800" stop-color="#e45a3c"/><stop offset="0.8823" stop-color="#e45a3c"/><stop offset="0.8845" stop-color="#ef874a"/><stop offset="0.8957" stop-color="#ef874a"/><stop offset="0.8980" stop-color="#f4a652"/><stop offset="0.9002" stop-color="#f4a652"/><stop offset="0.9025" stop-color="#ef874a"/><stop offset="0.9092" stop-color="#ef874a"/><stop offset="0.9114" stop-color="#f8c85c"/><stop offset="0.9137" stop-color="#f8c85c"/><stop offset="0.9159" stop-color="#ef874a"/><stop offset="0.9226" stop-color="#ef874a"/><stop offset="0.9249" stop-color="#f4a652"/><stop offset="0.9271" stop-color="#f4a652"/><stop offset="0.9294" stop-color="#ef874a"/><stop offset="0.9451" stop-color="#ef874a"/><stop offset="0.9473" stop-color="#e96c44"/><stop offset="0.9496" stop-color="#e96c44"/><stop offset="0.9518" stop-color="#ef874a"/><stop offset="0.9540" stop-color="#ef874a"/><stop offset="0.9563" stop-color="#f4a652"/><stop offset="0.9630" stop-color="#f4a652"/><stop offset="0.9652" stop-color="#e45a3c"/><stop offset="0.9675" stop-color="#e45a3c"/><stop offset="0.9697" stop-color="#f8c85c"/><stop offset="0.9720" stop-color="#f8c85c"/><stop offset="0.9742" stop-color="#ef874a"/><stop offset="0.9765" stop-color="#ef874a"/><stop offset="0.9787" stop-color="#f4a652"/><stop offset="0.9809" stop-color="#f4a652"/><stop offset="0.9832" stop-color="#f8c85c"/><stop offset="1.0000" stop-color="#f8c85c"/></linearGradient>
<linearGradient id="c17" x1="0" y1="0" x2="0" y2="1"><stop offset="0.0000" stop-color="#f4a652"/><stop offset="0.0078" stop-color="#f4a652"/><stop offset="0.0101" stop-color="#eaf06a"/><stop offset="0.0168" stop-color="#eaf06a"/><stop offset="0.0191" stop-color="#cdf06a"/><stop offset="0.0303" stop-color="#cdf06a"/><stop offset="0.0325" stop-color="#a8ef68"/><stop offset="0.0975" stop-color="#a8ef68"/><stop offset="0.0998" stop-color="#cdf06a"/><stop offset="0.1424" stop-color="#cdf06a"/><stop offset="0.1446" stop-color="#eaf06a"/><stop offset="0.1469" stop-color="#eaf06a"/><stop offset="0.1491" stop-color="#cdf06a"/><stop offset="0.1783" stop-color="#cdf06a"/><stop offset="0.1805" stop-color="#eaf06a"/><stop offset="0.2321" stop-color="#eaf06a"/><stop offset="0.2343" stop-color="#f8e466"/><stop offset="0.2410" stop-color="#f8e466"/><stop offset="0.2433" stop-color="#eaf06a"/><stop offset="0.2769" stop-color="#eaf06a"/><stop offset="0.2791" stop-color="#cdf06a"/><stop offset="0.3038" stop-color="#cdf06a"/><stop offset="0.3061" stop-color="#a8ef68"/><stop offset="0.3128" stop-color="#a8ef68"/><stop offset="0.3150" stop-color="#cdf06a"/><stop offset="0.3442" stop-color="#cdf06a"/><stop offset="0.3464" stop-color="#eaf06a"/><stop offset="0.3576" stop-color="#eaf06a"/><stop offset="0.3599" stop-color="#f8e466"/><stop offset="0.3666" stop-color="#f8e466"/><stop offset="0.3688" stop-color="#e96c44"/><stop offset="0.3890" stop-color="#e96c44"/><stop offset="0.3913" stop-color="#f4a652"/><stop offset="0.3980" stop-color="#f4a652"/><stop offset="0.4002" stop-color="#f8e466"/><stop offset="0.4070" stop-color="#f8e466"/><stop offset="0.4092" stop-color="#f8c85c"/><stop offset="0.4204" stop-color="#f8c85c"/><stop offset="0.4226" stop-color="#ef874a"/><stop offset="0.4294" stop-color="#ef874a"/><stop offset="0.4316" stop-color="#f8e466"/><stop offset="0.4428" stop-color="#f8e466"/><stop offset="0.4451" stop-color="#ef874a"/><stop offset="0.4563" stop-color="#ef874a"/><stop offset="0.4585" stop-color="#f8c85c"/><stop offset="0.4652" stop-color="#f8c85c"/><stop offset="0.4675" stop-color="#e96c44"/><stop offset="0.4787" stop-color="#e96c44"/><stop offset="0.4809" stop-color="#f8e466"/><stop offset="0.5370" stop-color="#f8e466"/><stop offset="0.5392" stop-color="#f8c85c"/><stop offset="0.5460" stop-color="#f8c85c"/><stop offset="0.5482" stop-color="#f8e466"/><stop offset="0.5504" stop-color="#f8e466"/><stop offset="0.5527" stop-color="#eaf06a"/><stop offset="0.5549" stop-color="#eaf06a"/><stop offset="0.5572" stop-color="#f8e466"/><stop offset="0.5594" stop-color="#f8e466"/><stop offset="0.5617" stop-color="#f8c85c"/><stop offset="0.5639" stop-color="#f8c85c"/><stop offset="0.5661" stop-color="#f8e466"/><stop offset="0.5684" stop-color="#f8e466"/><stop offset="0.5706" stop-color="#f4a652"/><stop offset="0.5729" stop-color="#f4a652"/><stop offset="0.5751" stop-color="#f8e466"/><stop offset="0.5863" stop-color="#f8e466"/><stop offset="0.5886" stop-color="#f4a652"/><stop offset="0.5908" stop-color="#f4a652"/><stop offset="0.5930" stop-color="#ef874a"/><stop offset="0.5998" stop-color="#ef874a"/><stop offset="0.6020" stop-color="#f4a652"/><stop offset="0.6087" stop-color="#f4a652"/><stop offset="0.6110" stop-color="#e96c44"/><stop offset="0.6132" stop-color="#e96c44"/><stop offset="0.6155" stop-color="#ef874a"/><stop offset="0.6177" stop-color="#ef874a"/><stop offset="0.6200" stop-color="#f4a652"/><stop offset="0.6222" stop-color="#f4a652"/><stop offset="0.6244" stop-color="#f8c85c"/><stop offset="0.6267" stop-color="#f8c85c"/><stop offset="0.6289" stop-color="#ef874a"/><stop offset="0.6312" stop-color="#ef874a"/><stop offset="0.6334" stop-color="#f8e466"/><stop offset="0.6357" stop-color="#f8e466"/><stop offset="0.6379" stop-color="#f8c85c"/><stop offset="0.6401" stop-color="#f8c85c"/><stop offset="0.6424" stop-color="#eaf06a"/><stop offset="0.6491" stop-color="#eaf06a"/><stop offset="0.6513" stop-color="#f8c85c"/><stop offset="0.6536" stop-color="#f8c85c"/><stop offset="0.6558" stop-color="#f4a652"/><stop offset="0.6626" stop-color="#f4a652"/><stop offset="0.6648" stop-color="#f8c85c"/><stop offset="0.6715" stop-color="#f8c85c"/><stop offset="0.6738" stop-color="#f4a652"/><stop offset="0.6760" stop-color="#f4a652"/><stop offset="0.6783" stop-color="#f8c85c"/><stop offset="0.6805" stop-color="#f8c85c"/><stop offset="0.6827" stop-color="#f8e466"/><stop offset="0.6850" stop-color="#f8e466"/><stop offset="0.6872" stop-color="#f8c85c"/><stop offset="0.6895" stop-color="#f8c85c"/><stop offset="0.6917" stop-color="#f8e466"/><stop offset="0.6939" stop-color="#f8e466"/><stop offset="0.6962" stop-color="#f4a652"/><stop offset="0.6984" stop-color="#f4a652"/><stop offset="0.7007" stop-color="#f8e466"/><stop offset="0.7074" stop-color="#f8e466"/><stop offset="0.7096" stop-color="#f8c85c"/><stop offset="0.7164" stop-color="#f8c85c"/><stop offset="0.7186" stop-color="#eaf06a"/><stop offset="0.7253" stop-color="#eaf06a"/><stop offset="0.7276" stop-color="#f8e466"/><stop offset="0.7298" stop-color="#f8e466"/><stop offset="0.7321" stop-color="#f8c85c"/><stop offset="0.7343" stop-color="#f8c85c"/><stop offset="0.7365" stop-color="#f8e466"/><stop offset="0.7433" stop-color="#f8e466"/><stop offset="0.7455" stop-color="#f8c85c"/><stop offset="0.7657" stop-color="#f8c85c"/><stop offset="0.7679" stop-color="#e96c44"/><stop offset="0.7791" stop-color="#e96c44"/><stop offset="0.7814" stop-color="#e45a3c"/><stop offset="0.7881" stop-color="#e45a3c"/><stop offset="0.7904" stop-color="#e96c44"/><stop offset="0.7926" stop-color="#e96c44"/><stop offset="0.7948" stop-color="#e45a3c"/><stop offset="0.8061" stop-color="#e45a3c"/><stop offset="0.8083" stop-color="#e96c44"/><stop offset="0.8105" stop-color="#e96c44"/><stop offset="0.8128" stop-color="#e45a3c"/><stop offset="0.8150" stop-color="#e45a3c"/><stop offset="0.8173" stop-color="#ef874a"/><stop offset="0.8195" stop-color="#ef874a"/><stop offset="0.8217" stop-color="#e45a3c"/><stop offset="0.8285" stop-color="#e45a3c"/><stop offset="0.8307" stop-color="#e96c44"/><stop offset="0.8330" stop-color="#e96c44"/><stop offset="0.8352" stop-color="#e45a3c"/><stop offset="0.8419" stop-color="#e45a3c"/><stop offset="0.8442" stop-color="#e96c44"/><stop offset="0.8509" stop-color="#e96c44"/><stop offset="0.8531" stop-color="#ef874a"/><stop offset="0.8554" stop-color="#ef874a"/><stop offset="0.8576" stop-color="#f4a652"/><stop offset="0.8599" stop-color="#f4a652"/><stop offset="0.8621" stop-color="#ef874a"/><stop offset="0.8643" stop-color="#ef874a"/><stop offset="0.8666" stop-color="#f4a652"/><stop offset="0.8733" stop-color="#f4a652"/><stop offset="0.8756" stop-color="#ef874a"/><stop offset="0.8778" stop-color="#ef874a"/><stop offset="0.8800" stop-color="#e96c44"/><stop offset="0.8868" stop-color="#e96c44"/><stop offset="0.8890" stop-color="#ef874a"/><stop offset="0.8957" stop-color="#ef874a"/><stop offset="0.8980" stop-color="#f4a652"/><stop offset="0.9002" stop-color="#f4a652"/><stop offset="0.9025" stop-color="#ef874a"/><stop offset="0.9092" stop-color="#ef874a"/><stop offset="0.9114" stop-color="#f4a652"/><stop offset="0.9137" stop-color="#f4a652"/><stop offset="0.9159" stop-color="#ef874a"/><stop offset="0.9226" stop-color="#ef874a"/><stop offset="0.9249" stop-color="#f4a652"/><stop offset="0.9271" stop-color="#f4a652"/><stop offset="0.9294" stop-color="#ef874a"/><stop offset="0.9316" stop-color="#ef874a"/><stop offset="0.9339" stop-color="#e96c44"/><stop offset="0.9361" stop-color="#e96c44"/><stop offset="0.9383" stop-color="#ef874a"/><stop offset="0.9540" stop-color="#ef874a"/><stop offset="0.9563" stop-color="#f4a652"/><stop offset="0.9630" stop-color="#f4a652"/><stop offset="0.9652" stop-color="#e96c44"/><stop offset="0.9675" stop-color="#e96c44"/><stop offset="0.9697" stop-color="#f4a652"/><stop offset="0.9720" stop-color="#f4a652"/><stop offset="0.9742" stop-color="#e96c44"/><stop offset="0.9765" stop-color="#e96c44"/><stop offset="0.9787" stop-color="#f4a652"/><stop offset="0.9809" stop-color="#f4a652"/><stop offset="0.9832" stop-color="#f8c85c"/><stop offset="1.0000" stop-color="#f8c85c"/></linearGradient>
<linearGradient id="c18" x1="0" y1="0" x2="0" y2="1"><stop offset="0.0000" stop-color="#f8c85c"/><stop offset="0.0078" stop-color="#f8c85c"/><stop offset="0.0101" stop-color="#f8e466"/><stop offset="0.0168" stop-color="#f8e466"/><stop offset="0.0191" stop-color="#cdf06a"/><stop offset="0.0437" stop-color="#cdf06a"/><stop offset="0.0460" stop-color="#a8ef68"/><stop offset="0.1065" stop-color="#a8ef68"/><stop offset="0.1087" stop-color="#cdf06a"/><stop offset="0.1424" stop-color="#cdf06a"/><stop offset="0.1446" stop-color="#eaf06a"/><stop offset="0.1469" stop-color="#eaf06a"/><stop offset="0.1491" stop-color="#cdf06a"/><stop offset="0.1783" stop-color="#cdf06a"/><stop offset="0.1805" stop-color="#eaf06a"/><stop offset="0.2141" stop-color="#eaf06a"/><stop offset="0.2164" stop-color="#f8e466"/><stop offset="0.2410" stop-color="#f8e466"/><stop offset="0.2433" stop-color="#eaf06a"/><stop offset="0.2859" stop-color="#eaf06a"/><stop offset="0.2881" stop-color="#cdf06a"/><stop offset="0.3576" stop-color="#cdf06a"/><stop offset="0.3599" stop-color="#f8c85c"/><stop offset="0.3666" stop-color="#f8c85c"/><stop offset="0.3688" stop-color="#e96c44"/><stop offset="0.3845" stop-color="#e96c44"/><stop offset="0.3868" stop-color="#f8c85c"/><stop offset="0.3980" stop-color="#f8c85c"/><stop offset="0.4002" stop-color="#f4a652"/><stop offset="0.4294" stop-color="#f4a652"/><stop offset="0.4316" stop-color="#f8c85c"/><stop offset="0.4428" stop-color="#f8c85c"/><stop offset="0.4451" stop-color="#f4a652"/><stop offset="0.4563" stop-color="#f4a652"/><stop offset="0.4585" stop-color="#f8c85c"/><stop offset="0.4652" stop-color="#f8c85c"/><stop offset="0.4675" stop-color="#e96c44"/><stop offset="0.4787" stop-color="#e96c44"/><stop offset="0.4809" stop-color="#f8e466"/><stop offset="0.4922" stop-color="#f8e466"/><stop offset="0.4944" stop-color="#f8c85c"/><stop offset="0.5191" stop-color="#f8c85c"/><stop offset="0.5213" stop-color="#f8e466"/><stop offset="0.5370" stop-color="#f8e466"/><stop offset="0.5392" stop-color="#f8c85c"/><stop offset="0.5460" stop-color="#f8c85c"/><stop offset="0.5482" stop-color="#f8e466"/><stop offset="0.5504" stop-color="#f8e466"/><stop offset="0.5527" stop-color="#eaf06a"/><stop offset="0.5549" stop-color="#eaf06a"/><stop offset="0.5572" stop-color="#f8e466"/><stop offset="0.5594" stop-color="#f8e466"/><stop offset="0.5617" stop-color="#f8c85c"/><stop offset="0.5639" stop-color="#f8c85c"/><stop offset="0.5661" stop-color="#f8e466"/><stop offset="0.5684" stop-color="#f8e466"/><stop offset="0.5706" stop-color="#f8c85c"/><stop offset="0.5729" stop-color="#f8c85c"/><stop offset="0.5751" stop-color="#f8e466"/><stop offset="0.5774" stop-color="#f8e466"/><stop offset="0.5796" stop-color="#f8c85c"/><stop offset="0.5818" stop-color="#f8c85c"/><stop offset="0.5841" stop-color="#f4a652"/><stop offset="0.5908" stop-color="#f4a652"/><stop offset="0.5930" stop-color="#ef874a"/><stop offset="0.5998" stop-color="#ef874a"/><stop offset="0.6020" stop-color="#f4a652"/><stop offset="0.6087" stop-color="#f4a652"/><stop offset="0.6110" stop-color="#e45a3c"/><stop offset="0.6132" stop-color="#e45a3c"/><stop offset="0.6155" stop-color="#e96c44"/><stop offset="0.6177" stop-color="#e96c44"/><stop offset="0.6200" stop-color="#ef874a"/><stop offset="0.6222" stop-color="#ef874a"/><stop offset="0.6244" stop-color="#f4a652"/><stop offset="0.6267" stop-color="#f4a652"/><stop offset="0.6289" stop-color="#e96c44"/><stop offset="0.6312" stop-color="#e96c44"/><stop offset="0.6334" stop-color="#ef874a"/><stop offset="0.6357" stop-color="#ef874a"/><stop offset="0.6379" stop-color="#f8c85c"/><stop offset="0.6401" stop-color="#f8c85c"/><stop offset="0.6424" stop-color="#f8e466"/><stop offset="0.6491" stop-color="#f8e466"/><stop offset="0.6513" stop-color="#f8c85c"/><stop offset="0.6536" stop-color="#f8c85c"/><stop offset="0.6558" stop-color="#ef874a"/><stop offset="0.6626" stop-color="#ef874a"/><stop offset="0.6648" stop-color="#f4a652"/><stop offset="0.6715" stop-color="#f4a652"/><stop offset="0.6738" stop-color="#f8c85c"/><stop offset="0.6760" stop-color="#f8c85c"/><stop offset="0.6783" stop-color="#f8e466"/><stop offset="0.6805" stop-color="#f8e466"/><stop offset="0.6827" stop-color="#eaf06a"/><stop offset="0.6895" stop-color="#eaf06a"/><stop offset="0.6917" stop-color="#f8e466"/><stop offset="0.6939" stop-color="#f8e466"/><stop offset="0.6962" stop-color="#f4a652"/><stop offset="0.6984" stop-color="#f4a652"/><stop offset="0.7007" stop-color="#f8c85c"/><stop offset="0.7029" stop-color="#f8c85c"/><stop offset="0.7052" stop-color="#eaf06a"/><stop offset="0.7074" stop-color="#eaf06a"/><stop offset="0.7096" stop-color="#f8e466"/><stop offset="0.7164" stop-color="#f8e466"/><stop offset="0.7186" stop-color="#cdf06a"/><stop offset="0.7253" stop-color="#cdf06a"/><stop offset="0.7276" stop-color="#eaf06a"/><stop offset="0.7298" stop-color="#eaf06a"/><stop offset="0.7321" stop-color="#f8c85c"/><stop offset="0.7343" stop-color="#f8c85c"/><stop offset="0.7365" stop-color="#eaf06a"/><stop offset="0.7433" stop-color="#eaf06a"/><stop offset="0.7455" stop-color="#f8c85c"/><stop offset="0.7657" stop-color="#f8c85c"/><stop offset="0.7679" stop-color="#e96c44"/><stop offset="0.7702" stop-color="#e96c44"/><stop offset="0.7724" stop-color="#e45a3c"/><stop offset="0.7747" stop-color="#e45a3c"/><stop offset="0.7769" stop-color="#e96c44"/><stop offset="0.7791" stop-color="#e96c44"/><stop offset="0.7814" stop-color="#e45a3c"/><stop offset="0.7881" stop-color="#e45a3c"/><stop offset="0.7904" stop-color="#e96c44"/><stop offset="0.7971" stop-color="#e96c44"/><stop offset="0.7993" stop-color="#e45a3c"/><stop offset="0.8061" stop-color="#e45a3c"/><stop offset="0.8083" stop-color="#e96c44"/><stop offset="0.8105" stop-color="#e96c44"/><stop offset="0.8128" stop-color="#e45a3c"/><stop offset="0.8150" stop-color="#e45a3c"/><stop offset="0.8173" stop-color="#e96c44"/><stop offset="0.8195" stop-color="#e96c44"/><stop offset="0.8217" stop-color="#e45a3c"/><stop offset="0.8240" stop-color="#e45a3c"/><stop offset="0.8262" stop-color="#e96c44"/><stop offset="0.8374" stop-color="#e96c44"/><stop offset="0.8397" stop-color="#e45a3c"/><stop offset="0.8419" stop-color="#e45a3c"/><stop offset="0.8442" stop-color="#e96c44"/><stop offset="0.8509" stop-color="#e96c44"/><stop offset="0.8531" stop-color="#ef874a"/><stop offset="0.8554" stop-color="#ef874a"/><stop offset="0.8576" stop-color="#f4a652"/><stop offset="0.8599" stop-color="#f4a652"/><stop offset="0.8621" stop-color="#ef874a"/><stop offset="0.8688" stop-color="#ef874a"/><stop offset="0.8711" stop-color="#f4a652"/><stop offset="0.8733" stop-color="#f4a652"/><stop offset="0.8756" stop-color="#ef874a"/><stop offset="0.9092" stop-color="#ef874a"/><stop offset="0.9114" stop-color="#f4a652"/><stop offset="0.9137" stop-color="#f4a652"/><stop offset="0.9159" stop-color="#ef874a"/><stop offset="0.9361" stop-color="#ef874a"/><stop offset="0.9383" stop-color="#f4a652"/><stop offset="0.9406" stop-color="#f4a652"/><stop offset="0.9428" stop-color="#ef874a"/><stop offset="0.9451" stop-color="#ef874a"/><stop offset="0.9473" stop-color="#e96c44"/><stop offset="0.9496" stop-color="#e96c44"/><stop offset="0.9518" stop-color="#ef874a"/><stop offset="0.9540" stop-color="#ef874a"/><stop offset="0.9563" stop-color="#f4a652"/><stop offset="0.9630" stop-color="#f4a652"/><stop offset="0.9652" stop-color="#e45a3c"/><stop offset="0.9675" stop-color="#e45a3c"/><stop offset="0.9697" stop-color="#f4a652"/><stop offset="0.9720" stop-color="#f4a652"/><stop offset="0.9742" stop-color="#ef874a"/><stop offset="0.9765" stop-color="#ef874a"/><stop offset="0.9787" stop-color="#f4a652"/><stop offset="0.9809" stop-color="#f4a652"/><stop offset="0.9832" stop-color="#f8c85c"/><stop offset="1.0000" stop-color="#f8c85c"/></linearGradient>
<linearGradient id="c19" x1="0" y1="0" x2="0" y2="1"><stop offset="0.0000" stop-color="#f8c85c"/><stop offset="0.0078" stop-color="#f8c85c"/><stop offset="0.0101" stop-color="#f8e466"/><stop offset="0.0168" stop-color="#f8e466"/><stop offset="0.0191" stop-color="#cdf06a"/><stop offset="0.0437" stop-color="#cdf06a"/><stop offset="0.0460" stop-color="#a8ef68"/><stop offset="0.1065" stop-color="#a8ef68"/><stop offset="0.1087" stop-color="#cdf06a"/><stop offset="0.1424" stop-color="#cdf06a"/><stop offset="0.1446" stop-color="#f8c85c"/><stop offset="0.1469" stop-color="#f8c85c"/><stop offset="0.1491" stop-color="#cdf06a"/><stop offset="0.1783" stop-color="#cdf06a"/><stop offset="0.1805" stop-color="#eaf06a"/><stop offset="0.1872" stop-color="#eaf06a"/><stop offset="0.1895" stop-color="#f8c85c"/><stop offset="0.1962" stop-color="#f8c85c"/><stop offset="0.1984" stop-color="#eaf06a"/><stop offset="0.2141" stop-color="#eaf06a"/><stop offset="0.2164" stop-color="#f8c85c"/><stop offset="0.2410" stop-color="#f8c85c"/><stop offset="0.2433" stop-color="#eaf06a"/><stop offset="0.2859" stop-color="#eaf06a"/><stop offset="0.2881" stop-color="#cdf06a"/><stop offset="0.3442" stop-color="#cdf06a"/><stop offset="0.3464" stop-color="#f8e466"/><stop offset="0.3576" stop-color="#f8e466"/><stop offset="0.3599" stop-color="#f8c85c"/><stop offset="0.3666" stop-color="#f8c85c"/><stop offset="0.3688" stop-color="#e45a3c"/><stop offset="0.3845" stop-color="#e45a3c"/><stop offset="0.3868" stop-color="#f8c85c"/><stop offset="0.4294" stop-color="#f8c85c"/><stop offset="0.4316" stop-color="#f8e466"/><stop offset="0.4428" stop-color="#f8e466"/><stop offset="0.4451" stop-color="#f8c85c"/><stop offset="0.4652" stop-color="#f8c85c"/><stop offset="0.4675" stop-color="#e96c44"/><stop offset="0.4787" stop-color="#e96c44"/><stop offset="0.4809" stop-color="#eaf06a"/><stop offset="0.4922" stop-color="#eaf06a"/><stop offset="0.4944" stop-color="#f8c85c"/><stop offset="0.5191" stop-color="#f8c85c"/><stop offset="0.5213" stop-color="#eaf06a"/><stop offset="0.5370" stop-color="#eaf06a"/><stop offset="0.5392" stop-color="#f8c85c"/><stop offset="0.5460" stop-color="#f8c85c"/><stop offset="0.5482" stop-color="#f8e466"/><stop offset="0.5504" stop-color="#f8e466"/><stop offset="0.5527" stop-color="#eaf06a"/><stop offset="0.5549" stop-color="#eaf06a"/><stop offset="0.5572" stop-color="#f8e466"/><stop offset="0.5594" stop-color="#f8e466"/><stop offset="0.5617" stop-color="#f4a652"/><stop offset="0.5639" stop-color="#f4a652"/><stop offset="0.5661" stop-color="#f8e466"/><stop offset="0.5684" stop-color="#f8e466"/><stop offset="0.5706" stop-color="#f8c85c"/><stop offset="0.5729" stop-color="#f8c85c"/><stop offset="0.5751" stop-color="#eaf06a"/><stop offset="0.5774" stop-color="#eaf06a"/><stop offset="0.5796" stop-color="#f8e466"/><stop offset="0.5818" stop-color="#f8e466"/><stop offset="0.5841" stop-color="#ef874a"/><stop offset="0.5908" stop-color="#ef874a"/><stop offset="0.5930" stop-color="#e96c44"/><stop offset="0.5998" stop-color="#e96c44"/><stop offset="0.6020" stop-color="#f4a652"/><stop offset="0.6087" stop-color="#f4a652"/><stop offset="0.6110" stop-color="#e96c44"/><stop offset="0.6177" stop-color="#e96c44"/><stop offset="0.6200" stop-color="#ef874a"/><stop offset="0.6222" stop-color="#ef874a"/><stop offset="0.6244" stop-color="#f4a652"/><stop offset="0.6267" stop-color="#f4a652"/><stop offset="0.6289" stop-color="#e96c44"/><stop offset="0.6312" stop-color="#e96c44"/><stop offset="0.6334" stop-color="#ef874a"/><stop offset="0.6401" stop-color="#ef874a"/><stop offset="0.6424" stop-color="#f4a652"/><stop offset="0.6491" stop-color="#f4a652"/><stop offset="0.6513" stop-color="#ef874a"/><stop offset="0.6626" stop-color="#ef874a"/><stop offset="0.6648" stop-color="#f4a652"/><stop offset="0.6760" stop-color="#f4a652"/><stop offset="0.6783" stop-color="#f8c85c"/><stop offset="0.6805" stop-color="#f8c85c"/><stop offset="0.6827" stop-color="#f8e466"/><stop offset="0.6850" stop-color="#f8e466"/><stop offset="0.6872" stop-color="#f8c85c"/><stop offset="0.6895" stop-color="#f8c85c"/><stop offset="0.6917" stop-color="#f4a652"/><stop offset="0.6939" stop-color="#f4a652"/><stop offset="0.6962" stop-color="#e96c44"/><stop offset="0.6984" stop-color="#e96c44"/><stop offset="0.7007" stop-color="#ef874a"/><stop offset="0.7029" stop-color="#ef874a"/><stop offset="0.7052" stop-color="#f8c85c"/><stop offset="0.7074" stop-color="#f8c85c"/><stop offset="0.7096" stop-color="#f4a652"/><stop offset="0.7164" stop-color="#f4a652"/><stop offset="0.7186" stop-color="#eaf06a"/><stop offset="0.7253" stop-color="#eaf06a"/><stop offset="0.7276" stop-color="#f8e466"/><stop offset="0.7298" stop-color="#f8e466"/><stop offset="0.7321" stop-color="#f8c85c"/><stop offset="0.7343" stop-color="#f8c85c"/><stop offset="0.7365" stop-color="#eaf06a"/><stop offset="0.7388" stop-color="#eaf06a"/><stop offset="0.7410" stop-color="#f8e466"/><stop offset="0.7433" stop-color="#f8e466"/><stop offset="0.7455" stop-color="#f8c85c"/><stop offset="0.7657" stop-color="#f8c85c"/><stop offset="0.7679" stop-color="#e96c44"/><stop offset="0.7702" stop-color="#e96c44"/><stop offset="0.7724" stop-color="#e45a3c"/><stop offset="0.7747" stop-color="#e45a3c"/><stop offset="0.7769" stop-color="#e96c44"/><stop offset="0.7791" stop-color="#e96c44"/><stop offset="0.7814" stop-color="#e45a3c"/><stop offset="0.7836" stop-color="#e45a3c"/><stop offset="0.7859" stop-color="#e96c44"/><stop offset="0.7926" stop-color="#e96c44"/><stop offset="0.7948" stop-color="#e45a3c"/><stop offset="0.7971" stop-color="#e45a3c"/><stop offset="0.7993" stop-color="#e96c44"/><stop offset="0.8016" stop-color="#e96c44"/><stop offset="0.8038" stop-color="#e45a3c"/><stop offset="0.8061" stop-color="#e45a3c"/><stop offset="0.8083" stop-color="#e96c44"/><stop offset="0.8105" stop-color="#e96c44"/><stop offset="0.8128" stop-color="#e45a3c"/><stop offset="0.8150" stop-color="#e45a3c"/><stop offset="0.8173" stop-color="#e96c44"/><stop offset="0.8195" stop-color="#e96c44"/><stop offset="0.8217" stop-color="#e45a3c"/><stop offset="0.8285" stop-color="#e45a3c"/><stop offset="0.8307" stop-color="#e96c44"/><stop offset="0.8330" stop-color="#e96c44"/><stop offset="0.8352" stop-color="#e45a3c"/><stop offset="0.8419" stop-color="#e45a3c"/><stop offset="0.8442" stop-color="#f8c85c"/><stop offset="0.8509" stop-color="#f8c85c"/><stop offset="0.8531" stop-color="#ef874a"/><stop offset="0.8554" stop-color="#ef874a"/><stop offset="0.8576" stop-color="#f4a652"/><stop offset="0.8599" stop-color="#f4a652"/><stop offset="0.8621" stop-color="#ef874a"/><stop offset="0.8643" stop-color="#ef874a"/><stop offset="0.8666" stop-color="#f4a652"/><stop offset="0.8688" stop-color="#f4a652"/><stop offset="0.8711" stop-color="#f8c85c"/><stop offset="0.8733" stop-color="#f8c85c"/><stop offset="0.8756" stop-color="#f4a652"/><stop offset="0.8778" stop-color="#f4a652"/><stop offset="0.8800" stop-color="#e45a3c"/><stop offset="0.8823" stop-color="#e45a3c"/><stop offset="0.8845" stop-color="#ef874a"/><stop offset="0.9092" stop-color="#ef874a"/><stop offset="0.9114" stop-color="#f8c85c"/><stop offset="0.9137" stop-color="#f8c85c"/><stop offset="0.9159" stop-color="#ef874a"/><stop offset="0.9182" stop-color="#ef874a"/><stop offset="0.9204" stop-color="#e96c44"/><stop offset="0.9226" stop-color="#e96c44"/><stop offset="0.9249" stop-color="#ef874a"/><stop offset="0.9271" stop-color="#ef874a"/><stop offset="0.9294" stop-color="#f4a652"/><stop offset="0.9316" stop-color="#f4a652"/><stop offset="0.9339" stop-color="#e96c44"/><stop offset="0.9361" stop-color="#e96c44"/><stop offset="0.9383" stop-color="#ef874a"/><stop offset="0.9451" stop-color="#ef874a"/><stop offset="0.9473" stop-color="#e96c44"/><stop offset="0.9496" stop-color="#e96c44"/><stop offset="0.9518" stop-color="#ef874a"/><stop offset="0.9540" stop-color="#ef874a"/><stop offset="0.9563" stop-color="#f4a652"/><stop offset="0.9630" stop-color="#f4a652"/><stop offset="0.9652" stop-color="#e96c44"/><stop offset="0.9675" stop-color="#e96c44"/><stop offset="0.9697" stop-color="#f4a652"/><stop offset="0.9720" stop-color="#f4a652"/><stop offset="0.9742" stop-color="#e96c44"/><stop offset="0.9765" stop-color="#e96c44"/><stop offset="0.9787" stop-color="#f4a652"/><stop offset="0.9809" stop-color="#f4a652"/><stop offset="0.9832" stop-color="#f8c85c"/><stop offset="1.0000" stop-color="#f8c85c"/></linearGradient>
<linearGradient id="c20" x1="0" y1="0" x2="0" y2="1"><stop offset="0.0000" stop-color="#f8e466"/><stop offset="0.0168" stop-color="#f8e466"/><stop offset="0.0191" stop-color="#cdf06a"/><stop offset="0.0482" stop-color="#cdf06a"/><stop offset="0.0504" stop-color="#a8ef68"/><stop offset="0.1065" stop-color="#a8ef68"/><stop offset="0.1087" stop-color="#cdf06a"/><stop offset="0.1424" stop-color="#cdf06a"/><stop offset="0.1446" stop-color="#eaf06a"/><stop offset="0.1469" stop-color="#eaf06a"/><stop offset="0.1491" stop-color="#cdf06a"/><stop offset="0.1783" stop-color="#cdf06a"/><stop offset="0.1805" stop-color="#eaf06a"/><stop offset="0.1872" stop-color="#eaf06a"/><stop offset="0.1895" stop-color="#f8c85c"/><stop offset="0.1962" stop-color="#f8c85c"/><stop offset="0.1984" stop-color="#eaf06a"/><stop offset="0.2141" stop-color="#eaf06a"/><stop offset="0.2164" stop-color="#f8c85c"/><stop offset="0.2410" stop-color="#f8c85c"/><stop offset="0.2433" stop-color="#eaf06a"/><stop offset="0.2724" stop-color="#eaf06a"/><stop offset="0.2747" stop-color="#f8c85c"/><stop offset="0.2769" stop-color="#f8c85c"/><stop offset="0.2791" stop-color="#eaf06a"/><stop offset="0.2859" stop-color="#eaf06a"/><stop offset="0.2881" stop-color="#cdf06a"/><stop offset="0.3307" stop-color="#cdf06a"/><stop offset="0.3330" stop-color="#eaf06a"/><stop offset="0.3442" stop-color="#eaf06a"/><stop offset="0.3464" stop-color="#f8c85c"/><stop offset="0.3666" stop-color="#f8c85c"/><stop offset="0.3688" stop-color="#f4a652"/><stop offset="0.3845" stop-color="#f4a652"/><stop offset="0.3868" stop-color="#f8e466"/><stop offset="0.4428" stop-color="#f8e466"/><stop offset="0.4451" stop-color="#f8c85c"/><stop offset="0.4787" stop-color="#f8c85c"/><stop offset="0.4809" stop-color="#f8e466"/><stop offset="0.5370" stop-color="#f8e466"/><stop offset="0.5392" stop-color="#f8c85c"/><stop offset="0.5460" stop-color="#f8c85c"/><stop offset="0.5482" stop-color="#f8e466"/><stop offset="0.5504" stop-color="#f8e466"/><stop offset="0.5527" stop-color="#eaf06a"/><stop offset="0.5549" stop-color="#eaf06a"/><stop offset="0.5572" stop-color="#f8e466"/><stop offset="0.5594" stop-color="#f8e466"/><stop offset="0.5617" stop-color="#f8c85c"/><stop offset="0.5639" stop-color="#f8c85c"/><stop offset="0.5661" stop-color="#eaf06a"/><stop offset="0.5684" stop-color="#eaf06a"/><stop offset="0.5706" stop-color="#f8c85c"/><stop offset="0.5729" stop-color="#f8c85c"/><stop offset="0.5751" stop-color="#eaf06a"/><stop offset="0.5774" stop-color="#eaf06a"/><stop offset="0.5796" stop-color="#f8c85c"/><stop offset="0.5818" stop-color="#f8c85c"/><stop offset="0.5841" stop-color="#ef874a"/><stop offset="0.5908" stop-color="#ef874a"/><stop offset="0.5930" stop-color="#e96c44"/><stop offset="0.5953" stop-color="#e96c44"/><stop offset="0.5975" stop-color="#ef874a"/><stop offset="0.5998" stop-color="#ef874a"/><stop offset="0.6020" stop-color="#f4a652"/><stop offset="0.6087" stop-color="#f4a652"/><stop offset="0.6110" stop-color="#e96c44"/><stop offset="0.6177" stop-color="#e96c44"/><stop offset="0.6200" stop-color="#ef874a"/><stop offset="0.6222" stop-color="#ef874a"/><stop offset="0.6244" stop-color="#f4a652"/><stop offset="0.6267" stop-color="#f4a652"/><stop offset="0.6289" stop-color="#e96c44"/><stop offset="0.6312" stop-color="#e96c44"/><stop offset="0.6334" stop-color="#ef874a"/><stop offset="0.6401" stop-color="#ef874a"/><stop offset="0.6424" stop-color="#f4a652"/><stop offset="0.6491" stop-color="#f4a652"/><stop offset="0.6513" stop-color="#ef874a"/><stop offset="0.6581" stop-color="#ef874a"/><stop offset="0.6603" stop-color="#f4a652"/><stop offset="0.6715" stop-color="#f4a652"/><stop offset="0.6738" stop-color="#e96c44"/><stop offset="0.6760" stop-color="#e96c44"/><stop offset="0.6783" stop-color="#ef874a"/><stop offset="0.6805" stop-color="#ef874a"/><stop offset="0.6827" stop-color="#f4a652"/><stop offset="0.6850" stop-color="#f4a652"/><stop offset="0.6872" stop-color="#ef874a"/><stop offset="0.6895" stop-color="#ef874a"/><stop offset="0.6917" stop-color="#f4a652"/><stop offset="0.6939" stop-color="#f4a652"/><stop offset="0.6962" stop-color="#e96c44"/><stop offset="0.6984" stop-color="#e96c44"/><stop offset="0.7007" stop-color="#ef874a"/><stop offset="0.7029" stop-color="#ef874a"/><stop offset="0.7052" stop-color="#f4a652"/><stop offset="0.7074" stop-color="#f4a652"/><stop offset="0.7096" stop-color="#ef874a"/><stop offset="0.7119" stop-color="#ef874a"/><stop offset="0.7141" stop-color="#f4a652"/><stop offset="0.7164" stop-color="#f4a652"/><stop offset="0.7186" stop-color="#f8e466"/><stop offset="0.7253" stop-color="#f8e466"/><stop offset="0.7276" stop-color="#f8c85c"/><stop offset="0.7298" stop-color="#f8c85c"/><stop offset="0.7321" stop-color="#f4a652"/><stop offset="0.7343" stop-color="#f4a652"/><stop offset="0.7365" stop-color="#f8c85c"/><stop offset="0.7657" stop-color="#f8c85c"/><stop offset="0.7679" stop-color="#e96c44"/><stop offset="0.7702" stop-color="#e96c44"/><stop offset="0.7724" stop-color="#e45a3c"/><stop offset="0.7881" stop-color="#e45a3c"/><stop offset="0.7904" stop-color="#ef874a"/><stop offset="0.7926" stop-color="#ef874a"/><stop offset="0.7948" stop-color="#e45a3c"/><stop offset="0.8061" stop-color="#e45a3c"/><stop offset="0.8083" stop-color="#e96c44"/><stop offset="0.8105" stop-color="#e96c44"/><stop offset="0.8128" stop-color="#e45a3c"/><stop offset="0.8150" stop-color="#e45a3c"/><stop offset="0.8173" stop-color="#e96c44"/><stop offset="0.8195" stop-color="#e96c44"/><stop offset="0.8217" stop-color="#e45a3c"/><stop offset="0.8285" stop-color="#e45a3c"/><stop offset="0.8307" stop-color="#e96c44"/><stop offset="0.8330" stop-color="#e96c44"/><stop offset="0.8352" stop-color="#e45a3c"/><stop offset="0.8419" stop-color="#e45a3c"/><stop offset="0.8442" stop-color="#ef874a"/><stop offset="0.8643" stop-color="#ef874a"/><stop offset="0.8666" stop-color="#f4a652"/><stop offset="0.8688" stop-color="#f4a652"/><stop offset="0.8711" stop-color="#ef874a"/><stop offset="0.8733" stop-color="#ef874a"/><stop offset="0.8756" stop-color="#f4a652"/><stop offset="0.8778" stop-color="#f4a652"/><stop offset="0.8800" stop-color="#ef874a"/><stop offset="0.8823" stop-color="#ef874a"/><stop offset="0.8845" stop-color="#f4a652"/><stop offset="0.8868" stop-color="#f4a652"/><stop offset="0.8890" stop-color="#ef874a"/><stop offset="0.8913" stop-color="#ef874a"/><stop offset="0.8935" stop-color="#f4a652"/><stop offset="0.8957" stop-color="#f4a652"/><stop offset="0.8980" stop-color="#ef874a"/><stop offset="0.9002" stop-color="#ef874a"/><stop offset="0.9025" stop-color="#f4a652"/><stop offset="0.9047" stop-color="#f4a652"/><stop offset="0.9070" stop-color="#ef874a"/><stop offset="0.9092" stop-color="#ef874a"/><stop offset="0.9114" stop-color="#f4a652"/><stop offset="0.9137" stop-color="#f4a652"/><stop offset="0.9159" stop-color="#ef874a"/><stop offset="0.9226" stop-color="#ef874a"/><stop offset="0.9249" stop-color="#f4a652"/><stop offset="0.9316" stop-color="#f4a652"/><stop offset="0.9339" stop-color="#ef874a"/><stop offset="0.9361" stop-color="#ef874a"/><stop offset="0.9383" stop-color="#f8c85c"/><stop offset="0.9406" stop-color="#f8c85c"/><stop offset="0.9428" stop-color="#ef874a"/><stop offset="0.9540" stop-color="#ef874a"/><stop offset="0.9563" stop-color="#f4a652"/><stop offset="0.9630" stop-color="#f4a652"/><stop offset="0.9652" stop-color="#ef874a"/><stop offset="0.9765" stop-color="#ef874a"/><stop offset="0.9787" stop-color="#f4a652"/><stop offset="0.9809" stop-color="#f4a652"/><stop offset="0.9832" stop-color="#f8c85c"/><stop offset="1.0000" stop-color="#f8c85c"/></linearGradient>
<linearGradient id="c21" x1="0" y1="0" x2="0" y2="1"><stop offset="0.0000" stop-color="#e96c44"/><stop offset="0.0078" stop-color="#e96c44"/><stop offset="0.0101" stop-color="#f8c85c"/><stop offset="0.0168" stop-color="#f8c85c"/><stop offset="0.0191" stop-color="#cdf06a"/><stop offset="0.0437" stop-color="#cdf06a"/><stop offset="0.0460" stop-color="#e96c44"/><stop offset="0.0482" stop-color="#e96c44"/><stop offset="0.0504" stop-color="#a8ef68"/><stop offset="0.1065" stop-color="#a8ef68"/><stop offset="0.1087" stop-color="#cdf06a"/><stop offset="0.1424" stop-color="#cdf06a"/><stop offset="0.1446" stop-color="#eaf06a"/><stop offset="0.1469" stop-color="#eaf06a"/><stop offset="0.1491" stop-color="#cdf06a"/><stop offset="0.1783" stop-color="#cdf06a"/><stop offset="0.1805" stop-color="#eaf06a"/><stop offset="0.1872" stop-color="#eaf06a"/><stop offset="0.1895" stop-color="#f8c85c"/><stop offset="0.1962" stop-color="#f8c85c"/><stop offset="0.1984" stop-color="#eaf06a"/><stop offset="0.2141" stop-color="#eaf06a"/><stop offset="0.2164" stop-color="#f8e466"/><stop offset="0.2410" stop-color="#f8e466"/><stop offset="0.2433" stop-color="#eaf06a"/><stop offset="0.2724" stop-color="#eaf06a"/><stop offset="0.2747" stop-color="#f8c85c"/><stop offset="0.2769" stop-color="#f8c85c"/><stop offset="0.2791" stop-color="#eaf06a"/><stop offset="0.2859" stop-color="#eaf06a"/><stop offset="0.2881" stop-color="#cdf06a"/><stop offset="0.3307" stop-color="#cdf06a"/><stop offset="0.3330" stop-color="#eaf06a"/><stop offset="0.3442" stop-color="#eaf06a"/><stop offset="0.3464" stop-color="#f8e466"/><stop offset="0.3576" stop-color="#f8e466"/><stop offset="0.3599" stop-color="#f8c85c"/><stop offset="0.3666" stop-color="#f8c85c"/><stop offset="0.3688" stop-color="#e45a3c"/><stop offset="0.3845" stop-color="#e45a3c"/><stop offset="0.3868" stop-color="#f8c85c"/><stop offset="0.3980" stop-color="#f8c85c"/><stop offset="0.4002" stop-color="#f8e466"/><stop offset="0.4114" stop-color="#f8e466"/><stop offset="0.4137" stop-color="#e96c44"/><stop offset="0.4294" stop-color="#e96c44"/><stop offset="0.4316" stop-color="#f8c85c"/><stop offset="0.4428" stop-color="#f8c85c"/><stop offset="0.4451" stop-color="#f4a652"/><stop offset="0.4563" stop-color="#f4a652"/><stop offset="0.4585" stop-color="#f8c85c"/><stop offset="0.4787" stop-color="#f8c85c"/><stop offset="0.4809" stop-color="#f8e466"/><stop offset="0.5191" stop-color="#f8e466"/><stop offset="0.5213" stop-color="#f8c85c"/><stop offset="0.5504" stop-color="#f8c85c"/><stop offset="0.5527" stop-color="#f8e466"/><stop offset="0.5594" stop-color="#f8e466"/><stop offset="0.5617" stop-color="#f4a652"/><stop offset="0.5639" stop-color="#f4a652"/><stop offset="0.5661" stop-color="#f8c85c"/><stop offset="0.5729" stop-color="#f8c85c"/><stop offset="0.5751" stop-color="#eaf06a"/><stop offset="0.5774" stop-color="#eaf06a"/><stop offset="0.5796" stop-color="#f8e466"/><stop offset="0.5818" stop-color="#f8e466"/><stop offset="0.5841" stop-color="#ef874a"/><stop offset="0.5908" stop-color="#ef874a"/><stop offset="0.5930" stop-color="#e45a3c"/><stop offset="0.5953" stop-color="#e45a3c"/><stop offset="0.5975" stop-color="#e96c44"/><stop offset="0.5998" stop-color="#e96c44"/><stop offset="0.6020" stop-color="#f4a652"/><stop offset="0.6087" stop-color="#f4a652"/><stop offset="0.6110" stop-color="#e96c44"/><stop offset="0.6177" stop-color="#e96c44"/><stop offset="0.6200" stop-color="#ef874a"/><stop offset="0.6222" stop-color="#ef874a"/><stop offset="0.6244" stop-color="#f4a652"/><stop offset="0.6267" stop-color="#f4a652"/><stop offset="0.6289" stop-color="#ef874a"/><stop offset="0.6401" stop-color="#ef874a"/><stop offset="0.6424" stop-color="#f4a652"/><stop offset="0.6491" stop-color="#f4a652"/><stop offset="0.6513" stop-color="#ef874a"/><stop offset="0.6626" stop-color="#ef874a"/><stop offset="0.6648" stop-color="#f4a652"/><stop offset="0.6715" stop-color="#f4a652"/><stop offset="0.6738" stop-color="#e96c44"/><stop offset="0.6760" stop-color="#e96c44"/><stop offset="0.6783" stop-color="#ef874a"/><stop offset="0.6805" stop-color="#ef874a"/><stop offset="0.6827" stop-color="#f4a652"/><stop offset="0.6850" stop-color="#f4a652"/><stop offset="0.6872" stop-color="#ef874a"/><stop offset="0.6939" stop-color="#ef874a"/><stop offset="0.6962" stop-color="#e45a3c"/><stop offset="0.6984" stop-color="#e45a3c"/><stop offset="0.7007" stop-color="#ef874a"/><stop offset="0.7029" stop-color="#ef874a"/><stop offset="0.7052" stop-color="#e45a3c"/><stop offset="0.7164" stop-color="#e45a3c"/><stop offset="0.7186" stop-color="#eaf06a"/><stop offset="0.7253" stop-color="#eaf06a"/><stop offset="0.7276" stop-color="#f8e466"/><stop offset="0.7298" stop-color="#f8e466"/><stop offset="0.7321" stop-color="#f8c85c"/><stop offset="0.7343" stop-color="#f8c85c"/><stop offset="0.7365" stop-color="#f8e466"/><stop offset="0.7433" stop-color="#f8e466"/><stop offset="0.7455" stop-color="#f8c85c"/><stop offset="0.7657" stop-color="#f8c85c"/><stop offset="0.7679" stop-color="#e45a3c"/><stop offset="0.7747" stop-color="#e45a3c"/><stop offset="0.7769" stop-color="#e96c44"/><stop offset="0.7791" stop-color="#e96c44"/><stop offset="0.7814" stop-color="#e45a3c"/><stop offset="0.7881" stop-color="#e45a3c"/><stop offset="0.7904" stop-color="#ef874a"/><stop offset="0.7926" stop-color="#ef874a"/><stop offset="0.7948" stop-color="#e45a3c"/><stop offset="0.8061" stop-color="#e45a3c"/><stop offset="0.8083" stop-color="#e96c44"/><stop offset="0.8105" stop-color="#e96c44"/><stop offset="0.8128" stop-color="#e45a3c"/><stop offset="0.8285" stop-color="#e45a3c"/><stop offset="0.8307" stop-color="#e96c44"/><stop offset="0.8330" stop-color="#e96c44"/><stop offset="0.8352" stop-color="#e45a3c"/><stop offset="0.8419" stop-color="#e45a3c"/><stop offset="0.8442" stop-color="#ef874a"/><stop offset="0.8509" stop-color="#ef874a"/><stop offset="0.8531" stop-color="#e96c44"/><stop offset="0.8554" stop-color="#e96c44"/><stop offset="0.8576" stop-color="#e45a3c"/><stop offset="0.8688" stop-color="#e45a3c"/><stop offset="0.8711" stop-color="#e96c44"/><stop offset="0.8733" stop-color="#e96c44"/><stop offset="0.8756" stop-color="#e45a3c"/><stop offset="0.8823" stop-color="#e45a3c"/><stop offset="0.8845" stop-color="#e96c44"/><stop offset="0.9002" stop-color="#e96c44"/><stop offset="0.9025" stop-color="#e45a3c"/><stop offset="0.9047" stop-color="#e45a3c"/><stop offset="0.9070" stop-color="#e96c44"/><stop offset="0.9092" stop-color="#e96c44"/><stop offset="0.9114" stop-color="#e45a3c"/><stop offset="0.9137" stop-color="#e45a3c"/><stop offset="0.9159" stop-color="#e96c44"/><stop offset="0.9182" stop-color="#e96c44"/><stop offset="0.9204" stop-color="#e45a3c"/><stop offset="0.9226" stop-color="#e45a3c"/><stop offset="0.9249" stop-color="#ef874a"/><stop offset="0.9271" stop-color="#ef874a"/><stop offset="0.9294" stop-color="#e96c44"/><stop offset="0.9361" stop-color="#e96c44"/><stop offset="0.9383" stop-color="#ef874a"/><stop offset="0.9451" stop-color="#ef874a"/><stop offset="0.9473" stop-color="#e96c44"/><stop offset="0.9496" stop-color="#e96c44"/><stop offset="0.9518" stop-color="#ef874a"/><stop offset="0.9540" stop-color="#ef874a"/><stop offset="0.9563" stop-color="#e96c44"/><stop offset="0.9630" stop-color="#e96c44"/><stop offset="0.9652" stop-color="#ef874a"/><stop offset="0.9675" stop-color="#ef874a"/><stop offset="0.9697" stop-color="#e96c44"/><stop offset="0.9720" stop-color="#e96c44"/><stop offset="0.9742" stop-color="#ef874a"/><stop offset="0.9809" stop-color="#ef874a"/><stop offset="0.9832" stop-color="#f8c85c"/><stop offset="1.0000" stop-color="#f8c85c"/></linearGradient>
<linearGradient id="c22" x1="0" y1="0" x2="0" y2="1"><stop offset="0.0000" stop-color="#e96c44"/><stop offset="0.0078" stop-color="#e96c44"/><stop offset="0.0101" stop-color="#f8e466"/><stop offset="0.0168" stop-color="#f8e466"/><stop offset="0.0191" stop-color="#cdf06a"/><stop offset="0.0437" stop-color="#cdf06a"/><stop offset="0.0460" stop-color="#f8c85c"/><stop offset="0.0482" stop-color="#f8c85c"/><stop offset="0.0504" stop-color="#a8ef68"/><stop offset="0.1065" stop-color="#a8ef68"/><stop offset="0.1087" stop-color="#cdf06a"/><stop offset="0.1424" stop-color="#cdf06a"/><stop offset="0.1446" stop-color="#f8c85c"/><stop offset="0.1469" stop-color="#f8c85c"/><stop offset="0.1491" stop-color="#cdf06a"/><stop offset="0.1783" stop-color="#cdf06a"/><stop offset="0.1805" stop-color="#eaf06a"/><stop offset="0.2141" stop-color="#eaf06a"/><stop offset="0.2164" stop-color="#f8e466"/><stop offset="0.2410" stop-color="#f8e466"/><stop offset="0.2433" stop-color="#eaf06a"/><stop offset="0.2859" stop-color="#eaf06a"/><stop offset="0.2881" stop-color="#cdf06a"/><stop offset="0.3307" stop-color="#cdf06a"/><stop offset="0.3330" stop-color="#eaf06a"/><stop offset="0.3442" stop-color="#eaf06a"/><stop offset="0.3464" stop-color="#f8e466"/><stop offset="0.3576" stop-color="#f8e466"/><stop offset="0.3599" stop-color="#f8c85c"/><stop offset="0.3666" stop-color="#f8c85c"/><stop offset="0.3688" stop-color="#e96c44"/><stop offset="0.3845" stop-color="#e96c44"/><stop offset="0.3868" stop-color="#f8c85c"/><stop offset="0.4114" stop-color="#f8c85c"/><stop offset="0.4137" stop-color="#ef874a"/><stop offset="0.4294" stop-color="#ef874a"/><stop offset="0.4316" stop-color="#f8e466"/><stop offset="0.4428" stop-color="#f8e466"/><stop offset="0.4451" stop-color="#f8c85c"/><stop offset="0.4652" stop-color="#f8c85c"/><stop offset="0.4675" stop-color="#e96c44"/><stop offset="0.4787" stop-color="#e96c44"/><stop offset="0.4809" stop-color="#eaf06a"/><stop offset="0.4922" stop-color="#eaf06a"/><stop offset="0.4944" stop-color="#f8e466"/><stop offset="0.5370" stop-color="#f8e466"/><stop offset="0.5392" stop-color="#f8c85c"/><stop offset="0.5460" stop-color="#f8c85c"/><stop offset="0.5482" stop-color="#f8e466"/><stop offset="0.5504" stop-color="#f8e466"/><stop offset="0.5527" stop-color="#eaf06a"/><stop offset="0.5549" stop-color="#eaf06a"/><stop offset="0.5572" stop-color="#f8e466"/><stop offset="0.5594" stop-color="#f8e466"/><stop offset="0.5617" stop-color="#f8c85c"/><stop offset="0.5639" stop-color="#f8c85c"/><stop offset="0.5661" stop-color="#f8e466"/><stop offset="0.5729" stop-color="#f8e466"/><stop offset="0.5751" stop-color="#cdf06a"/><stop offset="0.5774" stop-color="#cdf06a"/><stop offset="0.5796" stop-color="#eaf06a"/><stop offset="0.5818" stop-color="#eaf06a"/><stop offset="0.5841" stop-color="#f8e466"/><stop offset="0.5863" stop-color="#f8e466"/><stop offset="0.5886" stop-color="#eaf06a"/><stop offset="0.5908" stop-color="#eaf06a"/><stop offset="0.5930" stop-color="#f8c85c"/><stop offset="0.6087" stop-color="#f8c85c"/><stop offset="0.6110" stop-color="#ef874a"/><stop offset="0.6177" stop-color="#ef874a"/><stop offset="0.6200" stop-color="#f8c85c"/><stop offset="0.6222" stop-color="#f8c85c"/><stop offset="0.6244" stop-color="#f8e466"/><stop offset="0.6267" stop-color="#f8e466"/><stop offset="0.6289" stop-color="#f4a652"/><stop offset="0.6312" stop-color="#f4a652"/><stop offset="0.6334" stop-color="#f8c85c"/><stop offset="0.6357" stop-color="#f8c85c"/><stop offset="0.6379" stop-color="#ef874a"/><stop offset="0.6401" stop-color="#ef874a"/><stop offset="0.6424" stop-color="#f4a652"/><stop offset="0.6491" stop-color="#f4a652"/><stop offset="0.6513" stop-color="#e96c44"/><stop offset="0.6536" stop-color="#e96c44"/><stop offset="0.6558" stop-color="#f4a652"/><stop offset="0.6626" stop-color="#f4a652"/><stop offset="0.6648" stop-color="#f8c85c"/><stop offset="0.6715" stop-color="#f8c85c"/><stop offset="0.6738" stop-color="#f8e466"/><stop offset="0.6760" stop-color="#f8e466"/><stop offset="0.6783" stop-color="#eaf06a"/><stop offset="0.6805" stop-color="#eaf06a"/><stop offset="0.6827" stop-color="#cdf06a"/><stop offset="0.6850" stop-color="#cdf06a"/><stop offset="0.6872" stop-color="#eaf06a"/><stop offset="0.6939" stop-color="#eaf06a"/><stop offset="0.6962" stop-color="#f8c85c"/><stop offset="0.6984" stop-color="#f8c85c"/><stop offset="0.7007" stop-color="#f8e466"/><stop offset="0.7029" stop-color="#f8e466"/><stop offset="0.7052" stop-color="#f8c85c"/><stop offset="0.7074" stop-color="#f8c85c"/><stop offset="0.7096" stop-color="#f4a652"/><stop offset="0.7164" stop-color="#f4a652"/><stop offset="0.7186" stop-color="#eaf06a"/><stop offset="0.7253" stop-color="#eaf06a"/><stop offset="0.7276" stop-color="#f8e466"/><stop offset="0.7298" stop-color="#f8e466"/><stop offset="0.7321" stop-color="#f8c85c"/><stop offset="0.7343" stop-color="#f8c85c"/><stop offset="0.7365" stop-color="#f8e466"/><stop offset="0.7433" stop-color="#f8e466"/><stop offset="0.7455" stop-color="#f8c85c"/><stop offset="0.7657" stop-color="#f8c85c"/><stop offset="0.7679" stop-color="#ef874a"/><stop offset="0.7702" stop-color="#ef874a"/><stop offset="0.7724" stop-color="#e45a3c"/><stop offset="0.7747" stop-color="#e45a3c"/><stop offset="0.7769" stop-color="#e96c44"/><stop offset="0.7791" stop-color="#e96c44"/><stop offset="0.7814" stop-color="#e45a3c"/><stop offset="0.7881" stop-color="#e45a3c"/><stop offset="0.7904" stop-color="#e96c44"/><stop offset="0.7926" stop-color="#e96c44"/><stop offset="0.7948" stop-color="#e45a3c"/><stop offset="0.8061" stop-color="#e45a3c"/><stop offset="0.8083" stop-color="#e96c44"/><stop offset="0.8105" stop-color="#e96c44"/><stop offset="0.8128" stop-color="#e45a3c"/><stop offset="0.8150" stop-color="#e45a3c"/><stop offset="0.8173" stop-color="#e96c44"/><stop offset="0.8195" stop-color="#e96c44"/><stop offset="0.8217" stop-color="#e45a3c"/><stop offset="0.8285" stop-color="#e45a3c"/><stop offset="0.8307" stop-color="#e96c44"/><stop offset="0.8374" stop-color="#e96c44"/><stop offset="0.8397" stop-color="#e45a3c"/><stop offset="0.8419" stop-color="#e45a3c"/><stop offset="0.8442" stop-color="#ef874a"/><stop offset="0.8509" stop-color="#ef874a"/><stop offset="0.8531" stop-color="#e96c44"/><stop offset="0.8554" stop-color="#e96c44"/><stop offset="0.8576" stop-color="#f4a652"/><stop offset="0.8599" stop-color="#f4a652"/><stop offset="0.8621" stop-color="#ef874a"/><stop offset="0.8733" stop-color="#ef874a"/><stop offset="0.8756" stop-color="#f4a652"/><stop offset="0.8823" stop-color="#f4a652"/><stop offset="0.8845" stop-color="#e96c44"/><stop offset="0.8868" stop-color="#e96c44"/><stop offset="0.8890" stop-color="#ef874a"/><stop offset="0.8957" stop-color="#ef874a"/><stop offset="0.8980" stop-color="#f4a652"/><stop offset="0.9002" stop-color="#f4a652"/><stop offset="0.9025" stop-color="#e96c44"/><stop offset="0.9047" stop-color="#e96c44"/><stop offset="0.9070" stop-color="#f4a652"/><stop offset="0.9092" stop-color="#f4a652"/><stop offset="0.9114" stop-color="#e96c44"/><stop offset="0.9271" stop-color="#e96c44"/><stop offset="0.9294" stop-color="#f4a652"/><stop offset="0.9361" stop-color="#f4a652"/><stop offset="0.9383" stop-color="#ef874a"/><stop offset="0.9406" stop-color="#ef874a"/><stop offset="0.9428" stop-color="#f4a652"/><stop offset="0.9451" stop-color="#f4a652"/><stop offset="0.9473" stop-color="#ef874a"/><stop offset="0.9630" stop-color="#ef874a"/><stop offset="0.9652" stop-color="#f4a652"/><stop offset="0.9675" stop-color="#f4a652"/><stop offset="0.9697" stop-color="#ef874a"/><stop offset="0.9765" stop-color="#ef874a"/><stop offset="0.9787" stop-color="#f8c85c"/><stop offset="1.0000" stop-color="#f8c85c"/></linearGradient>
<linearGradient id="c23" x1="0" y1="0" x2="0" y2="1"><stop offset="0.0000" stop-color="#cdf06a"/><stop offset="0.0348" stop-color="#cdf06a"/><stop offset="0.0370" stop-color="#a8ef68"/><stop offset="0.1065" stop-color="#a8ef68"/><stop offset="0.1087" stop-color="#cdf06a"/><stop offset="0.1603" stop-color="#cdf06a"/><stop offset="0.1626" stop-color="#eaf06a"/><stop offset="0.1872" stop-color="#eaf06a"/><stop offset="0.1895" stop-color="#f8e466"/><stop offset="0.2007" stop-color="#f8e466"/><stop offset="0.2029" stop-color="#eaf06a"/><stop offset="0.2141" stop-color="#eaf06a"/><stop offset="0.2164" stop-color="#f8c85c"/><stop offset="0.2276" stop-color="#f8c85c"/><stop offset="0.2298" stop-color="#f4a652"/><stop offset="0.2455" stop-color="#f4a652"/><stop offset="0.2478" stop-color="#eaf06a"/><stop offset="0.2769" stop-color="#eaf06a"/><stop offset="0.2791" stop-color="#cdf06a"/><stop offset="0.2904" stop-color="#cdf06a"/><stop offset="0.2926" stop-color="#eaf06a"/><stop offset="0.3083" stop-color="#eaf06a"/><stop offset="0.3105" stop-color="#f8e466"/><stop offset="0.3262" stop-color="#f8e466"/><stop offset="0.3285" stop-color="#f8c85c"/><stop offset="0.3397" stop-color="#f8c85c"/><stop offset="0.3419" stop-color="#f8e466"/><stop offset="0.3621" stop-color="#f8e466"/><stop offset="0.3643" stop-color="#f8c85c"/><stop offset="0.3890" stop-color="#f8c85c"/><stop offset="0.3913" stop-color="#f8e466"/><stop offset="0.4025" stop-color="#f8e466"/><stop offset="0.4047" stop-color="#eaf06a"/><stop offset="0.4294" stop-color="#eaf06a"/><stop offset="0.4316" stop-color="#f8e466"/><stop offset="0.4428" stop-color="#f8e466"/><stop offset="0.4451" stop-color="#eaf06a"/><stop offset="0.4652" stop-color="#eaf06a"/><stop offset="0.4675" stop-color="#f8c85c"/><stop offset="0.4787" stop-color="#f8c85c"/><stop offset="0.4809" stop-color="#eaf06a"/><stop offset="0.5011" stop-color="#eaf06a"/><stop offset="0.5034" stop-color="#f8c85c"/><stop offset="0.5146" stop-color="#f8c85c"/><stop offset="0.5168" stop-color="#f8e466"/><stop offset="0.5370" stop-color="#f8e466"/><stop offset="0.5392" stop-color="#f8c85c"/><stop offset="0.5460" stop-color="#f8c85c"/><stop offset="0.5482" stop-color="#f4a652"/><stop offset="0.5504" stop-color="#f4a652"/><stop offset="0.5527" stop-color="#f8e466"/><stop offset="0.5549" stop-color="#f8e466"/><stop offset="0.5572" stop-color="#f8c85c"/><stop offset="0.5639" stop-color="#f8c85c"/><stop offset="0.5661" stop-color="#f8e466"/><stop offset="0.5684" stop-color="#f8e466"/><stop offset="0.5706" stop-color="#f8c85c"/><stop offset="0.5729" stop-color="#f8c85c"/><stop offset="0.5751" stop-color="#eaf06a"/><stop offset="0.5774" stop-color="#eaf06a"/><stop offset="0.5796" stop-color="#e96c44"/><stop offset="0.5818" stop-color="#e96c44"/><stop offset="0.5841" stop-color="#ef874a"/><stop offset="0.5863" stop-color="#ef874a"/><stop offset="0.5886" stop-color="#eaf06a"/><stop offset="0.5908" stop-color="#eaf06a"/><stop offset="0.5930" stop-color="#f8e466"/><stop offset="0.5998" stop-color="#f8e466"/><stop offset="0.6020" stop-color="#eaf06a"/><stop offset="0.6087" stop-color="#eaf06a"/><stop offset="0.6110" stop-color="#e96c44"/><stop offset="0.6177" stop-color="#e96c44"/><stop offset="0.6200" stop-color="#ef874a"/><stop offset="0.6222" stop-color="#ef874a"/><stop offset="0.6244" stop-color="#f4a652"/><stop offset="0.6267" stop-color="#f4a652"/><stop offset="0.6289" stop-color="#e96c44"/><stop offset="0.6312" stop-color="#e96c44"/><stop offset="0.6334" stop-color="#ef874a"/><stop offset="0.6401" stop-color="#ef874a"/><stop offset="0.6424" stop-color="#f4a652"/><stop offset="0.6491" stop-color="#f4a652"/><stop offset="0.6513" stop-color="#ef874a"/><stop offset="0.6626" stop-color="#ef874a"/><stop offset="0.6648" stop-color="#f4a652"/><stop offset="0.6670" stop-color="#f4a652"/><stop offset="0.6693" stop-color="#f8e466"/><stop offset="0.6715" stop-color="#f8e466"/><stop offset="0.6738" stop-color="#f8c85c"/><stop offset="0.6760" stop-color="#f8c85c"/><stop offset="0.6783" stop-color="#f8e466"/><stop offset="0.6805" stop-color="#f8e466"/><stop offset="0.6827" stop-color="#eaf06a"/><stop offset="0.6850" stop-color="#eaf06a"/><stop offset="0.6872" stop-color="#f8e466"/><stop offset="0.6895" stop-color="#f8e466"/><stop offset="0.6917" stop-color="#f8c85c"/><stop offset="0.6939" stop-color="#f8c85c"/><stop offset="0.6962" stop-color="#ef874a"/><stop offset="0.6984" stop-color="#ef874a"/><stop offset="0.7007" stop-color="#f4a652"/><stop offset="0.7029" stop-color="#f4a652"/><stop offset="0.7052" stop-color="#f8c85c"/><stop offset="0.7074" stop-color="#f8c85c"/><stop offset="0.7096" stop-color="#f4a652"/><stop offset="0.7164" stop-color="#f4a652"/><stop offset="0.7186" stop-color="#f8c85c"/><stop offset="0.7209" stop-color="#f8c85c"/><stop offset="0.7231" stop-color="#f8e466"/><stop offset="0.7253" stop-color="#f8e466"/><stop offset="0.7276" stop-color="#f8c85c"/><stop offset="0.7657" stop-color="#f8c85c"/><stop offset="0.7679" stop-color="#e96c44"/><stop offset="0.7702" stop-color="#e96c44"/><stop offset="0.7724" stop-color="#e45a3c"/><stop offset="0.7747" stop-color="#e45a3c"/><stop offset="0.7769" stop-color="#e96c44"/><stop offset="0.7791" stop-color="#e96c44"/><stop offset="0.7814" stop-color="#e45a3c"/><stop offset="0.7881" stop-color="#e45a3c"/><stop offset="0.7904" stop-color="#e96c44"/><stop offset="0.7926" stop-color="#e96c44"/><stop offset="0.7948" stop-color="#e45a3c"/><stop offset="0.7971" stop-color="#e45a3c"/><stop offset="0.7993" stop-color="#e96c44"/><stop offset="0.8016" stop-color="#e96c44"/><stop offset="0.8038" stop-color="#e45a3c"/><stop offset="0.8061" stop-color="#e45a3c"/><stop offset="0.8083" stop-color="#e96c44"/><stop offset="0.8105" stop-color="#e96c44"/><stop offset="0.8128" stop-color="#ef874a"/><stop offset="0.8195" stop-color="#ef874a"/><stop offset="0.8217" stop-color="#e96c44"/><stop offset="0.8285" stop-color="#e96c44"/><stop offset="0.8307" stop-color="#ef874a"/><stop offset="0.8374" stop-color="#ef874a"/><stop offset="0.8397" stop-color="#e45a3c"/><stop offset="0.8419" stop-color="#e45a3c"/><stop offset="0.8442" stop-color="#f8c85c"/><stop offset="0.8509" stop-color="#f8c85c"/><stop offset="0.8531" stop-color="#f4a652"/><stop offset="0.8554" stop-color="#f4a652"/><stop offset="0.8576" stop-color="#f8e466"/><stop offset="0.8688" stop-color="#f8e466"/><stop offset="0.8711" stop-color="#f8c85c"/><stop offset="0.8733" stop-color="#f8c85c"/><stop offset="0.8756" stop-color="#f4a652"/><stop offset="0.8778" stop-color="#f4a652"/><stop offset="0.8800" stop-color="#f8c85c"/><stop offset="0.8823" stop-color="#f8c85c"/><stop offset="0.8845" stop-color="#f4a652"/><stop offset="0.8913" stop-color="#f4a652"/><stop offset="0.8935" stop-color="#f8e466"/><stop offset="0.8957" stop-color="#f8e466"/><stop offset="0.8980" stop-color="#f4a652"/><stop offset="0.9002" stop-color="#f4a652"/><stop offset="0.9025" stop-color="#f8e466"/><stop offset="0.9226" stop-color="#f8e466"/><stop offset="0.9249" stop-color="#f8c85c"/><stop offset="0.9316" stop-color="#f8c85c"/><stop offset="0.9339" stop-color="#f4a652"/><stop offset="0.9406" stop-color="#f4a652"/><stop offset="0.9428" stop-color="#f8e466"/><stop offset="0.9451" stop-color="#f8e466"/><stop offset="0.9473" stop-color="#f4a652"/><stop offset="0.9496" stop-color="#f4a652"/><stop offset="0.9518" stop-color="#f8c85c"/><stop offset="0.9540" stop-color="#f8c85c"/><stop offset="0.9563" stop-color="#eaf06a"/><stop offset="0.9809" stop-color="#eaf06a"/><stop offset="0.9832" stop-color="#f8c85c"/><stop offset="1.0000" stop-color="#f8c85c"/></linearGradient>
<linearGradient id="c24" x1="0" y1="0" x2="0" y2="1"><stop offset="0.0000" stop-color="#cdf06a"/><stop offset="0.0348" stop-color="#cdf06a"/><stop offset="0.0370" stop-color="#a8ef68"/><stop offset="0.1065" stop-color="#a8ef68"/><stop offset="0.1087" stop-color="#cdf06a"/><stop offset="0.1603" stop-color="#cdf06a"/><stop offset="0.1626" stop-color="#eaf06a"/><stop offset="0.1872" stop-color="#eaf06a"/><stop offset="0.1895" stop-color="#f8e466"/><stop offset="0.2007" stop-color="#f8e466"/><stop offset="0.2029" stop-color="#eaf06a"/><stop offset="0.2141" stop-color="#eaf06a"/><stop offset="0.2164" stop-color="#f8c85c"/><stop offset="0.2276" stop-color="#f8c85c"/><stop offset="0.2298" stop-color="#f4a652"/><stop offset="0.2455" stop-color="#f4a652"/><stop offset="0.2478" stop-color="#eaf06a"/><stop offset="0.2769" stop-color="#eaf06a"/><stop offset="0.2791" stop-color="#cdf06a"/><stop offset="0.2904" stop-color="#cdf06a"/><stop offset="0.2926" stop-color="#eaf06a"/><stop offset="0.3083" stop-color="#eaf06a"/><stop offset="0.3105" stop-color="#f8e466"/><stop offset="0.3307" stop-color="#f8e466"/><stop offset="0.3330" stop-color="#eaf06a"/><stop offset="0.3442" stop-color="#eaf06a"/><stop offset="0.3464" stop-color="#f8e466"/><stop offset="0.3621" stop-color="#f8e466"/><stop offset="0.3643" stop-color="#f8c85c"/><stop offset="0.3756" stop-color="#f8c85c"/><stop offset="0.3778" stop-color="#ef874a"/><stop offset="0.3890" stop-color="#ef874a"/><stop offset="0.3913" stop-color="#f8e466"/><stop offset="0.4025" stop-color="#f8e466"/><stop offset="0.4047" stop-color="#eaf06a"/><stop offset="0.4294" stop-color="#eaf06a"/><stop offset="0.4316" stop-color="#f8c85c"/><stop offset="0.4428" stop-color="#f8c85c"/><stop offset="0.4451" stop-color="#eaf06a"/><stop offset="0.4518" stop-color="#eaf06a"/><stop offset="0.4540" stop-color="#f8c85c"/><stop offset="0.4563" stop-color="#f8c85c"/><stop offset="0.4585" stop-color="#eaf06a"/><stop offset="0.4652" stop-color="#eaf06a"/><stop offset="0.4675" stop-color="#f4a652"/><stop offset="0.4787" stop-color="#f4a652"/><stop offset="0.4809" stop-color="#f8e466"/><stop offset="0.5146" stop-color="#f8e466"/><stop offset="0.5168" stop-color="#f8c85c"/><stop offset="0.5370" stop-color="#f8c85c"/><stop offset="0.5392" stop-color="#f4a652"/><stop offset="0.5504" stop-color="#f4a652"/><stop offset="0.5527" stop-color="#f8c85c"/><stop offset="0.5549" stop-color="#f8c85c"/><stop offset="0.5572" stop-color="#f4a652"/><stop offset="0.5594" stop-color="#f4a652"/><stop offset="0.5617" stop-color="#f8c85c"/><stop offset="0.5639" stop-color="#f8c85c"/><stop offset="0.5661" stop-color="#f8e466"/><stop offset="0.5729" stop-color="#f8e466"/><stop offset="0.5751" stop-color="#eaf06a"/><stop offset="0.5774" stop-color="#eaf06a"/><stop offset="0.5796" stop-color="#e96c44"/><stop offset="0.5818" stop-color="#e96c44"/><stop offset="0.5841" stop-color="#ef874a"/><stop offset="0.5863" stop-color="#ef874a"/><stop offset="0.5886" stop-color="#eaf06a"/><stop offset="0.5908" stop-color="#eaf06a"/><stop offset="0.5930" stop-color="#f8e466"/><stop offset="0.5998" stop-color="#f8e466"/><stop offset="0.6020" stop-color="#eaf06a"/><stop offset="0.6087" stop-color="#eaf06a"/><stop offset="0.6110" stop-color="#e96c44"/><stop offset="0.6177" stop-color="#e96c44"/><stop offset="0.6200" stop-color="#ef874a"/><stop offset="0.6222" stop-color="#ef874a"/><stop offset="0.6244" stop-color="#f4a652"/><stop offset="0.6267" stop-color="#f4a652"/><stop offset="0.6289" stop-color="#e96c44"/><stop offset="0.6312" stop-color="#e96c44"/><stop offset="0.6334" stop-color="#ef874a"/><stop offset="0.6401" stop-color="#ef874a"/><stop offset="0.6424" stop-color="#f4a652"/><stop offset="0.6491" stop-color="#f4a652"/><stop offset="0.6513" stop-color="#ef874a"/><stop offset="0.6536" stop-color="#ef874a"/><stop offset="0.6558" stop-color="#e96c44"/><stop offset="0.6626" stop-color="#e96c44"/><stop offset="0.6648" stop-color="#ef874a"/><stop offset="0.6670" stop-color="#ef874a"/><stop offset="0.6693" stop-color="#f8c85c"/><stop offset="0.6715" stop-color="#f8c85c"/><stop offset="0.6738" stop-color="#f4a652"/><stop offset="0.6760" stop-color="#f4a652"/><stop offset="0.6783" stop-color="#f8c85c"/><stop offset="0.6805" stop-color="#f8c85c"/><stop offset="0.6827" stop-color="#f8e466"/><stop offset="0.6850" stop-color="#f8e466"/><stop offset="0.6872" stop-color="#f8c85c"/><stop offset="0.6895" stop-color="#f8c85c"/><stop offset="0.6917" stop-color="#eaf06a"/><stop offset="0.6939" stop-color="#eaf06a"/><stop offset="0.6962" stop-color="#f4a652"/><stop offset="0.6984" stop-color="#f4a652"/><stop offset="0.7007" stop-color="#f8c85c"/><stop offset="0.7029" stop-color="#f8c85c"/><stop offset="0.7052" stop-color="#f8e466"/><stop offset="0.7119" stop-color="#f8e466"/><stop offset="0.7141" stop-color="#f8c85c"/><stop offset="0.7164" stop-color="#f8c85c"/><stop offset="0.7186" stop-color="#eaf06a"/><stop offset="0.7253" stop-color="#eaf06a"/><stop offset="0.7276" stop-color="#f8c85c"/><stop offset="0.7298" stop-color="#f8c85c"/><stop offset="0.7321" stop-color="#f4a652"/><stop offset="0.7343" stop-color="#f4a652"/><stop offset="0.7365" stop-color="#f8c85c"/><stop offset="0.7657" stop-color="#f8c85c"/><stop offset="0.7679" stop-color="#e96c44"/><stop offset="0.7702" stop-color="#e96c44"/><stop offset="0.7724" stop-color="#e45a3c"/><stop offset="0.7747" stop-color="#e45a3c"/><stop offset="0.7769" stop-color="#e96c44"/><stop offset="0.7791" stop-color="#e96c44"/><stop offset="0.7814" stop-color="#e45a3c"/><stop offset="0.7881" stop-color="#e45a3c"/><stop offset="0.7904" stop-color="#e96c44"/><stop offset="0.7926" stop-color="#e96c44"/><stop offset="0.7948" stop-color="#e45a3c"/><stop offset="0.8061" stop-color="#e45a3c"/><stop offset="0.8083" stop-color="#e96c44"/><stop offset="0.8105" stop-color="#e96c44"/><stop offset="0.8128" stop-color="#ef874a"/><stop offset="0.8150" stop-color="#ef874a"/><stop offset="0.8173" stop-color="#e96c44"/><stop offset="0.8285" stop-color="#e96c44"/><stop offset="0.8307" stop-color="#ef874a"/><stop offset="0.8374" stop-color="#ef874a"/><stop offset="0.8397" stop-color="#e45a3c"/><stop offset="0.8419" stop-color="#e45a3c"/><stop offset="0.8442" stop-color="#f8c85c"/><stop offset="0.8509" stop-color="#f8c85c"/><stop offset="0.8531" stop-color="#f4a652"/><stop offset="0.8599" stop-color="#f4a652"/><stop offset="0.8621" stop-color="#ef874a"/><stop offset="0.8643" stop-color="#ef874a"/><stop offset="0.8666" stop-color="#f4a652"/><stop offset="0.8688" stop-color="#f4a652"/><stop offset="0.8711" stop-color="#f8c85c"/><stop offset="0.8778" stop-color="#f8c85c"/><stop offset="0.8800" stop-color="#f4a652"/><stop offset="0.8868" stop-color="#f4a652"/><stop offset="0.8890" stop-color="#ef874a"/><stop offset="0.8957" stop-color="#ef874a"/><stop offset="0.8980" stop-color="#f4a652"/><stop offset="0.9092" stop-color="#f4a652"/><stop offset="0.9114" stop-color="#f8c85c"/><stop offset="0.9182" stop-color="#f8c85c"/><stop offset="0.9204" stop-color="#f4a652"/><stop offset="0.9226" stop-color="#f4a652"/><stop offset="0.9249" stop-color="#f8c85c"/><stop offset="0.9271" stop-color="#f8c85c"/><stop offset="0.9294" stop-color="#f4a652"/><stop offset="0.9316" stop-color="#f4a652"/><stop offset="0.9339" stop-color="#f8c85c"/><stop offset="0.9361" stop-color="#f8c85c"/><stop offset="0.9383" stop-color="#f4a652"/><stop offset="0.9406" stop-color="#f4a652"/><stop offset="0.9428" stop-color="#ef874a"/><stop offset="0.9451" stop-color="#ef874a"/><stop offset="0.9473" stop-color="#f8c85c"/><stop offset="0.9496" stop-color="#f8c85c"/><stop offset="0.9518" stop-color="#f4a652"/><stop offset="0.9585" stop-color="#f4a652"/><stop offset="0.9608" stop-color="#ef874a"/><stop offset="0.9630" stop-color="#ef874a"/><stop offset="0.9652" stop-color="#f8e466"/><stop offset="0.9675" stop-color="#f8e466"/><stop offset="0.9697" stop-color="#ef874a"/><stop offset="0.9720" stop-color="#ef874a"/><stop offset="0.9742" stop-color="#f8c85c"/><stop offset="0.9765" stop-color="#f8c85c"/><stop offset="0.9787" stop-color="#f4a652"/><stop offset="0.9809" stop-color="#f4a652"/><stop offset="0.9832" stop-color="#f8c85c"/><stop offset="1.0000" stop-color="#f8c85c"/></linearGradient>
<linearGradient id="c25" x1="0" y1="0" x2="0" y2="1"><stop offset="0.0000" stop-color="#cdf06a"/><stop offset="0.1244" stop-color="#cdf06a"/><stop offset="0.1267" stop-color="#eaf06a"/><stop offset="0.1469" stop-color="#eaf06a"/><stop offset="0.1491" stop-color="#ef874a"/><stop offset="0.1603" stop-color="#ef874a"/><stop offset="0.1626" stop-color="#f8e466"/><stop offset="0.1872" stop-color="#f8e466"/><stop offset="0.1895" stop-color="#f4a652"/><stop offset="0.2007" stop-color="#f4a652"/><stop offset="0.2029" stop-color="#f8e466"/><stop offset="0.2141" stop-color="#f8e466"/><stop offset="0.2164" stop-color="#ef874a"/><stop offset="0.2455" stop-color="#ef874a"/><stop offset="0.2478" stop-color="#f8e466"/><stop offset="0.2904" stop-color="#f8e466"/><stop offset="0.2926" stop-color="#ef874a"/><stop offset="0.3083" stop-color="#ef874a"/><stop offset="0.3105" stop-color="#f8c85c"/><stop offset="0.3262" stop-color="#f8c85c"/><stop offset="0.3285" stop-color="#f8e466"/><stop offset="0.3307" stop-color="#f8e466"/><stop offset="0.3330" stop-color="#f4a652"/><stop offset="0.3397" stop-color="#f4a652"/><stop offset="0.3419" stop-color="#ef874a"/><stop offset="0.3621" stop-color="#ef874a"/><stop offset="0.3643" stop-color="#f8c85c"/><stop offset="0.3756" stop-color="#f8c85c"/><stop offset="0.3778" stop-color="#e96c44"/><stop offset="0.3890" stop-color="#e96c44"/><stop offset="0.3913" stop-color="#f8e466"/><stop offset="0.4025" stop-color="#f8e466"/><stop offset="0.4047" stop-color="#cdf06a"/><stop offset="0.4294" stop-color="#cdf06a"/><stop offset="0.4316" stop-color="#f8e466"/><stop offset="0.4428" stop-color="#f8e466"/><stop offset="0.4451" stop-color="#eaf06a"/><stop offset="0.4652" stop-color="#eaf06a"/><stop offset="0.4675" stop-color="#f8e466"/><stop offset="0.4787" stop-color="#f8e466"/><stop offset="0.4809" stop-color="#eaf06a"/><stop offset="0.5011" stop-color="#eaf06a"/><stop offset="0.5034" stop-color="#e96c44"/><stop offset="0.5146" stop-color="#e96c44"/><stop offset="0.5168" stop-color="#ef874a"/><stop offset="0.5504" stop-color="#ef874a"/><stop offset="0.5527" stop-color="#f4a652"/><stop offset="0.5549" stop-color="#f4a652"/><stop offset="0.5572" stop-color="#ef874a"/><stop offset="0.5594" stop-color="#ef874a"/><stop offset="0.5617" stop-color="#e96c44"/><stop offset="0.5639" stop-color="#e96c44"/><stop offset="0.5661" stop-color="#ef874a"/><stop offset="0.5684" stop-color="#ef874a"/><stop offset="0.5706" stop-color="#e96c44"/><stop offset="0.5729" stop-color="#e96c44"/><stop offset="0.5751" stop-color="#f4a652"/><stop offset="0.5774" stop-color="#f4a652"/><stop offset="0.5796" stop-color="#e96c44"/><stop offset="0.5818" stop-color="#e96c44"/><stop offset="0.5841" stop-color="#ef874a"/><stop offset="0.5863" stop-color="#ef874a"/><stop offset="0.5886" stop-color="#f8e466"/><stop offset="0.5908" stop-color="#f8e466"/><stop offset="0.5930" stop-color="#f8c85c"/><stop offset="0.5998" stop-color="#f8c85c"/><stop offset="0.6020" stop-color="#f8e466"/><stop offset="0.6087" stop-color="#f8e466"/><stop offset="0.6110" stop-color="#e45a3c"/><stop offset="0.6177" stop-color="#e45a3c"/><stop offset="0.6200" stop-color="#e96c44"/><stop offset="0.6222" stop-color="#e96c44"/><stop offset="0.6244" stop-color="#ef874a"/><stop offset="0.6267" stop-color="#ef874a"/><stop offset="0.6289" stop-color="#e45a3c"/><stop offset="0.6401" stop-color="#e45a3c"/><stop offset="0.6424" stop-color="#e96c44"/><stop offset="0.6491" stop-color="#e96c44"/><stop offset="0.6513" stop-color="#e45a3c"/><stop offset="0.6536" stop-color="#e45a3c"/><stop offset="0.6558" stop-color="#e96c44"/><stop offset="0.6626" stop-color="#e96c44"/><stop offset="0.6648" stop-color="#ef874a"/><stop offset="0.6715" stop-color="#ef874a"/><stop offset="0.6738" stop-color="#e96c44"/><stop offset="0.6760" stop-color="#e96c44"/><stop offset="0.6783" stop-color="#ef874a"/><stop offset="0.6805" stop-color="#ef874a"/><stop offset="0.6827" stop-color="#f4a652"/><stop offset="0.6850" stop-color="#f4a652"/><stop offset="0.6872" stop-color="#e96c44"/><stop offset="0.6895" stop-color="#e96c44"/><stop offset="0.6917" stop-color="#ef874a"/><stop offset="0.6939" stop-color="#ef874a"/><stop offset="0.6962" stop-color="#e45a3c"/><stop offset="0.6984" stop-color="#e45a3c"/><stop offset="0.7007" stop-color="#e96c44"/><stop offset="0.7074" stop-color="#e96c44"/><stop offset="0.7096" stop-color="#e45a3c"/><stop offset="0.7164" stop-color="#e45a3c"/><stop offset="0.7186" stop-color="#ef874a"/><stop offset="0.7298" stop-color="#ef874a"/><stop offset="0.7321" stop-color="#e96c44"/><stop offset="0.7343" stop-color="#e96c44"/><stop offset="0.7365" stop-color="#ef874a"/><stop offset="0.7433" stop-color="#ef874a"/><stop offset="0.7455" stop-color="#f4a652"/><stop offset="0.7657" stop-color="#f4a652"/><stop offset="0.7679" stop-color="#e45a3c"/><stop offset="0.7747" stop-color="#e45a3c"/><stop offset="0.7769" stop-color="#e96c44"/><stop offset="0.7791" stop-color="#e96c44"/><stop offset="0.7814" stop-color="#e45a3c"/><stop offset="0.7836" stop-color="#e45a3c"/><stop offset="0.7859" stop-color="#e96c44"/><stop offset="0.7881" stop-color="#e96c44"/><stop offset="0.7904" stop-color="#e45a3c"/><stop offset="0.8061" stop-color="#e45a3c"/><stop offset="0.8083" stop-color="#e96c44"/><stop offset="0.8105" stop-color="#e96c44"/><stop offset="0.8128" stop-color="#e45a3c"/><stop offset="0.8150" stop-color="#e45a3c"/><stop offset="0.8173" stop-color="#e96c44"/><stop offset="0.8195" stop-color="#e96c44"/><stop offset="0.8217" stop-color="#e45a3c"/><stop offset="0.8285" stop-color="#e45a3c"/><stop offset="0.8307" stop-color="#e96c44"/><stop offset="0.8374" stop-color="#e96c44"/><stop offset="0.8397" stop-color="#e45a3c"/><stop offset="0.8419" stop-color="#e45a3c"/><stop offset="0.8442" stop-color="#f8c85c"/><stop offset="0.8509" stop-color="#f8c85c"/><stop offset="0.8531" stop-color="#f4a652"/><stop offset="0.8599" stop-color="#f4a652"/><stop offset="0.8621" stop-color="#ef874a"/><stop offset="0.8643" stop-color="#ef874a"/><stop offset="0.8666" stop-color="#f4a652"/><stop offset="0.8868" stop-color="#f4a652"/><stop offset="0.8890" stop-color="#ef874a"/><stop offset="0.8913" stop-color="#ef874a"/><stop offset="0.8935" stop-color="#f4a652"/><stop offset="0.8957" stop-color="#f4a652"/><stop offset="0.8980" stop-color="#ef874a"/><stop offset="0.9092" stop-color="#ef874a"/><stop offset="0.9114" stop-color="#f4a652"/><stop offset="0.9182" stop-color="#f4a652"/><stop offset="0.9204" stop-color="#ef874a"/><stop offset="0.9271" stop-color="#ef874a"/><stop offset="0.9294" stop-color="#f4a652"/><stop offset="0.9361" stop-color="#f4a652"/><stop offset="0.9383" stop-color="#ef874a"/><stop offset="0.9406" stop-color="#ef874a"/><stop offset="0.9428" stop-color="#f4a652"/><stop offset="0.9451" stop-color="#f4a652"/><stop offset="0.9473" stop-color="#ef874a"/><stop offset="0.9540" stop-color="#ef874a"/><stop offset="0.9563" stop-color="#f4a652"/><stop offset="0.9630" stop-color="#f4a652"/><stop offset="0.9652" stop-color="#ef874a"/><stop offset="0.9675" stop-color="#ef874a"/><stop offset="0.9697" stop-color="#f4a652"/><stop offset="0.9765" stop-color="#f4a652"/><stop offset="0.9787" stop-color="#ef874a"/><stop offset="0.9809" stop-color="#ef874a"/><stop offset="0.9832" stop-color="#f8c85c"/><stop offset="1.0000" stop-color="#f8c85c"/></linearGradient>
<linearGradient id="c26" x1="0" y1="0" x2="0" y2="1"><stop offset="0.0000" stop-color="#cdf06a"/><stop offset="0.1244" stop-color="#cdf06a"/><stop offset="0.1267" stop-color="#eaf06a"/><stop offset="0.1469" stop-color="#eaf06a"/><stop offset="0.1491" stop-color="#f8c85c"/><stop offset="0.1603" stop-color="#f8c85c"/><stop offset="0.1626" stop-color="#f8e466"/><stop offset="0.1872" stop-color="#f8e466"/><stop offset="0.1895" stop-color="#f8c85c"/><stop offset="0.2007" stop-color="#f8c85c"/><stop offset="0.2029" stop-color="#f8e466"/><stop offset="0.2141" stop-color="#f8e466"/><stop offset="0.2164" stop-color="#f8c85c"/><stop offset="0.2455" stop-color="#f8c85c"/><stop offset="0.2478" stop-color="#f8e466"/><stop offset="0.2904" stop-color="#f8e466"/><stop offset="0.2926" stop-color="#f8c85c"/><stop offset="0.3083" stop-color="#f8c85c"/><stop offset="0.3105" stop-color="#f8e466"/><stop offset="0.3307" stop-color="#f8e466"/><stop offset="0.3330" stop-color="#f8c85c"/><stop offset="0.3756" stop-color="#f8c85c"/><stop offset="0.3778" stop-color="#ef874a"/><stop offset="0.3890" stop-color="#ef874a"/><stop offset="0.3913" stop-color="#f8e466"/><stop offset="0.4025" stop-color="#f8e466"/><stop offset="0.4047" stop-color="#eaf06a"/><stop offset="0.4294" stop-color="#eaf06a"/><stop offset="0.4316" stop-color="#f8e466"/><stop offset="0.4652" stop-color="#f8e466"/><stop offset="0.4675" stop-color="#f4a652"/><stop offset="0.4787" stop-color="#f4a652"/><stop offset="0.4809" stop-color="#f8e466"/><stop offset="0.5011" stop-color="#f8e466"/><stop offset="0.5034" stop-color="#ef874a"/><stop offset="0.5146" stop-color="#ef874a"/><stop offset="0.5168" stop-color="#f8c85c"/><stop offset="0.5370" stop-color="#f8c85c"/><stop offset="0.5392" stop-color="#ef874a"/><stop offset="0.5504" stop-color="#ef874a"/><stop offset="0.5527" stop-color="#f4a652"/><stop offset="0.5549" stop-color="#f4a652"/><stop offset="0.5572" stop-color="#ef874a"/><stop offset="0.5594" stop-color="#ef874a"/><stop offset="0.5617" stop-color="#f4a652"/><stop offset="0.5639" stop-color="#f4a652"/><stop offset="0.5661" stop-color="#f8c85c"/><stop offset="0.5684" stop-color="#f8c85c"/><stop offset="0.5706" stop-color="#f4a652"/><stop offset="0.5729" stop-color="#f4a652"/><stop offset="0.5751" stop-color="#f8e466"/><stop offset="0.5774" stop-color="#f8e466"/><stop offset="0.5796" stop-color="#e96c44"/><stop offset="0.5818" stop-color="#e96c44"/><stop offset="0.5841" stop-color="#ef874a"/><stop offset="0.5863" stop-color="#ef874a"/><stop offset="0.5886" stop-color="#f8e466"/><stop offset="0.5908" stop-color="#f8e466"/><stop offset="0.5930" stop-color="#f8c85c"/><stop offset="0.5998" stop-color="#f8c85c"/><stop offset="0.6020" stop-color="#f8e466"/><stop offset="0.6087" stop-color="#f8e466"/><stop offset="0.6110" stop-color="#e45a3c"/><stop offset="0.6177" stop-color="#e45a3c"/><stop offset="0.6200" stop-color="#e96c44"/><stop offset="0.6222" stop-color="#e96c44"/><stop offset="0.6244" stop-color="#ef874a"/><stop offset="0.6267" stop-color="#ef874a"/><stop offset="0.6289" stop-color="#e45a3c"/><stop offset="0.6312" stop-color="#e45a3c"/><stop offset="0.6334" stop-color="#ef874a"/><stop offset="0.6401" stop-color="#ef874a"/><stop offset="0.6424" stop-color="#f4a652"/><stop offset="0.6491" stop-color="#f4a652"/><stop offset="0.6513" stop-color="#ef874a"/><stop offset="0.6536" stop-color="#ef874a"/><stop offset="0.6558" stop-color="#e96c44"/><stop offset="0.6626" stop-color="#e96c44"/><stop offset="0.6648" stop-color="#ef874a"/><stop offset="0.6715" stop-color="#ef874a"/><stop offset="0.6738" stop-color="#e96c44"/><stop offset="0.6760" stop-color="#e96c44"/><stop offset="0.6783" stop-color="#ef874a"/><stop offset="0.6805" stop-color="#ef874a"/><stop offset="0.6827" stop-color="#f4a652"/><stop offset="0.6850" stop-color="#f4a652"/><stop offset="0.6872" stop-color="#ef874a"/><stop offset="0.6895" stop-color="#ef874a"/><stop offset="0.6917" stop-color="#f4a652"/><stop offset="0.6939" stop-color="#f4a652"/><stop offset="0.6962" stop-color="#e45a3c"/><stop offset="0.6984" stop-color="#e45a3c"/><stop offset="0.7007" stop-color="#ef874a"/><stop offset="0.7074" stop-color="#ef874a"/><stop offset="0.7096" stop-color="#e96c44"/><stop offset="0.7164" stop-color="#e96c44"/><stop offset="0.7186" stop-color="#f4a652"/><stop offset="0.7298" stop-color="#f4a652"/><stop offset="0.7321" stop-color="#ef874a"/><stop offset="0.7343" stop-color="#ef874a"/><stop offset="0.7365" stop-color="#f4a652"/><stop offset="0.7657" stop-color="#f4a652"/><stop offset="0.7679" stop-color="#e45a3c"/><stop offset="0.7747" stop-color="#e45a3c"/><stop offset="0.7769" stop-color="#ef874a"/><stop offset="0.7791" stop-color="#ef874a"/><stop offset="0.7814" stop-color="#e45a3c"/><stop offset="0.7881" stop-color="#e45a3c"/><stop offset="0.7904" stop-color="#e96c44"/><stop offset="0.7926" stop-color="#e96c44"/><stop offset="0.7948" stop-color="#e45a3c"/><stop offset="0.8061" stop-color="#e45a3c"/><stop offset="0.8083" stop-color="#e96c44"/><stop offset="0.8105" stop-color="#e96c44"/><stop offset="0.8128" stop-color="#e45a3c"/><stop offset="0.8150" stop-color="#e45a3c"/><stop offset="0.8173" stop-color="#e96c44"/><stop offset="0.8195" stop-color="#e96c44"/><stop offset="0.8217" stop-color="#e45a3c"/><stop offset="0.8285" stop-color="#e45a3c"/><stop offset="0.8307" stop-color="#e96c44"/><stop offset="0.8330" stop-color="#e96c44"/><stop offset="0.8352" stop-color="#e45a3c"/><stop offset="0.8419" stop-color="#e45a3c"/><stop offset="0.8442" stop-color="#f8c85c"/><stop offset="0.8643" stop-color="#f8c85c"/><stop offset="0.8666" stop-color="#f4a652"/><stop offset="0.8733" stop-color="#f4a652"/><stop offset="0.8756" stop-color="#ef874a"/><stop offset="0.8823" stop-color="#ef874a"/><stop offset="0.8845" stop-color="#f4a652"/><stop offset="0.8957" stop-color="#f4a652"/><stop offset="0.8980" stop-color="#f8c85c"/><stop offset="0.9002" stop-color="#f8c85c"/><stop offset="0.9025" stop-color="#ef874a"/><stop offset="0.9047" stop-color="#ef874a"/><stop offset="0.9070" stop-color="#f4a652"/><stop offset="0.9092" stop-color="#f4a652"/><stop offset="0.9114" stop-color="#f8c85c"/><stop offset="0.9226" stop-color="#f8c85c"/><stop offset="0.9249" stop-color="#ef874a"/><stop offset="0.9316" stop-color="#ef874a"/><stop offset="0.9339" stop-color="#f4a652"/><stop offset="0.9406" stop-color="#f4a652"/><stop offset="0.9428" stop-color="#f8c85c"/><stop offset="0.9451" stop-color="#f8c85c"/><stop offset="0.9473" stop-color="#ef874a"/><stop offset="0.9540" stop-color="#ef874a"/><stop offset="0.9563" stop-color="#e96c44"/><stop offset="0.9585" stop-color="#e96c44"/><stop offset="0.9608" stop-color="#ef874a"/><stop offset="0.9630" stop-color="#ef874a"/><stop offset="0.9652" stop-color="#f4a652"/><stop offset="0.9675" stop-color="#f4a652"/><stop offset="0.9697" stop-color="#ef874a"/><stop offset="0.9720" stop-color="#ef874a"/><stop offset="0.9742" stop-color="#f8c85c"/><stop offset="0.9765" stop-color="#f8c85c"/><stop offset="0.9787" stop-color="#f4a652"/><stop offset="0.9809" stop-color="#f4a652"/><stop offset="0.9832" stop-color="#f8c85c"/><stop offset="1.0000" stop-color="#f8c85c"/></linearGradient>
<linearGradient id="cb" x1="0" y1="0" x2="0" y2="1">
<stop offset="0" stop-color="#9ef250"/><stop offset="0.25" stop-color="#b8f048"/>
<stop offset="0.5" stop-color="#f0ec34"/><stop offset="0.7" stop-color="#e8a632"/>
<stop offset="0.85" stop-color="#dc6a30"/><stop offset="1" stop-color="#d02424"/></linearGradient></defs>
<g shape-rendering="crispEdges">
<rect x="30" y="55.5" width="13.06" height="223" fill="url(#c0)"/>
<rect x="43.04" y="55.5" width="13.06" height="223" fill="url(#c1)"/>
<rect x="56.07" y="55.5" width="13.06" height="223" fill="url(#c2)"/>
<rect x="69.11" y="55.5" width="13.06" height="223" fill="url(#c3)"/>
<rect x="82.15" y="55.5" width="13.06" height="223" fill="url(#c4)"/>
<rect x="95.19" y="55.5" width="13.06" height="223" fill="url(#c5)"/>
<rect x="108.22" y="55.5" width="13.06" height="223" fill="url(#c6)"/>
<rect x="121.26" y="55.5" width="13.06" height="223" fill="url(#c7)"/>
<rect x="134.3" y="55.5" width="13.06" height="223" fill="url(#c8)"/>
<rect x="147.33" y="55.5" width="13.06" height="223" fill="url(#c9)"/>
<rect x="160.37" y="55.5" width="13.06" height="223" fill="url(#c10)"/>
<rect x="173.41" y="55.5" width="13.06" height="223" fill="url(#c11)"/>
<rect x="186.44" y="55.5" width="13.06" height="223" fill="url(#c12)"/>
<rect x="199.48" y="55.5" width="13.06" height="223" fill="url(#c13)"/>
<rect x="212.52" y="55.5" width="13.06" height="223" fill="url(#c14)"/>
<rect x="225.56" y="55.5" width="13.06" height="223" fill="url(#c15)"/>
<rect x="238.59" y="55.5" width="13.06" height="223" fill="url(#c16)"/>
<rect x="251.63" y="55.5" width="13.06" height="223" fill="url(#c17)"/>
<rect x="264.67" y="55.5" width="13.06" height="223" fill="url(#c18)"/>
<rect x="277.7" y="55.5" width="13.06" height="223" fill="url(#c19)"/>
<rect x="290.74" y="55.5" width="13.06" height="223" fill="url(#c20)"/>
<rect x="303.78" y="55.5" width="13.06" height="223" fill="url(#c21)"/>
<rect x="316.81" y="55.5" width="13.06" height="223" fill="url(#c22)"/>
<rect x="329.85" y="55.5" width="13.06" height="223" fill="url(#c23)"/>
<rect x="342.89" y="55.5" width="13.06" height="223" fill="url(#c24)"/>
<rect x="355.93" y="55.5" width="13.06" height="223" fill="url(#c25)"/>
<rect x="368.96" y="55.5" width="13.06" height="223" fill="url(#c26)"/>
</g>
<rect x="30" y="48.9" width="156.44" height="5.1" fill="#f6bccb"/>
<rect x="186.44" y="48.9" width="13.04" height="5.1" fill="#03077f"/>
<rect x="199.48" y="48.9" width="26.07" height="5.1" fill="#86f2f6"/>
<rect x="225.56" y="48.9" width="52.15" height="5.1" fill="#03077f"/>
<rect x="277.7" y="48.9" width="52.15" height="5.1" fill="#86f2f6"/>
<rect x="329.85" y="48.9" width="26.07" height="5.1" fill="#03077f"/>
<rect x="355.93" y="48.9" width="26.07" height="5.1" fill="#86f2f6"/>
<path d="M36.52 41.3H49.56M36.52 41.3V48.6M49.56 41.3V48.6M43.04 40.5V41.3M62.59 43.7H75.63M62.59 43.7V48.6M75.63 43.7V48.6M69.11 42.5V43.7M88.67 43.3H101.7M88.67 43.3V48.6M101.7 43.3V48.6M95.19 42.5V43.3M69.11 42.5H95.19M82.15 40.5V42.5M127.78 42.7H140.81M127.78 42.7V48.6M140.81 42.7V48.6M134.3 40.8V42.7M114.74 40.8H134.3M114.74 40.8V48.6M124.52 40.5V40.8M43.04 40.5H124.52M87.5 35.2V40.5M166.89 39.2H179.93M166.89 39.2V48.6M179.93 39.2V48.6M173.41 36.2V39.2M153.85 36.2H173.41M153.85 36.2V48.6M163.63 35.2V36.2M87.5 35.2H163.63M125.56 19.5V35.2M206 40.2H219.04M206 40.2V48.6M219.04 40.2V48.6M212.52 38.3V40.2M258.15 42.2H271.19M258.15 42.2V48.6M271.19 42.2V48.6M264.67 40.6V42.2M245.11 40.6H264.67M245.11 40.6V48.6M254.89 39.4V40.6M232.07 39.4H254.89M232.07 39.4V48.6M243.48 38.3V39.4M212.52 38.3H243.48M228 36.2V38.3M192.96 36.2H228M192.96 36.2V48.6M210.48 27V36.2M284.22 41.3H297.26M284.22 41.3V48.6M297.26 41.3V48.6M290.74 38.3V41.3M310.3 39.5H323.33M310.3 39.5V48.6M323.33 39.5V48.6M316.81 38.3V39.5M290.74 38.3H316.81M303.78 34.2V38.3M336.37 41H349.41M336.37 41V48.6M349.41 41V48.6M342.89 37.2V41M362.44 40.2H375.48M362.44 40.2V48.6M375.48 40.2V48.6M368.96 37.2V40.2M342.89 37.2H368.96M355.93 34.2V37.2M303.78 34.2H355.93M329.85 27V34.2M210.48 27H329.85M270.17 19.5V27M125.56 19.5H270.17" stroke="#3a3a3a" stroke-width="0.7" fill="none"/>
<path d="M24.92 55.81V56.43M24.92 55.81H30M24.92 56.43H30M25.21 57.05V57.67M25.21 57.05H30M25.21 57.67H30M23.88 57.36V58.29M23.88 57.36H25.21M23.88 58.29H30M22.27 56.12V57.82M22.27 56.12H24.92M22.27 57.82H23.88M24.43 58.91V59.53M24.43 58.91H30M24.43 59.53H30M24.14 60.15V60.77M24.14 60.15H30M24.14 60.77H30M23.64 60.46V61.38M23.64 60.46H24.14M23.64 61.38H30M23.14 59.22V60.92M23.14 59.22H24.43M23.14 60.92H23.64M14.5 56.97V60.07M14.5 56.97H22.27M14.5 60.07H23.14M24.48 62V62.62M24.48 62H30M24.48 62.62H30M23.91 62.31V63.24M23.91 62.31H24.48M23.91 63.24H30M21.64 62.78V63.86M21.64 62.78H23.91M21.64 63.86H30M24.37 64.48V65.1M24.37 64.48H30M24.37 65.1H30M26.09 65.72V66.34M26.09 65.72H30M26.09 66.34H30M22.8 64.79V66.03M22.8 64.79H24.37M22.8 66.03H26.09M22.19 65.41V66.96M22.19 65.41H22.8M22.19 66.96H30M20.71 63.32V66.19M20.71 63.32H21.64M20.71 66.19H22.19M23.87 68.2V68.82M23.87 68.2H30M23.87 68.82H30M23.23 67.58V68.51M23.23 67.58H30M23.23 68.51H23.87M25.73 70.06V70.68M25.73 70.06H30M25.73 70.68H30M23.02 69.44V70.37M23.02 69.44H30M23.02 70.37H25.73M21.85 68.04V69.9M21.85 68.04H23.23M21.85 69.9H23.02M17 64.75V68.97M17 64.75H20.71M17 68.97H21.85M25.88 71.3V71.92M25.88 71.3H30M25.88 71.92H30M24.1 73.15V73.77M24.1 73.15H30M24.1 73.77H30M23.6 72.53V73.46M23.6 72.53H30M23.6 73.46H24.1M22.96 71.61V73M22.96 71.61H25.88M22.96 73H23.6M24.35 74.39V75.01M24.35 74.39H30M24.35 75.01H30M22.47 74.7V75.63M22.47 74.7H24.35M22.47 75.63H30M16 72.3V75.17M16 72.3H22.96M16 75.17H22.47M11.4 66.86V73.73M11.4 66.86H17M11.4 73.73H16M7.4 58.52V70.3M7.4 58.52H14.5M7.4 70.3H11.4M25.04 76.25V76.87M25.04 76.25H30M25.04 76.87H30M25.24 77.49V78.11M25.24 77.49H30M25.24 78.11H30M26.09 78.73V79.35M26.09 78.73H30M26.09 79.35H30M24.81 79.04V79.97M24.81 79.04H26.09M24.81 79.97H30M21.95 79.5V80.59M21.95 79.5H24.81M21.95 80.59H30M21.45 77.8V80.05M21.45 77.8H25.24M21.45 80.05H21.95M20.09 76.56V78.92M20.09 76.56H25.04M20.09 78.92H21.45M23.74 81.83V82.45M23.74 81.83H30M23.74 82.45H30M22.65 82.14V83.07M22.65 82.14H23.74M22.65 83.07H30M24.38 84.3V84.92M24.38 84.3H30M24.38 84.92H30M23.88 84.61V85.54M23.88 84.61H24.38M23.88 85.54H30M22.1 83.68V85.08M22.1 83.68H30M22.1 85.08H23.88M21.37 82.6V84.38M21.37 82.6H22.65M21.37 84.38H22.1M20.36 81.21V83.49M20.36 81.21H30M20.36 83.49H21.37M26.07 86.16V86.78M26.07 86.16H30M26.07 86.78H30M19.86 82.35V86.47M19.86 82.35H20.36M19.86 86.47H26.07M19.36 77.74V84.41M19.36 77.74H20.09M19.36 84.41H19.86M24.63 87.4V88.02M24.63 87.4H30M24.63 88.02H30M23.98 87.71V88.64M23.98 87.71H24.63M23.98 88.64H30M25.39 89.88V90.5M25.39 89.88H30M25.39 90.5H30M24.12 91.12V91.74M24.12 91.12H30M24.12 91.74H30M25.43 92.36V92.98M25.43 92.36H30M25.43 92.98H30M22.23 91.43V92.67M22.23 91.43H24.12M22.23 92.67H25.43M21.73 90.19V92.05M21.73 90.19H25.39M21.73 92.05H22.23M21.23 89.26V91.12M21.23 89.26H30M21.23 91.12H21.73M19.37 88.18V90.19M19.37 88.18H23.98M19.37 90.19H21.23M23.74 93.6V94.22M23.74 93.6H30M23.74 94.22H30M24.49 96.69V97.31M24.49 96.69H30M24.49 97.31H30M23.37 96.07V97M23.37 96.07H30M23.37 97H24.49M22.87 95.45V96.54M22.87 95.45H30M22.87 96.54H23.37M21.88 94.83V96M21.88 94.83H30M21.88 96H22.87M21.38 93.91V95.42M21.38 93.91H23.74M21.38 95.42H21.88M25.19 98.55V99.17M25.19 98.55H30M25.19 99.17H30M24.69 97.93V98.86M24.69 97.93H30M24.69 98.86H25.19M22.27 98.4V99.79M22.27 98.4H24.69M22.27 99.79H30M20 94.66V99.09M20 94.66H21.38M20 99.09H22.27M18.4 89.18V96.88M18.4 89.18H19.37M18.4 96.88H20M16.5 81.08V93.03M16.5 81.08H19.36M16.5 93.03H18.4M25.6 100.41V101.03M25.6 100.41H30M25.6 101.03H30M25.9 101.65V102.27M25.9 101.65H30M25.9 102.27H30M23.37 100.72V101.96M23.37 100.72H25.6M23.37 101.96H25.9M25.86 102.89V103.51M25.86 102.89H30M25.86 103.51H30M21.12 101.34V103.2M21.12 101.34H23.37M21.12 103.2H25.86M24.62 104.13V104.75M24.62 104.13H30M24.62 104.75H30M25.1 105.37V105.98M25.1 105.37H30M25.1 105.98H30M23.5 104.44V105.67M23.5 104.44H24.62M23.5 105.67H25.1M25.46 106.6V107.22M25.46 106.6H30M25.46 107.22H30M25.09 107.84V108.46M25.09 107.84H30M25.09 108.46H30M23.71 106.91V108.15M23.71 106.91H25.46M23.71 108.15H25.09M23 107.53V109.08M23 107.53H23.71M23 109.08H30M19.53 105.06V108.31M19.53 105.06H23.5M19.53 108.31H23M19.03 102.27V106.68M19.03 102.27H21.12M19.03 106.68H19.53M24.87 109.7V110.32M24.87 109.7H30M24.87 110.32H30M25.85 110.94V111.56M25.85 110.94H30M25.85 111.56H30M22.15 110.01V111.25M22.15 110.01H24.87M22.15 111.25H25.85M24.9 112.18V112.8M24.9 112.18H30M24.9 112.8H30M24.28 112.49V113.42M24.28 112.49H24.9M24.28 113.42H30M24.52 114.04V114.66M24.52 114.04H30M24.52 114.66H30M22.6 112.95V114.35M22.6 112.95H24.28M22.6 114.35H24.52M20.94 110.63V113.65M20.94 110.63H22.15M20.94 113.65H22.6M24.91 115.28V115.9M24.91 115.28H30M24.91 115.9H30M24.41 115.59V116.52M24.41 115.59H24.91M24.41 116.52H30M23.85 117.75V118.37M23.85 117.75H30M23.85 118.37H30M24.21 118.99V119.61M24.21 118.99H30M24.21 119.61H30M24.46 120.85V121.47M24.46 120.85H30M24.46 121.47H30M23.78 120.23V121.16M23.78 120.23H30M23.78 121.16H24.46M23.28 119.3V120.7M23.28 119.3H24.21M23.28 120.7H23.78M22.19 118.06V120M22.19 118.06H23.85M22.19 120H23.28M21.69 117.13V119.03M21.69 117.13H30M21.69 119.03H22.19M18.61 116.05V118.08M18.61 116.05H24.41M18.61 118.08H21.69M16.9 112.14V117.07M16.9 112.14H20.94M16.9 117.07H18.61M16 104.47V114.6M16 104.47H19.03M16 114.6H16.9M13.4 87.05V109.54M13.4 87.05H16.5M13.4 109.54H16M24.84 122.71V123.33M24.84 122.71H30M24.84 123.33H30M24.34 123.02V123.95M24.34 123.02H24.84M24.34 123.95H30M25.27 125.19V125.81M25.27 125.19H30M25.27 125.81H30M24.77 124.57V125.5M24.77 124.57H30M24.77 125.5H25.27M24.83 127.05V127.67M24.83 127.05H30M24.83 127.67H30M24.11 126.43V127.36M24.11 126.43H30M24.11 127.36H24.83M22.28 125.03V126.89M22.28 125.03H24.77M22.28 126.89H24.11M20.14 123.48V125.96M20.14 123.48H24.34M20.14 125.96H22.28M19.64 122.09V124.72M19.64 122.09H30M19.64 124.72H20.14M24.49 128.28V128.9M24.49 128.28H30M24.49 128.9H30M24.69 129.52V130.14M24.69 129.52H30M24.69 130.14H30M23.99 128.59V129.83M23.99 128.59H24.49M23.99 129.83H24.69M24.17 131.38V132M24.17 131.38H30M24.17 132H30M22.85 130.76V131.69M22.85 130.76H30M22.85 131.69H24.17M21.9 129.21V131.23M21.9 129.21H23.99M21.9 131.23H22.85M21.4 130.22V132.62M21.4 130.22H21.9M21.4 132.62H30M19.14 123.41V131.42M19.14 123.41H19.64M19.14 131.42H21.4M25.88 133.24V133.86M25.88 133.24H30M25.88 133.86H30M25.03 135.1V135.72M25.03 135.1H30M25.03 135.72H30M24.53 134.48V135.41M24.53 134.48H30M24.53 135.41H25.03M23.27 133.55V134.94M23.27 133.55H25.88M23.27 134.94H24.53M24.99 136.34V136.96M24.99 136.34H30M24.99 136.96H30M21.44 134.25V136.65M21.44 134.25H23.27M21.44 136.65H24.99M25.05 138.82V139.43M25.05 138.82H30M25.05 139.43H30M24.55 138.2V139.12M24.55 138.2H30M24.55 139.12H25.05M23.32 137.58V138.66M23.32 137.58H30M23.32 138.66H24.55M20.1 135.45V138.12M20.1 135.45H21.44M20.1 138.12H23.32M25.35 140.05V140.67M25.35 140.05H30M25.35 140.67H30M25.52 141.29V141.91M25.52 141.29H30M25.52 141.91H30M23.23 140.36V141.6M23.23 140.36H25.35M23.23 141.6H25.52M24.09 142.53V143.15M24.09 142.53H30M24.09 143.15H30M24.93 143.77V144.39M24.93 143.77H30M24.93 144.39H30M22.66 142.84V144.08M22.66 142.84H24.09M22.66 144.08H24.93M20.63 140.98V143.46M20.63 140.98H23.23M20.63 143.46H22.66M25.06 145.01V145.63M25.06 145.01H30M25.06 145.63H30M24.56 145.32V146.25M24.56 145.32H25.06M24.56 146.25H30M24 145.78V146.87M24 145.78H24.56M24 146.87H30M18.91 142.22V146.33M18.91 142.22H20.63M18.91 146.33H24M18.41 136.78V144.27M18.41 136.78H20.1M18.41 144.27H18.91M25.61 147.49V148.11M25.61 147.49H30M25.61 148.11H30M16.7 140.53V147.8M16.7 140.53H18.41M16.7 147.8H25.61M16.2 127.41V144.16M16.2 127.41H19.14M16.2 144.16H16.7M24.69 148.73V149.35M24.69 148.73H30M24.69 149.35H30M24.13 149.04V149.97M24.13 149.04H24.69M24.13 149.97H30M24.84 150.58V151.2M24.84 150.58H30M24.84 151.2H30M24 151.82V152.44M24 151.82H30M24 152.44H30M21.76 150.89V152.13M21.76 150.89H24.84M21.76 152.13H24M20.87 149.5V151.51M20.87 149.5H24.13M20.87 151.51H21.76M25.92 153.06V153.68M25.92 153.06H30M25.92 153.68H30M23.23 153.37V154.3M23.23 153.37H25.92M23.23 154.3H30M25.35 156.16V156.78M25.35 156.16H30M25.35 156.78H30M22.94 155.54V156.47M22.94 155.54H30M22.94 156.47H25.35M22.33 154.92V156M22.33 154.92H30M22.33 156H22.94M21.83 153.84V155.46M21.83 153.84H23.23M21.83 155.46H22.33M19.29 150.51V154.65M19.29 150.51H20.87M19.29 154.65H21.83M18.79 152.58V157.4M18.79 152.58H19.29M18.79 157.4H30M24.9 158.02V158.64M24.9 158.02H30M24.9 158.64H30M25.22 159.88V160.5M25.22 159.88H30M25.22 160.5H30M23.74 159.26V160.19M23.74 159.26H30M23.74 160.19H25.22M25.14 161.73V162.35M25.14 161.73H30M25.14 162.35H30M24.64 161.12V162.04M24.64 161.12H30M24.64 162.04H25.14M23.66 161.58V162.97M23.66 161.58H24.64M23.66 162.97H30M24.26 163.59V164.21M24.26 163.59H30M24.26 164.21H30M21.33 162.28V163.9M21.33 162.28H23.66M21.33 163.9H24.26M20.83 159.72V163.09M20.83 159.72H23.74M20.83 163.09H21.33M23.93 164.83V165.45M23.93 164.83H30M23.93 165.45H30M25.7 166.07V166.69M25.7 166.07H30M25.7 166.69H30M22.98 165.14V166.38M22.98 165.14H23.93M22.98 166.38H25.7M24.27 167.31V167.93M24.27 167.31H30M24.27 167.93H30M22.48 165.76V167.62M22.48 165.76H22.98M22.48 167.62H24.27M18.99 161.41V166.69M18.99 161.41H20.83M18.99 166.69H22.48M18.2 158.33V164.05M18.2 158.33H24.9M18.2 164.05H18.99M16.2 154.99V161.19M16.2 154.99H18.79M16.2 161.19H18.2M15.7 135.79V158.09M15.7 135.79H16.2M15.7 158.09H16.2M25.63 168.55V169.17M25.63 168.55H30M25.63 169.17H30M25.17 169.79V170.41M25.17 169.79H30M25.17 170.41H30M23.63 170.1V171.03M23.63 170.1H25.17M23.63 171.03H30M22.14 168.86V170.56M22.14 168.86H25.63M22.14 170.56H23.63M24.94 172.88V173.5M24.94 172.88H30M24.94 173.5H30M24.31 172.27V173.19M24.31 172.27H30M24.31 173.19H24.94M24.65 174.74V175.36M24.65 174.74H30M24.65 175.36H30M24.15 175.05V175.98M24.15 175.05H24.65M24.15 175.98H30M22.63 174.12V175.52M22.63 174.12H30M22.63 175.52H24.15M22.13 172.73V174.82M22.13 172.73H24.31M22.13 174.82H22.63M23.93 176.6V177.22M23.93 176.6H30M23.93 177.22H30M21.14 173.78V176.91M21.14 173.78H22.13M21.14 176.91H23.93M20.64 171.65V175.34M20.64 171.65H30M20.64 175.34H21.14M19.7 169.71V173.49M19.7 169.71H22.14M19.7 173.49H20.64M25.49 177.84V178.46M25.49 177.84H30M25.49 178.46H30M24.4 178.15V179.08M24.4 178.15H25.49M24.4 179.08H30M24.32 179.7V180.32M24.32 179.7H30M24.32 180.32H30M23.18 178.61V180.01M23.18 178.61H24.4M23.18 180.01H24.32M25.07 180.94V181.56M25.07 180.94H30M25.07 181.56H30M20.7 179.31V181.25M20.7 179.31H23.18M20.7 181.25H25.07M25.83 182.18V182.8M25.83 182.18H30M25.83 182.8H30M26.08 183.42V184.03M26.08 183.42H30M26.08 184.03H30M23.33 182.49V183.72M23.33 182.49H25.83M23.33 183.72H26.08M24.14 185.27V185.89M24.14 185.27H30M24.14 185.89H30M22.99 184.65V185.58M22.99 184.65H30M22.99 185.58H24.14M21.77 185.12V186.51M21.77 185.12H22.99M21.77 186.51H30M21.2 183.11V185.82M21.2 183.11H23.33M21.2 185.82H21.77M24.89 187.13V187.75M24.89 187.13H30M24.89 187.75H30M24.31 187.44V188.37M24.31 187.44H24.89M24.31 188.37H30M20.7 184.46V187.91M20.7 184.46H21.2M20.7 187.91H24.31M20.2 180.28V186.18M20.2 180.28H20.7M20.2 186.18H20.7M19.7 183.23V188.99M19.7 183.23H20.2M19.7 188.99H30M19.2 171.6V186.11M19.2 171.6H19.7M19.2 186.11H19.7M24.54 190.23V190.85M24.54 190.23H30M24.54 190.85H30M24.04 190.54V191.47M24.04 190.54H24.54M24.04 191.47H30M23.54 191V192.09M23.54 191H24.04M23.54 192.09H30M24.89 193.33V193.95M24.89 193.33H30M24.89 193.95H30M22.73 192.71V193.64M22.73 192.71H30M22.73 193.64H24.89M22.23 191.55V193.17M22.23 191.55H23.54M22.23 193.17H22.73M24.96 194.57V195.18M24.96 194.57H30M24.96 195.18H30M25.49 195.8V196.42M25.49 195.8H30M25.49 196.42H30M24.7 196.11V197.04M24.7 196.11H25.49M24.7 197.04H30M23.03 196.58V197.66M23.03 196.58H24.7M23.03 197.66H30M21.73 194.88V197.12M21.73 194.88H24.96M21.73 197.12H23.03M21.2 192.36V196M21.2 192.36H22.23M21.2 196H21.73M20.7 189.61V194.18M20.7 189.61H30M20.7 194.18H21.2M20.2 191.89V198.28M20.2 191.89H20.7M20.2 198.28H30M19.7 195.09V198.9M19.7 195.09H20.2M19.7 198.9H30M25.44 199.52V200.14M25.44 199.52H30M25.44 200.14H30M23.23 199.83V200.76M23.23 199.83H25.44M23.23 200.76H30M24.7 201.38V202M24.7 201.38H30M24.7 202H30M24.2 201.69V202.62M24.2 201.69H24.7M24.2 202.62H30M24.7 204.48V205.1M24.7 204.48H30M24.7 205.1H30M24.17 203.86V204.79M24.17 203.86H30M24.17 204.79H24.7M22.03 203.24V204.32M22.03 203.24H30M22.03 204.32H24.17M21.53 203.78V205.72M21.53 203.78H22.03M21.53 205.72H30M20.7 202.15V204.75M20.7 202.15H24.2M20.7 204.75H21.53M20.2 200.3V203.45M20.2 200.3H23.23M20.2 203.45H20.7M24.33 206.33V206.95M24.33 206.33H30M24.33 206.95H30M25.1 207.57V208.19M25.1 207.57H30M25.1 208.19H30M21.97 206.64V207.88M21.97 206.64H24.33M21.97 207.88H25.1M25.38 209.43V210.05M25.38 209.43H30M25.38 210.05H30M23.94 209.74V210.67M23.94 209.74H25.38M23.94 210.67H30M23.19 208.81V210.21M23.19 208.81H30M23.19 210.21H23.94M22.69 209.51V211.29M22.69 209.51H23.19M22.69 211.29H30M21.24 210.4V211.91M21.24 210.4H22.69M21.24 211.91H30M20.2 207.26V211.15M20.2 207.26H21.97M20.2 211.15H21.24M19.7 201.87V209.21M19.7 201.87H20.2M19.7 209.21H20.2M19.2 196.99V205.54M19.2 196.99H19.7M19.2 205.54H19.7M18.7 178.86V201.27M18.7 178.86H19.2M18.7 201.27H19.2M25.13 213.77V214.39M25.13 213.77H30M25.13 214.39H30M22.9 214.08V215.01M22.9 214.08H25.13M22.9 215.01H30M25.09 215.63V216.25M25.09 215.63H30M25.09 216.25H30M23.4 215.94V216.87M23.4 215.94H25.09M23.4 216.87H30M22.9 216.4V217.48M22.9 216.4H23.4M22.9 217.48H30M22.4 214.54V216.94M22.4 214.54H22.9M22.4 216.94H22.9M24.77 218.1V218.72M24.77 218.1H30M24.77 218.72H30M21.9 215.74V218.41M21.9 215.74H22.4M21.9 218.41H24.77M23.88 219.34V219.96M23.88 219.34H30M23.88 219.96H30M21.4 217.08V219.65M21.4 217.08H21.9M21.4 219.65H23.88M20.9 213.15V218.37M20.9 213.15H30M20.9 218.37H21.4M20.4 215.76V220.58M20.4 215.76H20.9M20.4 220.58H30M19.9 212.53V218.17M19.9 212.53H30M19.9 218.17H20.4M25.34 221.2V221.82M25.34 221.2H30M25.34 221.82H30M25.88 223.68V224.3M25.88 223.68H30M25.88 224.3H30M24.05 223.06V223.99M24.05 223.06H30M24.05 223.99H25.88M23.43 222.44V223.52M23.43 222.44H30M23.43 223.52H24.05M25.96 224.92V225.54M25.96 224.92H30M25.96 225.54H30M25.89 226.16V226.78M25.89 226.16H30M25.89 226.78H30M22.39 225.23V226.47M22.39 225.23H25.96M22.39 226.47H25.89M20.95 222.98V225.85M20.95 222.98H23.43M20.95 225.85H22.39M20.4 224.41V227.4M20.4 224.41H20.95M20.4 227.4H30M19.9 221.51V225.91M19.9 221.51H25.34M19.9 225.91H20.4M19.4 215.35V223.71M19.4 215.35H19.9M19.4 223.71H19.9M25.61 228.63V229.25M25.61 228.63H30M25.61 229.25H30M23.4 228.94V229.87M23.4 228.94H25.61M23.4 229.87H30M23.75 230.49V231.11M23.75 230.49H30M23.75 231.11H30M26.02 231.73V232.35M26.02 231.73H30M26.02 232.35H30M23.71 232.04V232.97M23.71 232.04H26.02M23.71 232.97H30M21.4 230.8V232.51M21.4 230.8H23.75M21.4 232.51H23.71M24.42 234.21V234.83M24.42 234.21H30M24.42 234.83H30M23.92 234.52V235.45M23.92 234.52H24.42M23.92 235.45H30M23.42 233.59V234.98M23.42 233.59H30M23.42 234.98H23.92M20.9 231.65V234.29M20.9 231.65H21.4M20.9 234.29H23.42M20.4 229.41V232.97M20.4 229.41H23.4M20.4 232.97H20.9M24.8 236.07V236.69M24.8 236.07H30M24.8 236.69H30M24.03 237.93V238.55M24.03 237.93H30M24.03 238.55H30M23.31 237.31V238.24M23.31 237.31H30M23.31 238.24H24.03M21.94 236.38V237.77M21.94 236.38H24.8M21.94 237.77H23.31M24.68 239.17V239.78M24.68 239.17H30M24.68 239.78H30M24.18 239.48V240.4M24.18 239.48H24.68M24.18 240.4H30M20.9 237.07V239.94M20.9 237.07H21.94M20.9 239.94H24.18M24.12 241.64V242.26M24.12 241.64H30M24.12 242.26H30M23.62 241.02V241.95M23.62 241.02H30M23.62 241.95H24.12M23.12 241.49V242.88M23.12 241.49H23.62M23.12 242.88H30M20.4 238.51V242.19M20.4 238.51H20.9M20.4 242.19H23.12M19.9 231.19V240.35M19.9 231.19H20.4M19.9 240.35H20.4M19.4 228.02V235.77M19.4 228.02H30M19.4 235.77H19.9M18.9 219.53V231.89M18.9 219.53H19.4M18.9 231.89H19.4M24.63 244.74V245.36M24.63 244.74H30M24.63 245.36H30M24 244.12V245.05M24 244.12H30M24 245.05H24.63M24.85 246.6V247.22M24.85 246.6H30M24.85 247.22H30M24.9 248.46V249.08M24.9 248.46H30M24.9 249.08H30M25.4 249.7V250.32M25.4 249.7H30M25.4 250.32H30M24.9 250.01V250.93M24.9 250.01H25.4M24.9 250.93H30M24.4 248.77V250.47M24.4 248.77H24.9M24.4 250.47H24.9M25.01 251.55V252.17M25.01 251.55H30M25.01 252.17H30M23.9 249.62V251.86M23.9 249.62H24.4M23.9 251.86H25.01M26.08 253.41V254.03M26.08 253.41H30M26.08 254.03H30M24.52 252.79V253.72M24.52 252.79H30M24.52 253.72H26.08M23.4 250.74V253.26M23.4 250.74H23.9M23.4 253.26H24.52M22.9 252V254.65M22.9 252H23.4M22.9 254.65H30M25.4 255.27V255.89M25.4 255.27H30M25.4 255.89H30M25.4 256.51V257.13M25.4 256.51H30M25.4 257.13H30M24.9 255.58V256.82M24.9 255.58H25.4M24.9 256.82H25.4M25.48 257.75V258.37M25.48 257.75H30M25.48 258.37H30M24.4 256.2V258.06M24.4 256.2H24.9M24.4 258.06H25.48M23.9 257.13V258.99M23.9 257.13H24.4M23.9 258.99H30M23.4 258.06V259.61M23.4 258.06H23.9M23.4 259.61H30M22.9 258.83V260.23M22.9 258.83H23.4M22.9 260.23H30M22.4 253.33V259.53M22.4 253.33H22.9M22.4 259.53H22.9M21.9 247.84V256.43M21.9 247.84H30M21.9 256.43H22.4M21.4 246.91V252.13M21.4 246.91H24.85M21.4 252.13H21.9M20.9 249.52V260.85M20.9 249.52H21.4M20.9 260.85H30M20.4 245.98V255.18M20.4 245.98H30M20.4 255.18H20.9M19.9 244.59V250.58M19.9 244.59H24M19.9 250.58H20.4M19.4 243.5V247.58M19.4 243.5H30M19.4 247.58H19.9M25.9 262.08V262.7M25.9 262.08H30M25.9 262.7H30M24.16 263.32V263.94M24.16 263.32H30M24.16 263.94H30M23.66 262.39V263.63M23.66 262.39H25.9M23.66 263.63H24.16M25.97 264.56V265.18M25.97 264.56H30M25.97 265.18H30M26.01 265.8V266.42M26.01 265.8H30M26.01 266.42H30M22.33 264.87V266.11M22.33 264.87H25.97M22.33 266.11H26.01M20.65 263.01V265.49M20.65 263.01H23.66M20.65 265.49H22.33M25.75 267.66V268.28M25.75 267.66H30M25.75 268.28H30M23.18 267.97V268.9M23.18 267.97H25.75M23.18 268.9H30M24.89 270.76V271.38M24.89 270.76H30M24.89 271.38H30M24.39 270.14V271.07M24.39 270.14H30M24.39 271.07H24.89M23.89 269.52V270.6M23.89 269.52H30M23.89 270.6H24.39M25.51 272V272.62M25.51 272H30M25.51 272.62H30M22.9 270.06V272.31M22.9 270.06H23.89M22.9 272.31H25.51M25.24 273.85V274.47M25.24 273.85H30M25.24 274.47H30M23.98 273.23V274.16M23.98 273.23H30M23.98 274.16H25.24M22.4 271.18V273.7M22.4 271.18H22.9M22.4 273.7H23.98M21.9 268.43V272.44M21.9 268.43H23.18M21.9 272.44H22.4M21.4 270.44V275.09M21.4 270.44H21.9M21.4 275.09H30M20.9 267.04V272.77M20.9 267.04H30M20.9 272.77H21.4M24.13 276.33V276.95M24.13 276.33H30M24.13 276.95H30M24.67 277.57V278.19M24.67 277.57H30M24.67 278.19H30M21.83 276.64V277.88M21.83 276.64H24.13M21.83 277.88H24.67M21.08 275.71V277.26M21.08 275.71H30M21.08 277.26H21.83M20.4 269.9V276.49M20.4 269.9H20.9M20.4 276.49H21.08M19.9 264.25V273.19M19.9 264.25H20.65M19.9 273.19H20.4M19.4 261.47V268.72M19.4 261.47H30M19.4 268.72H19.9M18.9 245.54V265.09M18.9 245.54H19.4M18.9 265.09H19.4M18.4 225.71V255.32M18.4 225.71H18.9M18.4 255.32H18.9M14 190.06V240.51M14 190.06H18.7M14 240.51H18.4M8.2 146.94V215.29M8.2 146.94H15.7M8.2 215.29H14M5.3 98.3V181.11M5.3 98.3H13.4M5.3 181.11H8.2M1.3 64.41V139.7M1.3 64.41H7.4M1.3 139.7H5.3" stroke="#151515" stroke-width="0.8" fill="none"/>
<rect x="26" y="55.5" width="4" height="223" fill="#000"/>
<rect x="385.2" y="56.2" width="5" height="81" fill="url(#cb)"/>
<g font-size="5.3" fill="#222" stroke="#222" stroke-width="0.12">
<text x="392.2" y="64.2">14</text><text x="392.2" y="85.2">12</text><text x="392.2" y="105.8">10</text><text x="392.2" y="126.8">8</text>
</g>
<g font-size="5.2" fill="#111" stroke="#111" stroke-width="0.12">
<text x="29.8" y="5.3" font-weight="bold">Disease</text>
<rect x="29.7" y="7.3" width="7.1" height="7.1" fill="#f6bccb"/>
<rect x="29.7" y="15.2" width="7.1" height="7.1" fill="#03077f"/>
<rect x="29.7" y="23.1" width="7.1" height="7.1" fill="#86f2f6"/>
<text x="39" y="13">Control</text><text x="39" y="20.9">Bacterial</text><text x="39" y="28.8">Fungal</text>
</g>
<g font-size="5.3" fill="#1a1a1a" stroke="#1a1a1a" stroke-width="0.12">
<text transform="translate(34.62,281) rotate(90)">Control.2</text>
<text transform="translate(47.66,281) rotate(90)">Control.3</text>
<text transform="translate(60.69,281) rotate(90)">Control.5</text>
<text transform="translate(73.73,281) rotate(90)">Control.10</text>
<text transform="translate(86.77,281) rotate(90)">Control.1</text>
<text transform="translate(99.8,281) rotate(90)">Control.12</text>
<text transform="translate(112.84,281) rotate(90)">Control.7</text>
<text transform="translate(125.88,281) rotate(90)">Control.4</text>
<text transform="translate(138.91,281) rotate(90)">Control.9</text>
<text transform="translate(151.95,281) rotate(90)">Control.6</text>
<text transform="translate(164.99,281) rotate(90)">Control.8</text>
<text transform="translate(178.03,281) rotate(90)">Control.11</text>
<text transform="translate(191.06,281) rotate(90)">Streptococcus.pneumoniae.3</text>
<text transform="translate(204.1,281) rotate(90)">Lasio.diplodia</text>
<text transform="translate(217.14,281) rotate(90)">Fusarium.species.5</text>
<text transform="translate(230.17,281) rotate(90)">Streptococcus.pneumoniae.5</text>
<text transform="translate(243.21,281) rotate(90)">Streptococcus.pneumoniae.4</text>
<text transform="translate(256.25,281) rotate(90)">Streptococcus.pneumoniae.2</text>
<text transform="translate(269.29,281) rotate(90)">Streptococcus.pneumoniae.6</text>
<text transform="translate(282.32,281) rotate(90)">Fusarium.species.1</text>
<text transform="translate(295.36,281) rotate(90)">Fusarium.species.4</text>
<text transform="translate(308.4,281) rotate(90)">Aspergillus.flavus</text>
<text transform="translate(321.43,281) rotate(90)">Fusarium.species.2</text>
<text transform="translate(334.47,281) rotate(90)">Streptococcus.pneumoniae.1</text>
<text transform="translate(347.51,281) rotate(90)">Pseudomonas.aeruginosa</text>
<text transform="translate(360.54,281) rotate(90)">Fusarium.species.3</text>
<text transform="translate(373.58,281) rotate(90)">Aspergillus.terreus</text>
</g>
</svg>
</body></html>
